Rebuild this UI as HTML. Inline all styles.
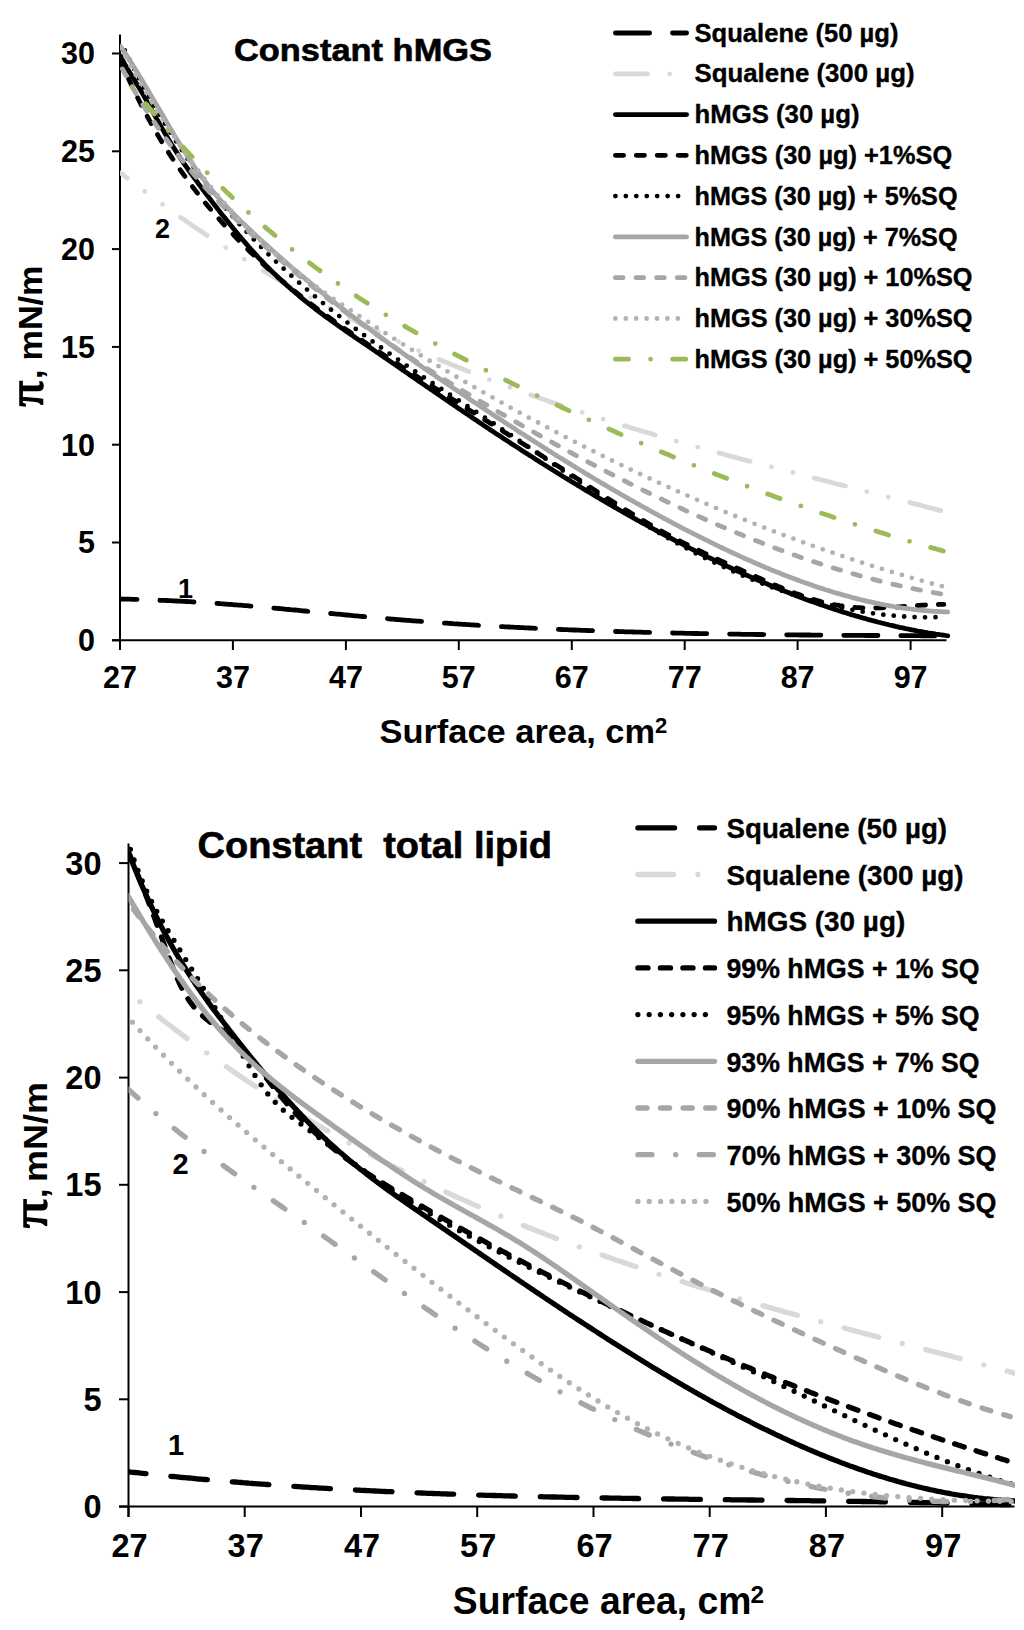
<!DOCTYPE html>
<html><head><meta charset="utf-8"><title>Surface pressure isotherms</title>
<style>
html,body{margin:0;padding:0;background:#fff;}
svg{display:block;}
</style></head>
<body>
<svg width="1024" height="1630" viewBox="0 0 1024 1630">
<rect width="1024" height="1630" fill="#fff"/>
<g stroke="#000" stroke-width="2" fill="none">
<line x1="120" y1="34.5" x2="120" y2="650"/>
<line x1="112" y1="640.3" x2="946.5" y2="640.3"/>
<line x1="112" y1="640.3" x2="120" y2="640.3"/>
<line x1="112" y1="542.5" x2="120" y2="542.5"/>
<line x1="112" y1="444.7" x2="120" y2="444.7"/>
<line x1="112" y1="346.9" x2="120" y2="346.9"/>
<line x1="112" y1="249.1" x2="120" y2="249.1"/>
<line x1="112" y1="151.3" x2="120" y2="151.3"/>
<line x1="112" y1="53.5" x2="120" y2="53.5"/>
<line x1="120.0" y1="640.3" x2="120.0" y2="650"/>
<line x1="232.9" y1="640.3" x2="232.9" y2="650"/>
<line x1="345.9" y1="640.3" x2="345.9" y2="650"/>
<line x1="458.8" y1="640.3" x2="458.8" y2="650"/>
<line x1="571.8" y1="640.3" x2="571.8" y2="650"/>
<line x1="684.7" y1="640.3" x2="684.7" y2="650"/>
<line x1="797.6" y1="640.3" x2="797.6" y2="650"/>
<line x1="910.6" y1="640.3" x2="910.6" y2="650"/>
</g>
<text x="95.0" y="651.1" font-size="30.5" text-anchor="end" font-weight="bold" font-family='"Liberation Sans", Arial, sans-serif'>0</text>
<text x="95.0" y="553.3" font-size="30.5" text-anchor="end" font-weight="bold" font-family='"Liberation Sans", Arial, sans-serif'>5</text>
<text x="95.0" y="455.5" font-size="30.5" text-anchor="end" font-weight="bold" font-family='"Liberation Sans", Arial, sans-serif'>10</text>
<text x="95.0" y="357.7" font-size="30.5" text-anchor="end" font-weight="bold" font-family='"Liberation Sans", Arial, sans-serif'>15</text>
<text x="95.0" y="259.9" font-size="30.5" text-anchor="end" font-weight="bold" font-family='"Liberation Sans", Arial, sans-serif'>20</text>
<text x="95.0" y="162.1" font-size="30.5" text-anchor="end" font-weight="bold" font-family='"Liberation Sans", Arial, sans-serif'>25</text>
<text x="95.0" y="64.3" font-size="30.5" text-anchor="end" font-weight="bold" font-family='"Liberation Sans", Arial, sans-serif'>30</text>
<text x="120.0" y="687.7" font-size="30.5" text-anchor="middle" font-weight="bold" font-family='"Liberation Sans", Arial, sans-serif'>27</text>
<text x="232.9" y="687.7" font-size="30.5" text-anchor="middle" font-weight="bold" font-family='"Liberation Sans", Arial, sans-serif'>37</text>
<text x="345.9" y="687.7" font-size="30.5" text-anchor="middle" font-weight="bold" font-family='"Liberation Sans", Arial, sans-serif'>47</text>
<text x="458.8" y="687.7" font-size="30.5" text-anchor="middle" font-weight="bold" font-family='"Liberation Sans", Arial, sans-serif'>57</text>
<text x="571.8" y="687.7" font-size="30.5" text-anchor="middle" font-weight="bold" font-family='"Liberation Sans", Arial, sans-serif'>67</text>
<text x="684.7" y="687.7" font-size="30.5" text-anchor="middle" font-weight="bold" font-family='"Liberation Sans", Arial, sans-serif'>77</text>
<text x="797.6" y="687.7" font-size="30.5" text-anchor="middle" font-weight="bold" font-family='"Liberation Sans", Arial, sans-serif'>87</text>
<text x="910.6" y="687.7" font-size="30.5" text-anchor="middle" font-weight="bold" font-family='"Liberation Sans", Arial, sans-serif'>97</text>
<g stroke="#000" stroke-width="2" fill="none">
<line x1="128.5" y1="843.4" x2="128.5" y2="1517"/>
<line x1="119" y1="1506.6" x2="1014.5" y2="1506.6"/>
<line x1="119" y1="1506.6" x2="128.5" y2="1506.6"/>
<line x1="119" y1="1399.3" x2="128.5" y2="1399.3"/>
<line x1="119" y1="1292.1" x2="128.5" y2="1292.1"/>
<line x1="119" y1="1184.8" x2="128.5" y2="1184.8"/>
<line x1="119" y1="1077.6" x2="128.5" y2="1077.6"/>
<line x1="119" y1="970.3" x2="128.5" y2="970.3"/>
<line x1="119" y1="863.1" x2="128.5" y2="863.1"/>
<line x1="128.5" y1="1506.6" x2="128.5" y2="1517"/>
<line x1="244.7" y1="1506.6" x2="244.7" y2="1517"/>
<line x1="361.0" y1="1506.6" x2="361.0" y2="1517"/>
<line x1="477.2" y1="1506.6" x2="477.2" y2="1517"/>
<line x1="593.5" y1="1506.6" x2="593.5" y2="1517"/>
<line x1="709.7" y1="1506.6" x2="709.7" y2="1517"/>
<line x1="825.9" y1="1506.6" x2="825.9" y2="1517"/>
<line x1="942.2" y1="1506.6" x2="942.2" y2="1517"/>
</g>
<text x="101.5" y="1518.2" font-size="32.5" text-anchor="end" font-weight="bold" font-family='"Liberation Sans", Arial, sans-serif'>0</text>
<text x="101.5" y="1410.9" font-size="32.5" text-anchor="end" font-weight="bold" font-family='"Liberation Sans", Arial, sans-serif'>5</text>
<text x="101.5" y="1303.7" font-size="32.5" text-anchor="end" font-weight="bold" font-family='"Liberation Sans", Arial, sans-serif'>10</text>
<text x="101.5" y="1196.4" font-size="32.5" text-anchor="end" font-weight="bold" font-family='"Liberation Sans", Arial, sans-serif'>15</text>
<text x="101.5" y="1089.2" font-size="32.5" text-anchor="end" font-weight="bold" font-family='"Liberation Sans", Arial, sans-serif'>20</text>
<text x="101.5" y="981.9" font-size="32.5" text-anchor="end" font-weight="bold" font-family='"Liberation Sans", Arial, sans-serif'>25</text>
<text x="101.5" y="874.7" font-size="32.5" text-anchor="end" font-weight="bold" font-family='"Liberation Sans", Arial, sans-serif'>30</text>
<text x="129.5" y="1556.7" font-size="32.5" text-anchor="middle" font-weight="bold" font-family='"Liberation Sans", Arial, sans-serif'>27</text>
<text x="245.7" y="1556.7" font-size="32.5" text-anchor="middle" font-weight="bold" font-family='"Liberation Sans", Arial, sans-serif'>37</text>
<text x="362.0" y="1556.7" font-size="32.5" text-anchor="middle" font-weight="bold" font-family='"Liberation Sans", Arial, sans-serif'>47</text>
<text x="478.2" y="1556.7" font-size="32.5" text-anchor="middle" font-weight="bold" font-family='"Liberation Sans", Arial, sans-serif'>57</text>
<text x="594.5" y="1556.7" font-size="32.5" text-anchor="middle" font-weight="bold" font-family='"Liberation Sans", Arial, sans-serif'>67</text>
<text x="710.7" y="1556.7" font-size="32.5" text-anchor="middle" font-weight="bold" font-family='"Liberation Sans", Arial, sans-serif'>77</text>
<text x="826.9" y="1556.7" font-size="32.5" text-anchor="middle" font-weight="bold" font-family='"Liberation Sans", Arial, sans-serif'>87</text>
<text x="943.2" y="1556.7" font-size="32.5" text-anchor="middle" font-weight="bold" font-family='"Liberation Sans", Arial, sans-serif'>97</text>
<defs><clipPath id="c1"><rect x="120" y="28" width="830" height="617"/></clipPath><clipPath id="c2"><rect x="128.5" y="836" width="886.5" height="674"/></clipPath></defs>
<g clip-path="url(#c1)">
<path d="M120.3,599.0 L122.3,599.1 L124.3,599.1 L126.3,599.1 L128.3,599.2 L130.3,599.2 L132.3,599.3 L134.3,599.4 L136.3,599.4 L138.3,599.5 L140.3,599.5 L142.3,599.6 L144.3,599.7 L146.4,599.7 L148.4,599.8 L150.4,599.9 L152.4,599.9 L154.4,600.0 L156.4,600.1 L158.4,600.2 L160.4,600.3 L162.4,600.3 L164.4,600.4 L166.4,600.5 L168.4,600.6 L170.4,600.7 L172.4,600.8 L174.4,600.9 L176.4,601.0 L178.4,601.1 L180.4,601.2 L182.4,601.3 L184.4,601.4 L186.4,601.5 L188.4,601.6 L190.4,601.7 L192.4,601.9 L194.5,602.0 L196.5,602.1 L198.5,602.2 L200.5,602.3 L202.5,602.5 L204.5,602.6 L206.5,602.7 L208.5,602.9 L210.5,603.0 L212.5,603.1 L214.5,603.3 L216.5,603.4 L218.5,603.5 L220.5,603.7 L222.5,603.8 L224.5,604.0 L226.5,604.1 L228.5,604.3 L230.5,604.4 L232.5,604.6 L234.5,604.8 L236.5,604.9 L238.5,605.1 L240.5,605.2 L242.6,605.4 L244.6,605.6 L246.6,605.7 L248.6,605.9 L250.6,606.1 L252.6,606.2 L254.6,606.4 L256.6,606.6 L258.6,606.7 L260.6,606.9 L262.6,607.1 L264.6,607.3 L266.6,607.5 L268.6,607.6 L270.6,607.8 L272.6,608.0 L274.6,608.2 L276.6,608.4 L278.6,608.5 L280.6,608.7 L282.6,608.9 L284.6,609.1 L286.6,609.3 L288.6,609.5 L290.7,609.7 L292.7,609.8 L294.7,610.0 L296.7,610.2 L298.7,610.4 L300.7,610.6 L302.7,610.8 L304.7,611.0 L306.7,611.2 L308.7,611.4 L310.7,611.6 L312.7,611.7 L314.7,611.9 L316.7,612.1 L318.7,612.3 L320.7,612.5 L322.7,612.7 L324.7,612.9 L326.7,613.1 L328.7,613.3 L330.7,613.5 L332.7,613.7 L334.7,613.9 L336.7,614.1 L338.7,614.2 L340.8,614.4 L342.8,614.6 L344.8,614.8 L346.8,615.0 L348.8,615.2 L350.8,615.4 L352.8,615.6 L354.8,615.8 L356.8,615.9 L358.8,616.1 L360.8,616.3 L362.8,616.5 L364.8,616.7 L366.8,616.9 L368.8,617.0 L370.8,617.2 L372.8,617.4 L374.8,617.6 L376.8,617.8 L378.8,617.9 L380.8,618.1 L382.8,618.3 L384.8,618.5 L386.8,618.6 L388.9,618.8 L390.9,619.0 L392.9,619.1 L394.9,619.3 L396.9,619.5 L398.9,619.6 L400.9,619.8 L402.9,620.0 L404.9,620.1 L406.9,620.3 L408.9,620.4 L410.9,620.6 L412.9,620.8 L414.9,620.9 L416.9,621.1 L418.9,621.2 L420.9,621.4 L422.9,621.5 L424.9,621.7 L426.9,621.8 L428.9,622.0 L430.9,622.1 L432.9,622.3 L434.9,622.4 L437.0,622.5 L439.0,622.7 L441.0,622.8 L443.0,623.0 L445.0,623.1 L447.0,623.2 L449.0,623.4 L451.0,623.5 L453.0,623.7 L455.0,623.8 L457.0,623.9 L459.0,624.1 L461.0,624.2 L463.0,624.3 L465.0,624.4 L467.0,624.6 L469.0,624.7 L471.0,624.8 L473.0,624.9 L475.0,625.1 L477.0,625.2 L479.0,625.3 L481.0,625.4 L483.0,625.6 L485.1,625.7 L487.1,625.8 L489.1,625.9 L491.1,626.0 L493.1,626.1 L495.1,626.2 L497.1,626.4 L499.1,626.5 L501.1,626.6 L503.1,626.7 L505.1,626.8 L507.1,626.9 L509.1,627.0 L511.1,627.1 L513.1,627.2 L515.1,627.3 L517.1,627.4 L519.1,627.5 L521.1,627.6 L523.1,627.7 L525.1,627.8 L527.1,627.9 L529.1,628.0 L531.1,628.1 L533.1,628.2 L535.2,628.3 L537.2,628.4 L539.2,628.5 L541.2,628.6 L543.2,628.7 L545.2,628.8 L547.2,628.9 L549.2,629.0 L551.2,629.1 L553.2,629.1 L555.2,629.2 L557.2,629.3 L559.2,629.4 L561.2,629.5 L563.2,629.6 L565.2,629.6 L567.2,629.7 L569.2,629.8 L571.2,629.9 L573.2,630.0 L575.2,630.0 L577.2,630.1 L579.2,630.2 L581.2,630.3 L583.3,630.4 L585.3,630.4 L587.3,630.5 L589.3,630.6 L591.3,630.6 L593.3,630.7 L595.3,630.8 L597.3,630.9 L599.3,630.9 L601.3,631.0 L603.3,631.1 L605.3,631.1 L607.3,631.2 L609.3,631.3 L611.3,631.3 L613.3,631.4 L615.3,631.5 L617.3,631.5 L619.3,631.6 L621.3,631.6 L623.3,631.7 L625.3,631.8 L627.3,631.8 L629.3,631.9 L631.4,631.9 L633.4,632.0 L635.4,632.1 L637.4,632.1 L639.4,632.2 L641.4,632.2 L643.4,632.3 L645.4,632.3 L647.4,632.4 L649.4,632.4 L651.4,632.5 L653.4,632.5 L655.4,632.6 L657.4,632.6 L659.4,632.7 L661.4,632.7 L663.4,632.8 L665.4,632.8 L667.4,632.9 L669.4,632.9 L671.4,633.0 L673.4,633.0 L675.4,633.1 L677.4,633.1 L679.5,633.2 L681.5,633.2 L683.5,633.2 L685.5,633.3 L687.5,633.3 L689.5,633.4 L691.5,633.4 L693.5,633.5 L695.5,633.5 L697.5,633.5 L699.5,633.6 L701.5,633.6 L703.5,633.6 L705.5,633.7 L707.5,633.7 L709.5,633.8 L711.5,633.8 L713.5,633.8 L715.5,633.9 L717.5,633.9 L719.5,633.9 L721.5,634.0 L723.5,634.0 L725.5,634.0 L727.6,634.1 L729.6,634.1 L731.6,634.1 L733.6,634.2 L735.6,634.2 L737.6,634.2 L739.6,634.2 L741.6,634.3 L743.6,634.3 L745.6,634.3 L747.6,634.4 L749.6,634.4 L751.6,634.4 L753.6,634.4 L755.6,634.5 L757.6,634.5 L759.6,634.5 L761.6,634.5 L763.6,634.6 L765.6,634.6 L767.6,634.6 L769.6,634.6 L771.6,634.7 L773.6,634.7 L775.6,634.7 L777.7,634.7 L779.7,634.8 L781.7,634.8 L783.7,634.8 L785.7,634.8 L787.7,634.8 L789.7,634.9 L791.7,634.9 L793.7,634.9 L795.7,634.9 L797.7,634.9 L799.7,635.0 L801.7,635.0 L803.7,635.0 L805.7,635.0 L807.7,635.0 L809.7,635.0 L811.7,635.1 L813.7,635.1 L815.7,635.1 L817.7,635.1 L819.7,635.1 L821.7,635.1 L823.7,635.2 L825.8,635.2 L827.8,635.2 L829.8,635.2 L831.8,635.2 L833.8,635.2 L835.8,635.3 L837.8,635.3 L839.8,635.3 L841.8,635.3 L843.8,635.3 L845.8,635.3 L847.8,635.3 L849.8,635.4 L851.8,635.4 L853.8,635.4 L855.8,635.4 L857.8,635.4 L859.8,635.4 L861.8,635.4 L863.8,635.4 L865.8,635.5 L867.8,635.5 L869.8,635.5 L871.8,635.5 L873.9,635.5 L875.9,635.5 L877.9,635.5 L879.9,635.5 L881.9,635.5 L883.9,635.6 L885.9,635.6 L887.9,635.6 L889.9,635.6 L891.9,635.6 L893.9,635.6 L895.9,635.6 L897.9,635.6 L899.9,635.6 L901.9,635.7 L903.9,635.7 L905.9,635.7 L907.9,635.7 L909.9,635.7 L911.9,635.7 L913.9,635.7 L915.9,635.7 L917.9,635.7 L919.9,635.7 L922.0,635.8 L924.0,635.8 L926.0,635.8 L928.0,635.8 L930.0,635.8 L932.0,635.8 L934.0,635.8 L936.0,635.8 L938.0,635.8 L940.0,635.8 L942.0,635.9 L944.0,635.9 L946.0,635.9" fill="none" stroke="#000" stroke-width="4.8" stroke-linecap="round" stroke-linejoin="round" stroke-dasharray="34.2 22.9" stroke-dashoffset="17.47"/>
<path d="M120.9,173.1 L122.9,174.7 L124.9,176.3 L126.9,177.8 L128.9,179.4 L130.9,180.9 L132.9,182.4 L134.9,184.0 L136.9,185.5 L138.9,187.0 L140.9,188.5 L142.9,190.0 L144.9,191.5 L146.9,193.0 L148.9,194.5 L150.9,196.0 L152.9,197.5 L154.9,198.9 L156.9,200.4 L159.0,201.9 L161.0,203.3 L163.0,204.8 L165.0,206.2 L167.0,207.7 L169.0,209.1 L171.0,210.5 L173.0,211.9 L175.0,213.4 L177.0,214.8 L179.0,216.2 L181.0,217.6 L183.0,219.0 L185.0,220.4 L187.0,221.8 L189.0,223.1 L191.0,224.5 L193.0,225.9 L195.0,227.2 L197.0,228.6 L199.0,230.0 L201.0,231.3 L203.0,232.6 L205.0,234.0 L207.0,235.3 L209.0,236.7 L211.0,238.0 L213.0,239.3 L215.0,240.6 L217.0,241.9 L219.0,243.2 L221.0,244.5 L223.0,245.8 L225.0,247.1 L227.0,248.4 L229.0,249.7 L231.0,250.9 L233.0,252.2 L235.1,253.5 L237.1,254.7 L239.1,256.0 L241.1,257.2 L243.1,258.5 L245.1,259.7 L247.1,260.9 L249.1,262.2 L251.1,263.4 L253.1,264.6 L255.1,265.8 L257.1,267.0 L259.1,268.3 L261.1,269.5 L263.1,270.6 L265.1,271.8 L267.1,273.0 L269.1,274.2 L271.1,275.4 L273.1,276.6 L275.1,277.7 L277.1,278.9 L279.1,280.1 L281.1,281.2 L283.1,282.4 L285.1,283.5 L287.1,284.6 L289.1,285.8 L291.1,286.9 L293.1,288.0 L295.1,289.2 L297.1,290.3 L299.1,291.4 L301.1,292.5 L303.1,293.6 L305.1,294.7 L307.1,295.8 L309.2,296.9 L311.2,298.0 L313.2,299.1 L315.2,300.2 L317.2,301.2 L319.2,302.3 L321.2,303.4 L323.2,304.4 L325.2,305.5 L327.2,306.6 L329.2,307.6 L331.2,308.7 L333.2,309.7 L335.2,310.7 L337.2,311.8 L339.2,312.8 L341.2,313.8 L343.2,314.9 L345.2,315.9 L347.2,316.9 L349.2,317.9 L351.2,318.9 L353.2,319.9 L355.2,320.9 L357.2,321.9 L359.2,322.9 L361.2,323.9 L363.2,324.9 L365.2,325.8 L367.2,326.8 L369.2,327.8 L371.2,328.7 L373.2,329.7 L375.2,330.7 L377.2,331.6 L379.2,332.6 L381.2,333.5 L383.2,334.5 L385.3,335.4 L387.3,336.4 L389.3,337.3 L391.3,338.2 L393.3,339.1 L395.3,340.1 L397.3,341.0 L399.3,341.9 L401.3,342.8 L403.3,343.7 L405.3,344.6 L407.3,345.5 L409.3,346.4 L411.3,347.3 L413.3,348.2 L415.3,349.1 L417.3,350.0 L419.3,350.9 L421.3,351.7 L423.3,352.6 L425.3,353.5 L427.3,354.3 L429.3,355.2 L431.3,356.1 L433.3,356.9 L435.3,357.8 L437.3,358.6 L439.3,359.5 L441.3,360.3 L443.3,361.2 L445.3,362.0 L447.3,362.8 L449.3,363.7 L451.3,364.5 L453.3,365.3 L455.3,366.1 L457.3,367.0 L459.4,367.8 L461.4,368.6 L463.4,369.4 L465.4,370.2 L467.4,371.0 L469.4,371.8 L471.4,372.6 L473.4,373.4 L475.4,374.2 L477.4,375.0 L479.4,375.8 L481.4,376.5 L483.4,377.3 L485.4,378.1 L487.4,378.9 L489.4,379.6 L491.4,380.4 L493.4,381.2 L495.4,381.9 L497.4,382.7 L499.4,383.4 L501.4,384.2 L503.4,384.9 L505.4,385.7 L507.4,386.4 L509.4,387.2 L511.4,387.9 L513.4,388.7 L515.4,389.4 L517.4,390.1 L519.4,390.9 L521.4,391.6 L523.4,392.3 L525.4,393.0 L527.4,393.7 L529.4,394.5 L531.4,395.2 L533.5,395.9 L535.5,396.6 L537.5,397.3 L539.5,398.0 L541.5,398.7 L543.5,399.4 L545.5,400.1 L547.5,400.8 L549.5,401.5 L551.5,402.2 L553.5,402.9 L555.5,403.5 L557.5,404.2 L559.5,404.9 L561.5,405.6 L563.5,406.3 L565.5,406.9 L567.5,407.6 L569.5,408.3 L571.5,408.9 L573.5,409.6 L575.5,410.3 L577.5,410.9 L579.5,411.6 L581.5,412.2 L583.5,412.9 L585.5,413.5 L587.5,414.2 L589.5,414.8 L591.5,415.5 L593.5,416.1 L595.5,416.8 L597.5,417.4 L599.5,418.0 L601.5,418.7 L603.5,419.3 L605.5,419.9 L607.5,420.6 L609.6,421.2 L611.6,421.8 L613.6,422.4 L615.6,423.1 L617.6,423.7 L619.6,424.3 L621.6,424.9 L623.6,425.5 L625.6,426.1 L627.6,426.7 L629.6,427.3 L631.6,428.0 L633.6,428.6 L635.6,429.2 L637.6,429.8 L639.6,430.4 L641.6,431.0 L643.6,431.6 L645.6,432.2 L647.6,432.7 L649.6,433.3 L651.6,433.9 L653.6,434.5 L655.6,435.1 L657.6,435.7 L659.6,436.3 L661.6,436.9 L663.6,437.4 L665.6,438.0 L667.6,438.6 L669.6,439.2 L671.6,439.7 L673.6,440.3 L675.6,440.9 L677.6,441.5 L679.6,442.0 L681.6,442.6 L683.7,443.2 L685.7,443.7 L687.7,444.3 L689.7,444.9 L691.7,445.4 L693.7,446.0 L695.7,446.5 L697.7,447.1 L699.7,447.7 L701.7,448.2 L703.7,448.8 L705.7,449.3 L707.7,449.9 L709.7,450.4 L711.7,451.0 L713.7,451.5 L715.7,452.1 L717.7,452.6 L719.7,453.2 L721.7,453.7 L723.7,454.2 L725.7,454.8 L727.7,455.3 L729.7,455.9 L731.7,456.4 L733.7,457.0 L735.7,457.5 L737.7,458.0 L739.7,458.6 L741.7,459.1 L743.7,459.6 L745.7,460.2 L747.7,460.7 L749.7,461.2 L751.7,461.8 L753.7,462.3 L755.7,462.8 L757.7,463.4 L759.8,463.9 L761.8,464.4 L763.8,464.9 L765.8,465.5 L767.8,466.0 L769.8,466.5 L771.8,467.0 L773.8,467.6 L775.8,468.1 L777.8,468.6 L779.8,469.1 L781.8,469.6 L783.8,470.2 L785.8,470.7 L787.8,471.2 L789.8,471.7 L791.8,472.2 L793.8,472.8 L795.8,473.3 L797.8,473.8 L799.8,474.3 L801.8,474.8 L803.8,475.3 L805.8,475.9 L807.8,476.4 L809.8,476.9 L811.8,477.4 L813.8,477.9 L815.8,478.4 L817.8,479.0 L819.8,479.5 L821.8,480.0 L823.8,480.5 L825.8,481.0 L827.8,481.5 L829.8,482.0 L831.8,482.5 L833.9,483.1 L835.9,483.6 L837.9,484.1 L839.9,484.6 L841.9,485.1 L843.9,485.6 L845.9,486.1 L847.9,486.6 L849.9,487.2 L851.9,487.7 L853.9,488.2 L855.9,488.7 L857.9,489.2 L859.9,489.7 L861.9,490.2 L863.9,490.7 L865.9,491.3 L867.9,491.8 L869.9,492.3 L871.9,492.8 L873.9,493.3 L875.9,493.8 L877.9,494.3 L879.9,494.9 L881.9,495.4 L883.9,495.9 L885.9,496.4 L887.9,496.9 L889.9,497.4 L891.9,497.9 L893.9,498.5 L895.9,499.0 L897.9,499.5 L899.9,500.0 L901.9,500.5 L903.9,501.0 L905.9,501.6 L907.9,502.1 L910.0,502.6 L912.0,503.1 L914.0,503.6 L916.0,504.2 L918.0,504.7 L920.0,505.2 L922.0,505.7 L924.0,506.3 L926.0,506.8 L928.0,507.3 L930.0,507.8 L932.0,508.4 L934.0,508.9 L936.0,509.4 L938.0,509.9 L940.0,510.5 L942.0,511.0 L944.0,511.5 L946.0,512.1" fill="none" stroke="#d9d9d9" stroke-width="4.8" stroke-linecap="round" stroke-linejoin="round" stroke-dasharray="32.2 22.1 0 22.1 0 22.1" stroke-dashoffset="24.24"/>
<path d="M120.5,55.9 L122.5,59.9 L124.5,63.7 L126.5,67.2 L128.5,70.5 L130.5,73.7 L132.5,76.9 L134.5,80.1 L136.5,83.4 L138.5,86.7 L140.5,90.1 L142.5,93.6 L144.5,97.1 L146.5,100.6 L148.5,104.2 L150.5,107.8 L152.5,111.4 L154.5,115.0 L156.6,118.6 L158.6,122.2 L160.6,125.8 L162.6,129.3 L164.6,132.7 L166.6,136.1 L168.6,139.5 L170.6,142.8 L172.6,146.0 L174.6,149.1 L176.6,152.3 L178.6,155.3 L180.6,158.4 L182.6,161.3 L184.6,164.3 L186.6,167.2 L188.6,170.0 L190.6,172.8 L192.6,175.6 L194.6,178.4 L196.6,181.1 L198.6,183.9 L200.6,186.5 L202.6,189.2 L204.6,191.9 L206.6,194.5 L208.6,197.1 L210.6,199.7 L212.6,202.4 L214.6,204.9 L216.6,207.5 L218.6,210.1 L220.6,212.7 L222.6,215.2 L224.7,217.7 L226.7,220.3 L228.7,222.8 L230.7,225.2 L232.7,227.7 L234.7,230.2 L236.7,232.6 L238.7,235.0 L240.7,237.4 L242.7,239.7 L244.7,242.1 L246.7,244.4 L248.7,246.7 L250.7,249.0 L252.7,251.2 L254.7,253.4 L256.7,255.6 L258.7,257.8 L260.7,259.9 L262.7,262.0 L264.7,264.1 L266.7,266.2 L268.7,268.2 L270.7,270.2 L272.7,272.2 L274.7,274.1 L276.7,276.0 L278.7,277.9 L280.7,279.8 L282.7,281.6 L284.7,283.5 L286.7,285.3 L288.7,287.0 L290.7,288.8 L292.7,290.5 L294.8,292.3 L296.8,294.0 L298.8,295.6 L300.8,297.3 L302.8,298.9 L304.8,300.6 L306.8,302.2 L308.8,303.8 L310.8,305.3 L312.8,306.9 L314.8,308.5 L316.8,310.0 L318.8,311.5 L320.8,313.0 L322.8,314.5 L324.8,316.0 L326.8,317.5 L328.8,318.9 L330.8,320.4 L332.8,321.8 L334.8,323.2 L336.8,324.7 L338.8,326.1 L340.8,327.5 L342.8,328.9 L344.8,330.3 L346.8,331.7 L348.8,333.1 L350.8,334.5 L352.8,335.8 L354.8,337.2 L356.8,338.6 L358.8,339.9 L360.8,341.3 L362.9,342.7 L364.9,344.0 L366.9,345.4 L368.9,346.8 L370.9,348.1 L372.9,349.5 L374.9,350.9 L376.9,352.3 L378.9,353.6 L380.9,355.0 L382.9,356.4 L384.9,357.7 L386.9,359.1 L388.9,360.5 L390.9,361.9 L392.9,363.3 L394.9,364.6 L396.9,366.0 L398.9,367.4 L400.9,368.8 L402.9,370.2 L404.9,371.5 L406.9,372.9 L408.9,374.3 L410.9,375.7 L412.9,377.1 L414.9,378.4 L416.9,379.8 L418.9,381.2 L420.9,382.6 L422.9,384.0 L424.9,385.3 L426.9,386.7 L428.9,388.1 L431.0,389.5 L433.0,390.8 L435.0,392.2 L437.0,393.6 L439.0,395.0 L441.0,396.3 L443.0,397.7 L445.0,399.1 L447.0,400.5 L449.0,401.8 L451.0,403.2 L453.0,404.6 L455.0,405.9 L457.0,407.3 L459.0,408.7 L461.0,410.0 L463.0,411.4 L465.0,412.7 L467.0,414.1 L469.0,415.4 L471.0,416.8 L473.0,418.2 L475.0,419.5 L477.0,420.8 L479.0,422.2 L481.0,423.5 L483.0,424.9 L485.0,426.2 L487.0,427.5 L489.0,428.9 L491.0,430.2 L493.0,431.5 L495.0,432.9 L497.0,434.2 L499.0,435.5 L501.1,436.8 L503.1,438.2 L505.1,439.5 L507.1,440.8 L509.1,442.1 L511.1,443.4 L513.1,444.7 L515.1,446.0 L517.1,447.3 L519.1,448.6 L521.1,449.9 L523.1,451.2 L525.1,452.5 L527.1,453.8 L529.1,455.1 L531.1,456.3 L533.1,457.6 L535.1,458.9 L537.1,460.2 L539.1,461.4 L541.1,462.7 L543.1,464.0 L545.1,465.2 L547.1,466.5 L549.1,467.8 L551.1,469.0 L553.1,470.3 L555.1,471.5 L557.1,472.8 L559.1,474.0 L561.1,475.2 L563.1,476.5 L565.1,477.7 L567.1,478.9 L569.2,480.2 L571.2,481.4 L573.2,482.6 L575.2,483.8 L577.2,485.1 L579.2,486.3 L581.2,487.5 L583.2,488.7 L585.2,489.9 L587.2,491.1 L589.2,492.3 L591.2,493.5 L593.2,494.7 L595.2,495.9 L597.2,497.1 L599.2,498.2 L601.2,499.4 L603.2,500.6 L605.2,501.8 L607.2,502.9 L609.2,504.1 L611.2,505.3 L613.2,506.4 L615.2,507.6 L617.2,508.7 L619.2,509.9 L621.2,511.0 L623.2,512.2 L625.2,513.3 L627.2,514.4 L629.2,515.6 L631.2,516.7 L633.2,517.8 L635.2,518.9 L637.2,520.1 L639.3,521.2 L641.3,522.3 L643.3,523.4 L645.3,524.5 L647.3,525.6 L649.3,526.7 L651.3,527.8 L653.3,528.9 L655.3,530.0 L657.3,531.0 L659.3,532.1 L661.3,533.2 L663.3,534.3 L665.3,535.3 L667.3,536.4 L669.3,537.4 L671.3,538.5 L673.3,539.5 L675.3,540.6 L677.3,541.6 L679.3,542.7 L681.3,543.7 L683.3,544.7 L685.3,545.8 L687.3,546.8 L689.3,547.8 L691.3,548.8 L693.3,549.8 L695.3,550.8 L697.3,551.8 L699.3,552.8 L701.3,553.8 L703.3,554.8 L705.3,555.8 L707.4,556.8 L709.4,557.8 L711.4,558.7 L713.4,559.7 L715.4,560.7 L717.4,561.6 L719.4,562.6 L721.4,563.5 L723.4,564.5 L725.4,565.4 L727.4,566.4 L729.4,567.3 L731.4,568.2 L733.4,569.1 L735.4,570.1 L737.4,571.0 L739.4,571.9 L741.4,572.8 L743.4,573.7 L745.4,574.6 L747.4,575.5 L749.4,576.4 L751.4,577.3 L753.4,578.1 L755.4,579.0 L757.4,579.9 L759.4,580.7 L761.4,581.6 L763.4,582.5 L765.4,583.3 L767.4,584.1 L769.4,585.0 L771.4,585.8 L773.4,586.6 L775.5,587.5 L777.5,588.3 L779.5,589.1 L781.5,589.9 L783.5,590.7 L785.5,591.5 L787.5,592.3 L789.5,593.1 L791.5,593.9 L793.5,594.6 L795.5,595.4 L797.5,596.2 L799.5,596.9 L801.5,597.7 L803.5,598.4 L805.5,599.2 L807.5,599.9 L809.5,600.7 L811.5,601.4 L813.5,602.1 L815.5,602.8 L817.5,603.5 L819.5,604.2 L821.5,604.9 L823.5,605.6 L825.5,606.3 L827.5,607.0 L829.5,607.7 L831.5,608.3 L833.5,609.0 L835.5,609.6 L837.5,610.3 L839.5,610.9 L841.5,611.6 L843.5,612.2 L845.6,612.8 L847.6,613.4 L849.6,614.1 L851.6,614.7 L853.6,615.3 L855.6,615.9 L857.6,616.4 L859.6,617.0 L861.6,617.6 L863.6,618.2 L865.6,618.7 L867.6,619.3 L869.6,619.8 L871.6,620.4 L873.6,620.9 L875.6,621.4 L877.6,622.0 L879.6,622.5 L881.6,623.0 L883.6,623.5 L885.6,624.0 L887.6,624.5 L889.6,625.0 L891.6,625.4 L893.6,625.9 L895.6,626.4 L897.6,626.8 L899.6,627.3 L901.6,627.7 L903.6,628.1 L905.6,628.6 L907.6,629.0 L909.6,629.4 L911.6,629.8 L913.7,630.2 L915.7,630.6 L917.7,631.0 L919.7,631.3 L921.7,631.7 L923.7,632.1 L925.7,632.4 L927.7,632.8 L929.7,633.1 L931.7,633.4 L933.7,633.7 L935.7,634.1 L937.7,634.4 L939.7,634.7 L941.7,635.0 L943.7,635.2 L945.7,635.5 L947.7,635.8" fill="none" stroke="#000" stroke-width="4.8" stroke-linecap="round" stroke-linejoin="round"/>
<path d="M121.0,61.6 L123.0,66.3 L125.0,70.8 L127.0,75.3 L129.0,79.7 L131.0,84.0 L133.0,88.2 L135.0,92.4 L137.0,96.5 L139.0,100.5 L141.0,104.5 L143.0,108.4 L145.0,112.2 L147.0,115.9 L149.0,119.6 L151.0,123.2 L153.0,126.8 L155.0,130.3 L157.0,133.7 L159.0,137.1 L161.0,140.5 L163.0,143.7 L165.0,147.0 L167.0,150.1 L169.0,153.3 L171.0,156.4 L173.0,159.4 L175.0,162.4 L177.1,165.3 L179.1,168.2 L181.1,171.1 L183.1,173.9 L185.1,176.7 L187.1,179.5 L189.1,182.2 L191.1,184.8 L193.1,187.5 L195.1,190.1 L197.1,192.7 L199.1,195.2 L201.1,197.7 L203.1,200.2 L205.1,202.7 L207.1,205.1 L209.1,207.5 L211.1,209.9 L213.1,212.2 L215.1,214.5 L217.1,216.8 L219.1,219.1 L221.1,221.4 L223.1,223.6 L225.1,225.8 L227.1,228.0 L229.1,230.2 L231.1,232.3 L233.1,234.4 L235.1,236.5 L237.1,238.6 L239.1,240.7 L241.1,242.7 L243.1,244.8 L245.1,246.8 L247.1,248.8 L249.1,250.7 L251.1,252.7 L253.1,254.6 L255.1,256.5 L257.1,258.4 L259.1,260.3 L261.1,262.2 L263.1,264.0 L265.1,265.9 L267.1,267.7 L269.1,269.5 L271.1,271.3 L273.1,273.0 L275.1,274.8 L277.1,276.5 L279.1,278.3 L281.1,280.0 L283.1,281.7 L285.1,283.4 L287.2,285.0 L289.2,286.7 L291.2,288.3 L293.2,290.0 L295.2,291.6 L297.2,293.2 L299.2,294.8 L301.2,296.4 L303.2,298.0 L305.2,299.5 L307.2,301.1 L309.2,302.6 L311.2,304.2 L313.2,305.7 L315.2,307.2 L317.2,308.7 L319.2,310.2 L321.2,311.7 L323.2,313.1 L325.2,314.6 L327.2,316.1 L329.2,317.5 L331.2,319.0 L333.2,320.4 L335.2,321.8 L337.2,323.2 L339.2,324.7 L341.2,326.1 L343.2,327.5 L345.2,328.9 L347.2,330.3 L349.2,331.6 L351.2,333.0 L353.2,334.4 L355.2,335.8 L357.2,337.1 L359.2,338.5 L361.2,339.8 L363.2,341.2 L365.2,342.5 L367.2,343.9 L369.2,345.2 L371.2,346.6 L373.2,347.9 L375.2,349.3 L377.2,350.6 L379.2,351.9 L381.2,353.2 L383.2,354.6 L385.2,355.9 L387.2,357.2 L389.2,358.5 L391.2,359.9 L393.2,361.2 L395.2,362.5 L397.3,363.8 L399.3,365.1 L401.3,366.4 L403.3,367.7 L405.3,369.0 L407.3,370.3 L409.3,371.6 L411.3,372.9 L413.3,374.2 L415.3,375.5 L417.3,376.8 L419.3,378.1 L421.3,379.4 L423.3,380.7 L425.3,382.0 L427.3,383.2 L429.3,384.5 L431.3,385.8 L433.3,387.1 L435.3,388.4 L437.3,389.6 L439.3,390.9 L441.3,392.2 L443.3,393.5 L445.3,394.7 L447.3,396.0 L449.3,397.3 L451.3,398.6 L453.3,399.8 L455.3,401.1 L457.3,402.4 L459.3,403.6 L461.3,404.9 L463.3,406.2 L465.3,407.4 L467.3,408.7 L469.3,410.0 L471.3,411.2 L473.3,412.5 L475.3,413.7 L477.3,415.0 L479.3,416.3 L481.3,417.5 L483.3,418.8 L485.3,420.1 L487.3,421.3 L489.3,422.6 L491.3,423.8 L493.3,425.1 L495.3,426.4 L497.3,427.6 L499.3,428.9 L501.3,430.1 L503.3,431.4 L505.4,432.7 L507.4,433.9 L509.4,435.2 L511.4,436.4 L513.4,437.7 L515.4,439.0 L517.4,440.2 L519.4,441.5 L521.4,442.8 L523.4,444.0 L525.4,445.3 L527.4,446.6 L529.4,447.8 L531.4,449.1 L533.4,450.4 L535.4,451.7 L537.4,452.9 L539.4,454.2 L541.4,455.5 L543.4,456.8 L545.4,458.0 L547.4,459.3 L549.4,460.6 L551.4,461.9 L553.4,463.2 L555.4,464.5 L557.4,465.8 L559.4,467.0 L561.4,468.3 L563.4,469.6 L565.4,470.9 L567.4,472.2 L569.4,473.5 L571.4,474.8 L573.4,476.1 L575.4,477.4 L577.4,478.7 L579.4,480.0 L581.4,481.4 L583.4,482.7 L585.4,484.0 L587.4,485.3 L589.4,486.6 L591.4,487.9 L593.4,489.2 L595.4,490.5 L597.4,491.8 L599.4,493.1 L601.4,494.4 L603.4,495.7 L605.4,496.9 L607.4,498.2 L609.4,499.5 L611.4,500.8 L613.4,502.1 L615.5,503.3 L617.5,504.6 L619.5,505.9 L621.5,507.1 L623.5,508.4 L625.5,509.6 L627.5,510.9 L629.5,512.1 L631.5,513.4 L633.5,514.6 L635.5,515.8 L637.5,517.0 L639.5,518.2 L641.5,519.4 L643.5,520.6 L645.5,521.8 L647.5,523.0 L649.5,524.2 L651.5,525.3 L653.5,526.5 L655.5,527.6 L657.5,528.8 L659.5,529.9 L661.5,531.0 L663.5,532.2 L665.5,533.3 L667.5,534.4 L669.5,535.4 L671.5,536.5 L673.5,537.6 L675.5,538.6 L677.5,539.7 L679.5,540.7 L681.5,541.8 L683.5,542.8 L685.5,543.8 L687.5,544.8 L689.5,545.8 L691.5,546.8 L693.5,547.8 L695.5,548.8 L697.5,549.8 L699.5,550.7 L701.5,551.7 L703.5,552.7 L705.5,553.6 L707.5,554.6 L709.5,555.5 L711.5,556.5 L713.5,557.4 L715.5,558.3 L717.5,559.3 L719.5,560.2 L721.5,561.1 L723.5,562.0 L725.6,563.0 L727.6,563.9 L729.6,564.8 L731.6,565.7 L733.6,566.6 L735.6,567.5 L737.6,568.4 L739.6,569.3 L741.6,570.2 L743.6,571.1 L745.6,572.0 L747.6,572.9 L749.6,573.8 L751.6,574.7 L753.6,575.6 L755.6,576.5 L757.6,577.4 L759.6,578.3 L761.6,579.2 L763.6,580.1 L765.6,581.0 L767.6,581.8 L769.6,582.7 L771.6,583.6 L773.6,584.5 L775.6,585.3 L777.6,586.2 L779.6,587.0 L781.6,587.8 L783.6,588.7 L785.6,589.5 L787.6,590.3 L789.6,591.1 L791.6,591.9 L793.6,592.6 L795.6,593.4 L797.6,594.1 L799.6,594.8 L801.6,595.6 L803.6,596.3 L805.6,596.9 L807.6,597.6 L809.6,598.3 L811.6,598.9 L813.6,599.5 L815.6,600.1 L817.6,600.7 L819.6,601.2 L821.6,601.8 L823.6,602.3 L825.6,602.8 L827.6,603.2 L829.6,603.7 L831.6,604.1 L833.6,604.5 L835.7,604.9 L837.7,605.2 L839.7,605.6 L841.7,605.9 L843.7,606.2 L845.7,606.4 L847.7,606.7 L849.7,606.9 L851.7,607.1 L853.7,607.3 L855.7,607.5 L857.7,607.6 L859.7,607.7 L861.7,607.8 L863.7,607.9 L865.7,607.9 L867.7,608.0 L869.7,608.0 L871.7,608.0 L873.7,608.0 L875.7,608.0 L877.7,607.9 L879.7,607.9 L881.7,607.8 L883.7,607.7 L885.7,607.6 L887.7,607.5 L889.7,607.4 L891.7,607.3 L893.7,607.2 L895.7,607.1 L897.7,606.9 L899.7,606.8 L901.7,606.6 L903.7,606.5 L905.7,606.4 L907.7,606.2 L909.7,606.1 L911.7,605.9 L913.7,605.8 L915.7,605.6 L917.7,605.5 L919.7,605.3 L921.7,605.2 L923.7,605.1 L925.7,605.0 L927.7,604.9 L929.7,604.8 L931.7,604.7 L933.7,604.6 L935.7,604.5 L937.7,604.5 L939.7,604.4 L941.7,604.4 L943.8,604.4" fill="none" stroke="#000" stroke-width="4.8" stroke-linecap="round" stroke-linejoin="round" stroke-dasharray="8.2 12.7" stroke-dashoffset="1.96"/>
<path d="M122.0,44.5 L124.0,48.7 L126.0,52.7 L128.0,56.8 L130.0,60.7 L132.0,64.7 L134.0,68.6 L136.0,72.4 L138.0,76.3 L140.0,80.0 L142.0,83.8 L144.0,87.5 L146.1,91.1 L148.1,94.7 L150.1,98.3 L152.1,101.8 L154.1,105.3 L156.1,108.8 L158.1,112.2 L160.1,115.6 L162.1,118.9 L164.1,122.2 L166.1,125.5 L168.1,128.8 L170.1,132.0 L172.1,135.1 L174.1,138.3 L176.1,141.4 L178.1,144.4 L180.1,147.5 L182.1,150.5 L184.1,153.4 L186.1,156.4 L188.1,159.3 L190.1,162.1 L192.1,165.0 L194.2,167.8 L196.2,170.6 L198.2,173.3 L200.2,176.0 L202.2,178.7 L204.2,181.4 L206.2,184.0 L208.2,186.6 L210.2,189.2 L212.2,191.8 L214.2,194.3 L216.2,196.8 L218.2,199.3 L220.2,201.7 L222.2,204.2 L224.2,206.6 L226.2,208.9 L228.2,211.3 L230.2,213.6 L232.2,215.9 L234.2,218.2 L236.2,220.5 L238.2,222.7 L240.3,225.0 L242.3,227.2 L244.3,229.3 L246.3,231.5 L248.3,233.6 L250.3,235.8 L252.3,237.9 L254.3,240.0 L256.3,242.0 L258.3,244.1 L260.3,246.1 L262.3,248.1 L264.3,250.1 L266.3,252.1 L268.3,254.1 L270.3,256.0 L272.3,258.0 L274.3,259.9 L276.3,261.8 L278.3,263.7 L280.3,265.6 L282.3,267.5 L284.3,269.3 L286.4,271.2 L288.4,273.0 L290.4,274.8 L292.4,276.7 L294.4,278.5 L296.4,280.2 L298.4,282.0 L300.4,283.8 L302.4,285.6 L304.4,287.3 L306.4,289.0 L308.4,290.8 L310.4,292.5 L312.4,294.2 L314.4,295.9 L316.4,297.6 L318.4,299.3 L320.4,300.9 L322.4,302.6 L324.4,304.2 L326.4,305.9 L328.4,307.5 L330.4,309.1 L332.4,310.8 L334.5,312.4 L336.5,314.0 L338.5,315.5 L340.5,317.1 L342.5,318.7 L344.5,320.3 L346.5,321.8 L348.5,323.4 L350.5,324.9 L352.5,326.4 L354.5,328.0 L356.5,329.5 L358.5,331.0 L360.5,332.5 L362.5,334.0 L364.5,335.5 L366.5,337.0 L368.5,338.5 L370.5,339.9 L372.5,341.4 L374.5,342.9 L376.5,344.3 L378.5,345.8 L380.6,347.2 L382.6,348.6 L384.6,350.1 L386.6,351.5 L388.6,352.9 L390.6,354.3 L392.6,355.8 L394.6,357.2 L396.6,358.6 L398.6,360.0 L400.6,361.4 L402.6,362.7 L404.6,364.1 L406.6,365.5 L408.6,366.9 L410.6,368.3 L412.6,369.6 L414.6,371.0 L416.6,372.4 L418.6,373.7 L420.6,375.1 L422.6,376.4 L424.6,377.8 L426.6,379.1 L428.7,380.5 L430.7,381.8 L432.7,383.2 L434.7,384.5 L436.7,385.8 L438.7,387.2 L440.7,388.5 L442.7,389.8 L444.7,391.2 L446.7,392.5 L448.7,393.8 L450.7,395.1 L452.7,396.5 L454.7,397.8 L456.7,399.1 L458.7,400.4 L460.7,401.7 L462.7,403.1 L464.7,404.4 L466.7,405.7 L468.7,407.0 L470.7,408.3 L472.7,409.7 L474.8,411.0 L476.8,412.3 L478.8,413.6 L480.8,415.0 L482.8,416.3 L484.8,417.6 L486.8,418.9 L488.8,420.3 L490.8,421.6 L492.8,422.9 L494.8,424.2 L496.8,425.6 L498.8,426.9 L500.8,428.3 L502.8,429.6 L504.8,430.9 L506.8,432.3 L508.8,433.6 L510.8,435.0 L512.8,436.3 L514.8,437.7 L516.8,439.0 L518.8,440.4 L520.8,441.8 L522.9,443.1 L524.9,444.5 L526.9,445.9 L528.9,447.2 L530.9,448.6 L532.9,450.0 L534.9,451.3 L536.9,452.7 L538.9,454.1 L540.9,455.5 L542.9,456.8 L544.9,458.2 L546.9,459.6 L548.9,461.0 L550.9,462.4 L552.9,463.7 L554.9,465.1 L556.9,466.5 L558.9,467.9 L560.9,469.2 L562.9,470.6 L564.9,472.0 L566.9,473.4 L569.0,474.7 L571.0,476.1 L573.0,477.5 L575.0,478.8 L577.0,480.2 L579.0,481.6 L581.0,482.9 L583.0,484.3 L585.0,485.6 L587.0,487.0 L589.0,488.3 L591.0,489.7 L593.0,491.0 L595.0,492.4 L597.0,493.7 L599.0,495.1 L601.0,496.4 L603.0,497.7 L605.0,499.1 L607.0,500.4 L609.0,501.7 L611.0,503.0 L613.0,504.3 L615.0,505.6 L617.1,506.9 L619.1,508.2 L621.1,509.5 L623.1,510.8 L625.1,512.1 L627.1,513.4 L629.1,514.6 L631.1,515.9 L633.1,517.2 L635.1,518.4 L637.1,519.7 L639.1,520.9 L641.1,522.2 L643.1,523.4 L645.1,524.6 L647.1,525.8 L649.1,527.1 L651.1,528.3 L653.1,529.5 L655.1,530.6 L657.1,531.8 L659.1,533.0 L661.1,534.2 L663.2,535.3 L665.2,536.5 L667.2,537.6 L669.2,538.8 L671.2,539.9 L673.2,541.1 L675.2,542.2 L677.2,543.3 L679.2,544.4 L681.2,545.5 L683.2,546.6 L685.2,547.7 L687.2,548.7 L689.2,549.8 L691.2,550.9 L693.2,551.9 L695.2,553.0 L697.2,554.0 L699.2,555.0 L701.2,556.1 L703.2,557.1 L705.2,558.1 L707.2,559.1 L709.3,560.1 L711.3,561.1 L713.3,562.1 L715.3,563.0 L717.3,564.0 L719.3,564.9 L721.3,565.9 L723.3,566.8 L725.3,567.8 L727.3,568.7 L729.3,569.6 L731.3,570.5 L733.3,571.4 L735.3,572.3 L737.3,573.2 L739.3,574.1 L741.3,575.0 L743.3,575.8 L745.3,576.7 L747.3,577.5 L749.3,578.3 L751.3,579.2 L753.3,580.0 L755.3,580.8 L757.4,581.6 L759.4,582.4 L761.4,583.2 L763.4,584.0 L765.4,584.8 L767.4,585.5 L769.4,586.3 L771.4,587.0 L773.4,587.8 L775.4,588.5 L777.4,589.2 L779.4,589.9 L781.4,590.6 L783.4,591.3 L785.4,592.0 L787.4,592.7 L789.4,593.4 L791.4,594.0 L793.4,594.7 L795.4,595.3 L797.4,596.0 L799.4,596.6 L801.4,597.2 L803.5,597.8 L805.5,598.4 L807.5,599.0 L809.5,599.6 L811.5,600.2 L813.5,600.7 L815.5,601.3 L817.5,601.8 L819.5,602.4 L821.5,602.9 L823.5,603.4 L825.5,603.9 L827.5,604.4 L829.5,604.9 L831.5,605.4 L833.5,605.9 L835.5,606.3 L837.5,606.8 L839.5,607.2 L841.5,607.7 L843.5,608.1 L845.5,608.5 L847.5,608.9 L849.5,609.3 L851.6,609.7 L853.6,610.1 L855.6,610.5 L857.6,610.8 L859.6,611.2 L861.6,611.5 L863.6,611.9 L865.6,612.2 L867.6,612.5 L869.6,612.8 L871.6,613.1 L873.6,613.4 L875.6,613.7 L877.6,613.9 L879.6,614.2 L881.6,614.4 L883.6,614.7 L885.6,614.9 L887.6,615.1 L889.6,615.3 L891.6,615.5 L893.6,615.7 L895.6,615.9 L897.7,616.0 L899.7,616.2 L901.7,616.3 L903.7,616.5 L905.7,616.6 L907.7,616.7 L909.7,616.8 L911.7,616.9 L913.7,617.0 L915.7,617.1 L917.7,617.1 L919.7,617.2 L921.7,617.2 L923.7,617.3 L925.7,617.3 L927.7,617.3 L929.7,617.3 L931.7,617.3 L933.7,617.3 L935.7,617.2 L937.7,617.2 L939.7,617.1 L941.7,617.1 L943.8,617.0" fill="none" stroke="#000" stroke-width="4.8" stroke-linecap="round" stroke-linejoin="round" stroke-dasharray="0 10.45" stroke-dashoffset="4.02"/>
<path d="M120.5,46.3 L122.5,49.3 L124.5,52.3 L126.5,55.3 L128.5,58.4 L130.5,61.5 L132.5,64.7 L134.5,67.9 L136.5,71.2 L138.5,74.4 L140.5,77.8 L142.5,81.1 L144.5,84.5 L146.5,87.8 L148.5,91.2 L150.5,94.7 L152.5,98.1 L154.5,101.5 L156.6,104.9 L158.6,108.4 L160.6,111.8 L162.6,115.3 L164.6,118.7 L166.6,122.1 L168.6,125.5 L170.6,128.9 L172.6,132.2 L174.6,135.6 L176.6,138.9 L178.6,142.2 L180.6,145.4 L182.6,148.6 L184.6,151.8 L186.6,155.0 L188.6,158.1 L190.6,161.1 L192.6,164.1 L194.6,167.1 L196.6,170.0 L198.6,172.8 L200.6,175.6 L202.6,178.3 L204.6,180.9 L206.6,183.5 L208.6,186.1 L210.6,188.6 L212.6,191.0 L214.6,193.4 L216.6,195.7 L218.6,198.0 L220.6,200.3 L222.6,202.5 L224.7,204.7 L226.7,206.8 L228.7,208.9 L230.7,211.0 L232.7,213.0 L234.7,215.1 L236.7,217.1 L238.7,219.0 L240.7,221.0 L242.7,222.9 L244.7,224.8 L246.7,226.8 L248.7,228.7 L250.7,230.5 L252.7,232.4 L254.7,234.3 L256.7,236.2 L258.7,238.0 L260.7,239.9 L262.7,241.7 L264.7,243.5 L266.7,245.3 L268.7,247.1 L270.7,248.9 L272.7,250.7 L274.7,252.5 L276.7,254.3 L278.7,256.1 L280.7,257.8 L282.7,259.6 L284.7,261.3 L286.7,263.1 L288.7,264.8 L290.7,266.5 L292.7,268.3 L294.8,270.0 L296.8,271.7 L298.8,273.4 L300.8,275.1 L302.8,276.7 L304.8,278.4 L306.8,280.1 L308.8,281.7 L310.8,283.4 L312.8,285.0 L314.8,286.7 L316.8,288.3 L318.8,289.9 L320.8,291.6 L322.8,293.2 L324.8,294.8 L326.8,296.4 L328.8,298.0 L330.8,299.6 L332.8,301.1 L334.8,302.7 L336.8,304.3 L338.8,305.9 L340.8,307.4 L342.8,309.0 L344.8,310.5 L346.8,312.1 L348.8,313.6 L350.8,315.1 L352.8,316.7 L354.8,318.2 L356.8,319.7 L358.8,321.2 L360.8,322.7 L362.9,324.2 L364.9,325.7 L366.9,327.2 L368.9,328.7 L370.9,330.2 L372.9,331.7 L374.9,333.1 L376.9,334.6 L378.9,336.1 L380.9,337.5 L382.9,339.0 L384.9,340.4 L386.9,341.9 L388.9,343.3 L390.9,344.8 L392.9,346.2 L394.9,347.7 L396.9,349.1 L398.9,350.5 L400.9,351.9 L402.9,353.3 L404.9,354.8 L406.9,356.2 L408.9,357.6 L410.9,359.0 L412.9,360.4 L414.9,361.8 L416.9,363.2 L418.9,364.6 L420.9,366.0 L422.9,367.4 L424.9,368.7 L426.9,370.1 L428.9,371.5 L431.0,372.9 L433.0,374.3 L435.0,375.6 L437.0,377.0 L439.0,378.4 L441.0,379.7 L443.0,381.1 L445.0,382.5 L447.0,383.8 L449.0,385.2 L451.0,386.5 L453.0,387.9 L455.0,389.2 L457.0,390.6 L459.0,391.9 L461.0,393.3 L463.0,394.6 L465.0,396.0 L467.0,397.3 L469.0,398.7 L471.0,400.0 L473.0,401.4 L475.0,402.7 L477.0,404.0 L479.0,405.4 L481.0,406.7 L483.0,408.0 L485.0,409.4 L487.0,410.7 L489.0,412.0 L491.0,413.3 L493.0,414.7 L495.0,416.0 L497.0,417.3 L499.0,418.6 L501.1,419.9 L503.1,421.3 L505.1,422.6 L507.1,423.9 L509.1,425.2 L511.1,426.5 L513.1,427.8 L515.1,429.1 L517.1,430.4 L519.1,431.7 L521.1,433.0 L523.1,434.3 L525.1,435.6 L527.1,436.9 L529.1,438.1 L531.1,439.4 L533.1,440.7 L535.1,442.0 L537.1,443.3 L539.1,444.5 L541.1,445.8 L543.1,447.1 L545.1,448.4 L547.1,449.6 L549.1,450.9 L551.1,452.1 L553.1,453.4 L555.1,454.7 L557.1,455.9 L559.1,457.2 L561.1,458.4 L563.1,459.6 L565.1,460.9 L567.1,462.1 L569.2,463.4 L571.2,464.6 L573.2,465.8 L575.2,467.1 L577.2,468.3 L579.2,469.5 L581.2,470.7 L583.2,471.9 L585.2,473.2 L587.2,474.4 L589.2,475.6 L591.2,476.8 L593.2,478.0 L595.2,479.2 L597.2,480.4 L599.2,481.6 L601.2,482.8 L603.2,483.9 L605.2,485.1 L607.2,486.3 L609.2,487.5 L611.2,488.7 L613.2,489.8 L615.2,491.0 L617.2,492.2 L619.2,493.3 L621.2,494.5 L623.2,495.6 L625.2,496.8 L627.2,497.9 L629.2,499.1 L631.2,500.2 L633.2,501.3 L635.2,502.5 L637.2,503.6 L639.3,504.7 L641.3,505.9 L643.3,507.0 L645.3,508.1 L647.3,509.2 L649.3,510.3 L651.3,511.4 L653.3,512.5 L655.3,513.6 L657.3,514.7 L659.3,515.8 L661.3,516.9 L663.3,518.0 L665.3,519.0 L667.3,520.1 L669.3,521.2 L671.3,522.2 L673.3,523.3 L675.3,524.4 L677.3,525.4 L679.3,526.5 L681.3,527.5 L683.3,528.6 L685.3,529.6 L687.3,530.6 L689.3,531.7 L691.3,532.7 L693.3,533.7 L695.3,534.7 L697.3,535.7 L699.3,536.7 L701.3,537.7 L703.3,538.7 L705.3,539.7 L707.4,540.7 L709.4,541.7 L711.4,542.7 L713.4,543.7 L715.4,544.6 L717.4,545.6 L719.4,546.6 L721.4,547.5 L723.4,548.5 L725.4,549.4 L727.4,550.4 L729.4,551.3 L731.4,552.3 L733.4,553.2 L735.4,554.1 L737.4,555.0 L739.4,555.9 L741.4,556.9 L743.4,557.8 L745.4,558.7 L747.4,559.6 L749.4,560.4 L751.4,561.3 L753.4,562.2 L755.4,563.1 L757.4,563.9 L759.4,564.8 L761.4,565.7 L763.4,566.5 L765.4,567.4 L767.4,568.2 L769.4,569.0 L771.4,569.9 L773.4,570.7 L775.5,571.5 L777.5,572.3 L779.5,573.1 L781.5,573.9 L783.5,574.7 L785.5,575.5 L787.5,576.2 L789.5,577.0 L791.5,577.8 L793.5,578.5 L795.5,579.3 L797.5,580.0 L799.5,580.8 L801.5,581.5 L803.5,582.2 L805.5,582.9 L807.5,583.6 L809.5,584.3 L811.5,585.0 L813.5,585.7 L815.5,586.4 L817.5,587.1 L819.5,587.7 L821.5,588.4 L823.5,589.0 L825.5,589.7 L827.5,590.3 L829.5,590.9 L831.5,591.5 L833.5,592.2 L835.5,592.8 L837.5,593.3 L839.5,593.9 L841.5,594.5 L843.5,595.1 L845.6,595.6 L847.6,596.2 L849.6,596.7 L851.6,597.3 L853.6,597.8 L855.6,598.3 L857.6,598.8 L859.6,599.3 L861.6,599.8 L863.6,600.3 L865.6,600.8 L867.6,601.3 L869.6,601.7 L871.6,602.2 L873.6,602.6 L875.6,603.0 L877.6,603.4 L879.6,603.9 L881.6,604.3 L883.6,604.7 L885.6,605.0 L887.6,605.4 L889.6,605.8 L891.6,606.1 L893.6,606.5 L895.6,606.8 L897.6,607.1 L899.6,607.5 L901.6,607.8 L903.6,608.1 L905.6,608.3 L907.6,608.6 L909.6,608.9 L911.6,609.1 L913.7,609.4 L915.7,609.6 L917.7,609.8 L919.7,610.1 L921.7,610.3 L923.7,610.5 L925.7,610.6 L927.7,610.8 L929.7,611.0 L931.7,611.1 L933.7,611.3 L935.7,611.4 L937.7,611.5 L939.7,611.6 L941.7,611.7 L943.7,611.8 L945.7,611.9 L947.7,611.9" fill="none" stroke="#a6a6a6" stroke-width="4.8" stroke-linecap="round" stroke-linejoin="round"/>
<path d="M120.0,64.3 L122.0,68.2 L124.0,71.9 L126.0,75.7 L128.0,79.3 L130.0,82.9 L132.0,86.5 L134.0,90.0 L136.0,93.4 L138.0,96.8 L140.0,100.1 L142.0,103.3 L144.0,106.5 L146.0,109.7 L148.0,112.8 L150.0,115.9 L152.1,118.9 L154.1,121.9 L156.1,124.9 L158.1,127.8 L160.1,130.6 L162.1,133.5 L164.1,136.2 L166.1,139.0 L168.1,141.7 L170.1,144.4 L172.1,147.1 L174.1,149.7 L176.1,152.3 L178.1,154.9 L180.1,157.5 L182.1,160.0 L184.1,162.5 L186.1,165.0 L188.1,167.4 L190.1,169.8 L192.1,172.2 L194.1,174.6 L196.1,176.9 L198.1,179.2 L200.1,181.5 L202.1,183.8 L204.1,186.1 L206.1,188.3 L208.1,190.5 L210.1,192.7 L212.1,194.8 L214.1,197.0 L216.2,199.1 L218.2,201.2 L220.2,203.3 L222.2,205.4 L224.2,207.4 L226.2,209.5 L228.2,211.5 L230.2,213.5 L232.2,215.5 L234.2,217.4 L236.2,219.4 L238.2,221.3 L240.2,223.3 L242.2,225.2 L244.2,227.1 L246.2,229.0 L248.2,230.9 L250.2,232.7 L252.2,234.6 L254.2,236.4 L256.2,238.3 L258.2,240.1 L260.2,241.9 L262.2,243.7 L264.2,245.5 L266.2,247.3 L268.2,249.1 L270.2,250.9 L272.2,252.6 L274.2,254.4 L276.2,256.2 L278.2,257.9 L280.3,259.6 L282.3,261.4 L284.3,263.1 L286.3,264.8 L288.3,266.5 L290.3,268.2 L292.3,269.9 L294.3,271.6 L296.3,273.2 L298.3,274.9 L300.3,276.6 L302.3,278.2 L304.3,279.9 L306.3,281.5 L308.3,283.1 L310.3,284.7 L312.3,286.4 L314.3,288.0 L316.3,289.6 L318.3,291.2 L320.3,292.7 L322.3,294.3 L324.3,295.9 L326.3,297.5 L328.3,299.0 L330.3,300.6 L332.3,302.1 L334.3,303.7 L336.3,305.2 L338.3,306.7 L340.3,308.2 L342.4,309.8 L344.4,311.3 L346.4,312.8 L348.4,314.3 L350.4,315.7 L352.4,317.2 L354.4,318.7 L356.4,320.2 L358.4,321.6 L360.4,323.1 L362.4,324.5 L364.4,326.0 L366.4,327.4 L368.4,328.9 L370.4,330.3 L372.4,331.7 L374.4,333.1 L376.4,334.5 L378.4,335.9 L380.4,337.3 L382.4,338.7 L384.4,340.1 L386.4,341.5 L388.4,342.9 L390.4,344.3 L392.4,345.6 L394.4,347.0 L396.4,348.4 L398.4,349.7 L400.4,351.1 L402.4,352.4 L404.4,353.7 L406.5,355.1 L408.5,356.4 L410.5,357.7 L412.5,359.0 L414.5,360.4 L416.5,361.7 L418.5,363.0 L420.5,364.3 L422.5,365.6 L424.5,366.9 L426.5,368.2 L428.5,369.4 L430.5,370.7 L432.5,372.0 L434.5,373.3 L436.5,374.5 L438.5,375.8 L440.5,377.1 L442.5,378.3 L444.5,379.6 L446.5,380.8 L448.5,382.1 L450.5,383.3 L452.5,384.5 L454.5,385.8 L456.5,387.0 L458.5,388.2 L460.5,389.4 L462.5,390.7 L464.5,391.9 L466.5,393.1 L468.5,394.3 L470.6,395.5 L472.6,396.7 L474.6,397.9 L476.6,399.1 L478.6,400.3 L480.6,401.5 L482.6,402.7 L484.6,403.8 L486.6,405.0 L488.6,406.2 L490.6,407.4 L492.6,408.6 L494.6,409.7 L496.6,410.9 L498.6,412.1 L500.6,413.2 L502.6,414.4 L504.6,415.5 L506.6,416.7 L508.6,417.8 L510.6,419.0 L512.6,420.1 L514.6,421.3 L516.6,422.4 L518.6,423.6 L520.6,424.7 L522.6,425.9 L524.6,427.0 L526.6,428.1 L528.6,429.3 L530.6,430.4 L532.7,431.5 L534.7,432.7 L536.7,433.8 L538.7,434.9 L540.7,436.0 L542.7,437.1 L544.7,438.3 L546.7,439.4 L548.7,440.5 L550.7,441.6 L552.7,442.7 L554.7,443.8 L556.7,444.9 L558.7,446.0 L560.7,447.1 L562.7,448.2 L564.7,449.3 L566.7,450.4 L568.7,451.5 L570.7,452.6 L572.7,453.7 L574.7,454.8 L576.7,455.8 L578.7,456.9 L580.7,458.0 L582.7,459.1 L584.7,460.1 L586.7,461.2 L588.7,462.3 L590.7,463.3 L592.7,464.4 L594.7,465.5 L596.8,466.5 L598.8,467.6 L600.8,468.6 L602.8,469.7 L604.8,470.7 L606.8,471.8 L608.8,472.8 L610.8,473.8 L612.8,474.9 L614.8,475.9 L616.8,476.9 L618.8,478.0 L620.8,479.0 L622.8,480.0 L624.8,481.0 L626.8,482.0 L628.8,483.1 L630.8,484.1 L632.8,485.1 L634.8,486.1 L636.8,487.1 L638.8,488.1 L640.8,489.1 L642.8,490.1 L644.8,491.0 L646.8,492.0 L648.8,493.0 L650.8,494.0 L652.8,495.0 L654.8,495.9 L656.8,496.9 L658.8,497.9 L660.9,498.9 L662.9,499.8 L664.9,500.8 L666.9,501.7 L668.9,502.7 L670.9,503.6 L672.9,504.6 L674.9,505.5 L676.9,506.4 L678.9,507.4 L680.9,508.3 L682.9,509.2 L684.9,510.2 L686.9,511.1 L688.9,512.0 L690.9,512.9 L692.9,513.8 L694.9,514.7 L696.9,515.6 L698.9,516.5 L700.9,517.4 L702.9,518.3 L704.9,519.2 L706.9,520.1 L708.9,521.0 L710.9,521.9 L712.9,522.8 L714.9,523.6 L716.9,524.5 L718.9,525.4 L720.9,526.2 L722.9,527.1 L725.0,527.9 L727.0,528.8 L729.0,529.6 L731.0,530.5 L733.0,531.3 L735.0,532.1 L737.0,533.0 L739.0,533.8 L741.0,534.6 L743.0,535.4 L745.0,536.2 L747.0,537.1 L749.0,537.9 L751.0,538.7 L753.0,539.5 L755.0,540.3 L757.0,541.1 L759.0,541.8 L761.0,542.6 L763.0,543.4 L765.0,544.2 L767.0,544.9 L769.0,545.7 L771.0,546.5 L773.0,547.2 L775.0,548.0 L777.0,548.7 L779.0,549.5 L781.0,550.2 L783.0,551.0 L785.0,551.7 L787.1,552.4 L789.1,553.1 L791.1,553.9 L793.1,554.6 L795.1,555.3 L797.1,556.0 L799.1,556.7 L801.1,557.4 L803.1,558.1 L805.1,558.8 L807.1,559.4 L809.1,560.1 L811.1,560.8 L813.1,561.5 L815.1,562.1 L817.1,562.8 L819.1,563.4 L821.1,564.1 L823.1,564.7 L825.1,565.4 L827.1,566.0 L829.1,566.7 L831.1,567.3 L833.1,567.9 L835.1,568.5 L837.1,569.1 L839.1,569.7 L841.1,570.3 L843.1,570.9 L845.1,571.5 L847.1,572.1 L849.1,572.7 L851.2,573.3 L853.2,573.9 L855.2,574.4 L857.2,575.0 L859.2,575.6 L861.2,576.1 L863.2,576.7 L865.2,577.2 L867.2,577.7 L869.2,578.3 L871.2,578.8 L873.2,579.3 L875.2,579.8 L877.2,580.4 L879.2,580.9 L881.2,581.4 L883.2,581.9 L885.2,582.4 L887.2,582.8 L889.2,583.3 L891.2,583.8 L893.2,584.3 L895.2,584.7 L897.2,585.2 L899.2,585.7 L901.2,586.1 L903.2,586.5 L905.2,587.0 L907.2,587.4 L909.2,587.8 L911.2,588.3 L913.2,588.7 L915.3,589.1 L917.3,589.5 L919.3,589.9 L921.3,590.3 L923.3,590.7 L925.3,591.1 L927.3,591.4 L929.3,591.8 L931.3,592.2 L933.3,592.5 L935.3,592.9 L937.3,593.2 L939.3,593.6 L941.3,593.9 L943.3,594.3 L945.3,594.6" fill="none" stroke="#a6a6a6" stroke-width="4.8" stroke-linecap="round" stroke-linejoin="round" stroke-dasharray="7.7 12.9" stroke-dashoffset="15.4"/>
<path d="M120.5,47.6 L122.5,51.3 L124.5,54.9 L126.5,58.5 L128.5,62.1 L130.5,65.6 L132.5,69.1 L134.5,72.6 L136.5,76.1 L138.5,79.6 L140.5,83.0 L142.5,86.4 L144.5,89.8 L146.6,93.2 L148.6,96.5 L150.6,99.9 L152.6,103.1 L154.6,106.4 L156.6,109.7 L158.6,112.9 L160.6,116.1 L162.6,119.2 L164.6,122.4 L166.6,125.5 L168.6,128.6 L170.6,131.6 L172.6,134.6 L174.6,137.6 L176.6,140.6 L178.6,143.6 L180.6,146.5 L182.6,149.3 L184.6,152.2 L186.6,155.0 L188.6,157.8 L190.6,160.6 L192.6,163.3 L194.7,166.1 L196.7,168.7 L198.7,171.4 L200.7,174.0 L202.7,176.6 L204.7,179.2 L206.7,181.8 L208.7,184.3 L210.7,186.8 L212.7,189.3 L214.7,191.7 L216.7,194.1 L218.7,196.5 L220.7,198.9 L222.7,201.2 L224.7,203.5 L226.7,205.8 L228.7,208.1 L230.7,210.3 L232.7,212.6 L234.7,214.8 L236.7,216.9 L238.7,219.1 L240.7,221.2 L242.8,223.3 L244.8,225.4 L246.8,227.4 L248.8,229.4 L250.8,231.4 L252.8,233.4 L254.8,235.4 L256.8,237.3 L258.8,239.2 L260.8,241.1 L262.8,243.0 L264.8,244.8 L266.8,246.7 L268.8,248.5 L270.8,250.3 L272.8,252.1 L274.8,253.8 L276.8,255.5 L278.8,257.3 L280.8,259.0 L282.8,260.6 L284.8,262.3 L286.8,264.0 L288.8,265.6 L290.9,267.2 L292.9,268.8 L294.9,270.4 L296.9,272.0 L298.9,273.6 L300.9,275.1 L302.9,276.6 L304.9,278.2 L306.9,279.7 L308.9,281.2 L310.9,282.7 L312.9,284.1 L314.9,285.6 L316.9,287.1 L318.9,288.5 L320.9,289.9 L322.9,291.4 L324.9,292.8 L326.9,294.2 L328.9,295.6 L330.9,297.0 L332.9,298.4 L334.9,299.8 L336.9,301.1 L339.0,302.5 L341.0,303.9 L343.0,305.2 L345.0,306.6 L347.0,307.9 L349.0,309.3 L351.0,310.6 L353.0,311.9 L355.0,313.3 L357.0,314.6 L359.0,315.9 L361.0,317.3 L363.0,318.6 L365.0,319.9 L367.0,321.2 L369.0,322.5 L371.0,323.8 L373.0,325.1 L375.0,326.4 L377.0,327.7 L379.0,329.0 L381.0,330.3 L383.0,331.6 L385.0,332.9 L387.1,334.2 L389.1,335.5 L391.1,336.7 L393.1,338.0 L395.1,339.3 L397.1,340.5 L399.1,341.8 L401.1,343.1 L403.1,344.3 L405.1,345.6 L407.1,346.8 L409.1,348.1 L411.1,349.3 L413.1,350.6 L415.1,351.8 L417.1,353.0 L419.1,354.3 L421.1,355.5 L423.1,356.7 L425.1,358.0 L427.1,359.2 L429.1,360.4 L431.1,361.6 L433.1,362.8 L435.2,364.0 L437.2,365.3 L439.2,366.5 L441.2,367.7 L443.2,368.9 L445.2,370.1 L447.2,371.3 L449.2,372.4 L451.2,373.6 L453.2,374.8 L455.2,376.0 L457.2,377.2 L459.2,378.4 L461.2,379.5 L463.2,380.7 L465.2,381.9 L467.2,383.0 L469.2,384.2 L471.2,385.4 L473.2,386.5 L475.2,387.7 L477.2,388.8 L479.2,390.0 L481.2,391.1 L483.3,392.3 L485.3,393.4 L487.3,394.5 L489.3,395.7 L491.3,396.8 L493.3,397.9 L495.3,399.1 L497.3,400.2 L499.3,401.3 L501.3,402.4 L503.3,403.6 L505.3,404.7 L507.3,405.8 L509.3,406.9 L511.3,408.0 L513.3,409.1 L515.3,410.2 L517.3,411.3 L519.3,412.4 L521.3,413.5 L523.3,414.6 L525.3,415.7 L527.3,416.8 L529.3,417.9 L531.4,418.9 L533.4,420.0 L535.4,421.1 L537.4,422.2 L539.4,423.2 L541.4,424.3 L543.4,425.4 L545.4,426.5 L547.4,427.5 L549.4,428.6 L551.4,429.6 L553.4,430.7 L555.4,431.7 L557.4,432.8 L559.4,433.8 L561.4,434.9 L563.4,435.9 L565.4,437.0 L567.4,438.0 L569.4,439.0 L571.4,440.1 L573.4,441.1 L575.4,442.1 L577.4,443.2 L579.4,444.2 L581.5,445.2 L583.5,446.2 L585.5,447.2 L587.5,448.3 L589.5,449.3 L591.5,450.3 L593.5,451.3 L595.5,452.3 L597.5,453.3 L599.5,454.3 L601.5,455.3 L603.5,456.3 L605.5,457.3 L607.5,458.3 L609.5,459.2 L611.5,460.2 L613.5,461.2 L615.5,462.2 L617.5,463.2 L619.5,464.1 L621.5,465.1 L623.5,466.1 L625.5,467.0 L627.5,468.0 L629.6,469.0 L631.6,469.9 L633.6,470.9 L635.6,471.8 L637.6,472.8 L639.6,473.7 L641.6,474.7 L643.6,475.6 L645.6,476.6 L647.6,477.5 L649.6,478.4 L651.6,479.4 L653.6,480.3 L655.6,481.2 L657.6,482.2 L659.6,483.1 L661.6,484.0 L663.6,484.9 L665.6,485.8 L667.6,486.7 L669.6,487.6 L671.6,488.6 L673.6,489.5 L675.6,490.4 L677.7,491.3 L679.7,492.2 L681.7,493.1 L683.7,493.9 L685.7,494.8 L687.7,495.7 L689.7,496.6 L691.7,497.5 L693.7,498.4 L695.7,499.2 L697.7,500.1 L699.7,501.0 L701.7,501.8 L703.7,502.7 L705.7,503.6 L707.7,504.4 L709.7,505.3 L711.7,506.1 L713.7,507.0 L715.7,507.9 L717.7,508.7 L719.7,509.5 L721.7,510.4 L723.7,511.2 L725.8,512.1 L727.8,512.9 L729.8,513.7 L731.8,514.6 L733.8,515.4 L735.8,516.2 L737.8,517.0 L739.8,517.8 L741.8,518.7 L743.8,519.5 L745.8,520.3 L747.8,521.1 L749.8,521.9 L751.8,522.7 L753.8,523.5 L755.8,524.3 L757.8,525.1 L759.8,525.9 L761.8,526.7 L763.8,527.4 L765.8,528.2 L767.8,529.0 L769.8,529.8 L771.8,530.6 L773.9,531.3 L775.9,532.1 L777.9,532.9 L779.9,533.6 L781.9,534.4 L783.9,535.2 L785.9,535.9 L787.9,536.7 L789.9,537.4 L791.9,538.2 L793.9,538.9 L795.9,539.6 L797.9,540.4 L799.9,541.1 L801.9,541.9 L803.9,542.6 L805.9,543.3 L807.9,544.0 L809.9,544.8 L811.9,545.5 L813.9,546.2 L815.9,546.9 L817.9,547.6 L819.9,548.3 L822.0,549.0 L824.0,549.8 L826.0,550.5 L828.0,551.2 L830.0,551.8 L832.0,552.5 L834.0,553.2 L836.0,553.9 L838.0,554.6 L840.0,555.3 L842.0,556.0 L844.0,556.6 L846.0,557.3 L848.0,558.0 L850.0,558.6 L852.0,559.3 L854.0,560.0 L856.0,560.6 L858.0,561.3 L860.0,561.9 L862.0,562.6 L864.0,563.2 L866.0,563.9 L868.0,564.5 L870.1,565.2 L872.1,565.8 L874.1,566.4 L876.1,567.1 L878.1,567.7 L880.1,568.3 L882.1,568.9 L884.1,569.6 L886.1,570.2 L888.1,570.8 L890.1,571.4 L892.1,572.0 L894.1,572.6 L896.1,573.2 L898.1,573.8 L900.1,574.4 L902.1,575.0 L904.1,575.6 L906.1,576.2 L908.1,576.8 L910.1,577.4 L912.1,577.9 L914.1,578.5 L916.1,579.1 L918.2,579.7 L920.2,580.2 L922.2,580.8 L924.2,581.4 L926.2,581.9 L928.2,582.5 L930.2,583.0 L932.2,583.6 L934.2,584.1 L936.2,584.7 L938.2,585.2 L940.2,585.8 L942.2,586.3" fill="none" stroke="#b2b2b2" stroke-width="4.8" stroke-linecap="round" stroke-linejoin="round" stroke-dasharray="0 10.4" stroke-dashoffset="10.26"/>
<path d="M121.0,72.0 L123.0,74.6 L125.0,77.2 L127.0,79.8 L129.0,82.4 L131.0,85.0 L133.0,87.6 L135.0,90.1 L137.0,92.7 L139.0,95.2 L141.0,97.7 L143.0,100.2 L145.0,102.6 L147.0,105.1 L149.0,107.5 L151.0,110.0 L153.0,112.4 L155.0,114.8 L157.0,117.2 L159.0,119.6 L161.0,121.9 L163.0,124.3 L165.0,126.6 L167.0,128.9 L169.0,131.2 L171.0,133.5 L173.0,135.8 L175.0,138.1 L177.0,140.3 L179.0,142.6 L181.0,144.8 L183.0,147.0 L185.0,149.2 L187.0,151.4 L189.0,153.5 L191.0,155.7 L193.0,157.9 L195.0,160.0 L197.0,162.1 L199.0,164.2 L201.0,166.3 L203.0,168.4 L205.0,170.5 L207.0,172.5 L209.0,174.6 L211.0,176.6 L213.0,178.6 L215.0,180.6 L217.0,182.6 L219.0,184.6 L221.0,186.6 L223.0,188.5 L225.0,190.5 L227.0,192.4 L229.0,194.3 L231.0,196.3 L233.0,198.2 L235.0,200.0 L237.0,201.9 L239.0,203.8 L241.0,205.7 L243.0,207.5 L245.0,209.3 L247.0,211.2 L249.0,213.0 L251.0,214.8 L253.0,216.6 L255.0,218.3 L257.0,220.1 L259.1,221.9 L261.1,223.6 L263.1,225.4 L265.1,227.1 L267.1,228.8 L269.1,230.5 L271.1,232.2 L273.1,233.9 L275.1,235.6 L277.1,237.2 L279.1,238.9 L281.1,240.5 L283.1,242.2 L285.1,243.8 L287.1,245.4 L289.1,247.0 L291.1,248.6 L293.1,250.2 L295.1,251.8 L297.1,253.4 L299.1,254.9 L301.1,256.5 L303.1,258.0 L305.1,259.6 L307.1,261.1 L309.1,262.6 L311.1,264.1 L313.1,265.6 L315.1,267.1 L317.1,268.6 L319.1,270.0 L321.1,271.5 L323.1,273.0 L325.1,274.4 L327.1,275.9 L329.1,277.3 L331.1,278.7 L333.1,280.1 L335.1,281.5 L337.1,282.9 L339.1,284.3 L341.1,285.7 L343.1,287.1 L345.1,288.5 L347.1,289.8 L349.1,291.2 L351.1,292.5 L353.1,293.9 L355.1,295.2 L357.1,296.5 L359.1,297.9 L361.1,299.2 L363.1,300.5 L365.1,301.8 L367.1,303.1 L369.1,304.3 L371.1,305.6 L373.1,306.9 L375.1,308.2 L377.1,309.4 L379.1,310.7 L381.1,311.9 L383.1,313.2 L385.1,314.4 L387.1,315.6 L389.1,316.8 L391.1,318.1 L393.1,319.3 L395.1,320.5 L397.1,321.7 L399.1,322.9 L401.1,324.1 L403.1,325.2 L405.1,326.4 L407.1,327.6 L409.1,328.8 L411.1,329.9 L413.1,331.1 L415.1,332.2 L417.1,333.4 L419.1,334.5 L421.1,335.6 L423.1,336.8 L425.1,337.9 L427.1,339.0 L429.1,340.1 L431.1,341.3 L433.1,342.4 L435.1,343.5 L437.1,344.6 L439.1,345.7 L441.1,346.7 L443.1,347.8 L445.1,348.9 L447.1,350.0 L449.1,351.1 L451.1,352.1 L453.1,353.2 L455.1,354.3 L457.1,355.3 L459.1,356.4 L461.1,357.4 L463.1,358.5 L465.1,359.5 L467.1,360.6 L469.1,361.6 L471.1,362.7 L473.1,363.7 L475.1,364.7 L477.1,365.8 L479.1,366.8 L481.1,367.8 L483.1,368.8 L485.1,369.9 L487.1,370.9 L489.1,371.9 L491.1,372.9 L493.1,373.9 L495.1,374.9 L497.1,375.9 L499.1,376.9 L501.1,377.9 L503.1,378.9 L505.1,379.9 L507.1,380.9 L509.1,381.9 L511.1,382.9 L513.1,383.9 L515.1,384.9 L517.1,385.8 L519.1,386.8 L521.1,387.8 L523.1,388.8 L525.1,389.8 L527.1,390.7 L529.1,391.7 L531.1,392.7 L533.1,393.7 L535.2,394.6 L537.2,395.6 L539.2,396.6 L541.2,397.5 L543.2,398.5 L545.2,399.4 L547.2,400.4 L549.2,401.3 L551.2,402.3 L553.2,403.2 L555.2,404.2 L557.2,405.1 L559.2,406.1 L561.2,407.0 L563.2,408.0 L565.2,408.9 L567.2,409.9 L569.2,410.8 L571.2,411.7 L573.2,412.7 L575.2,413.6 L577.2,414.5 L579.2,415.4 L581.2,416.4 L583.2,417.3 L585.2,418.2 L587.2,419.1 L589.2,420.0 L591.2,421.0 L593.2,421.9 L595.2,422.8 L597.2,423.7 L599.2,424.6 L601.2,425.5 L603.2,426.4 L605.2,427.3 L607.2,428.2 L609.2,429.1 L611.2,430.0 L613.2,430.9 L615.2,431.8 L617.2,432.7 L619.2,433.6 L621.2,434.5 L623.2,435.3 L625.2,436.2 L627.2,437.1 L629.2,438.0 L631.2,438.9 L633.2,439.7 L635.2,440.6 L637.2,441.5 L639.2,442.3 L641.2,443.2 L643.2,444.1 L645.2,444.9 L647.2,445.8 L649.2,446.7 L651.2,447.5 L653.2,448.4 L655.2,449.2 L657.2,450.1 L659.2,450.9 L661.2,451.8 L663.2,452.6 L665.2,453.5 L667.2,454.3 L669.2,455.1 L671.2,456.0 L673.2,456.8 L675.2,457.6 L677.2,458.5 L679.2,459.3 L681.2,460.1 L683.2,461.0 L685.2,461.8 L687.2,462.6 L689.2,463.4 L691.2,464.2 L693.2,465.1 L695.2,465.9 L697.2,466.7 L699.2,467.5 L701.2,468.3 L703.2,469.1 L705.2,469.9 L707.2,470.7 L709.2,471.5 L711.2,472.3 L713.2,473.1 L715.2,473.9 L717.2,474.7 L719.2,475.5 L721.2,476.3 L723.2,477.1 L725.2,477.8 L727.2,478.6 L729.2,479.4 L731.2,480.2 L733.2,481.0 L735.2,481.7 L737.2,482.5 L739.2,483.3 L741.2,484.0 L743.2,484.8 L745.2,485.6 L747.2,486.3 L749.2,487.1 L751.2,487.8 L753.2,488.6 L755.2,489.4 L757.2,490.1 L759.2,490.9 L761.2,491.6 L763.2,492.3 L765.2,493.1 L767.2,493.8 L769.2,494.6 L771.2,495.3 L773.2,496.0 L775.2,496.8 L777.2,497.5 L779.2,498.2 L781.2,499.0 L783.2,499.7 L785.2,500.4 L787.2,501.1 L789.2,501.9 L791.2,502.6 L793.2,503.3 L795.2,504.0 L797.2,504.7 L799.2,505.4 L801.2,506.1 L803.2,506.8 L805.2,507.5 L807.2,508.2 L809.3,508.9 L811.3,509.6 L813.3,510.3 L815.3,511.0 L817.3,511.7 L819.3,512.4 L821.3,513.1 L823.3,513.8 L825.3,514.4 L827.3,515.1 L829.3,515.8 L831.3,516.5 L833.3,517.2 L835.3,517.8 L837.3,518.5 L839.3,519.2 L841.3,519.8 L843.3,520.5 L845.3,521.2 L847.3,521.8 L849.3,522.5 L851.3,523.1 L853.3,523.8 L855.3,524.4 L857.3,525.1 L859.3,525.7 L861.3,526.4 L863.3,527.0 L865.3,527.7 L867.3,528.3 L869.3,528.9 L871.3,529.6 L873.3,530.2 L875.3,530.8 L877.3,531.4 L879.3,532.1 L881.3,532.7 L883.3,533.3 L885.3,533.9 L887.3,534.6 L889.3,535.2 L891.3,535.8 L893.3,536.4 L895.3,537.0 L897.3,537.6 L899.3,538.2 L901.3,538.8 L903.3,539.4 L905.3,540.0 L907.3,540.6 L909.3,541.2 L911.3,541.8 L913.3,542.4 L915.3,543.0 L917.3,543.6 L919.3,544.1 L921.3,544.7 L923.3,545.3 L925.3,545.9 L927.3,546.4 L929.3,547.0 L931.3,547.6 L933.3,548.2 L935.3,548.7 L937.3,549.3 L939.3,549.9 L941.3,550.4 L943.3,551.0 L945.3,551.5" fill="none" stroke="#9bbb59" stroke-width="4.8" stroke-linecap="round" stroke-linejoin="round" stroke-dasharray="13.2 22 0 22" stroke-dashoffset="16.86"/>
</g>
<g clip-path="url(#c2)">
<path d="M128.9,1471.8 L130.9,1472.1 L132.9,1472.3 L134.9,1472.5 L136.9,1472.7 L138.9,1472.9 L140.9,1473.2 L142.9,1473.4 L144.9,1473.6 L146.9,1473.8 L148.9,1474.0 L150.9,1474.2 L152.9,1474.4 L154.9,1474.6 L156.9,1474.9 L158.9,1475.1 L160.9,1475.3 L162.9,1475.5 L164.9,1475.7 L166.9,1475.9 L168.9,1476.1 L171.0,1476.3 L173.0,1476.5 L175.0,1476.7 L177.0,1476.9 L179.0,1477.1 L181.0,1477.3 L183.0,1477.5 L185.0,1477.6 L187.0,1477.8 L189.0,1478.0 L191.0,1478.2 L193.0,1478.4 L195.0,1478.6 L197.0,1478.8 L199.0,1479.0 L201.0,1479.1 L203.0,1479.3 L205.0,1479.5 L207.0,1479.7 L209.0,1479.8 L211.0,1480.0 L213.0,1480.2 L215.0,1480.4 L217.0,1480.5 L219.0,1480.7 L221.0,1480.9 L223.0,1481.1 L225.0,1481.2 L227.0,1481.4 L229.0,1481.6 L231.0,1481.7 L233.0,1481.9 L235.0,1482.0 L237.0,1482.2 L239.0,1482.4 L241.0,1482.5 L243.0,1482.7 L245.0,1482.8 L247.0,1483.0 L249.0,1483.2 L251.1,1483.3 L253.1,1483.5 L255.1,1483.6 L257.1,1483.8 L259.1,1483.9 L261.1,1484.1 L263.1,1484.2 L265.1,1484.4 L267.1,1484.5 L269.1,1484.7 L271.1,1484.8 L273.1,1484.9 L275.1,1485.1 L277.1,1485.2 L279.1,1485.4 L281.1,1485.5 L283.1,1485.6 L285.1,1485.8 L287.1,1485.9 L289.1,1486.0 L291.1,1486.2 L293.1,1486.3 L295.1,1486.4 L297.1,1486.6 L299.1,1486.7 L301.1,1486.8 L303.1,1487.0 L305.1,1487.1 L307.1,1487.2 L309.1,1487.3 L311.1,1487.5 L313.1,1487.6 L315.1,1487.7 L317.1,1487.8 L319.1,1488.0 L321.1,1488.1 L323.1,1488.2 L325.1,1488.3 L327.1,1488.4 L329.1,1488.6 L331.2,1488.7 L333.2,1488.8 L335.2,1488.9 L337.2,1489.0 L339.2,1489.1 L341.2,1489.2 L343.2,1489.3 L345.2,1489.5 L347.2,1489.6 L349.2,1489.7 L351.2,1489.8 L353.2,1489.9 L355.2,1490.0 L357.2,1490.1 L359.2,1490.2 L361.2,1490.3 L363.2,1490.4 L365.2,1490.5 L367.2,1490.6 L369.2,1490.7 L371.2,1490.8 L373.2,1490.9 L375.2,1491.0 L377.2,1491.1 L379.2,1491.2 L381.2,1491.3 L383.2,1491.4 L385.2,1491.5 L387.2,1491.6 L389.2,1491.7 L391.2,1491.7 L393.2,1491.8 L395.2,1491.9 L397.2,1492.0 L399.2,1492.1 L401.2,1492.2 L403.2,1492.3 L405.2,1492.4 L407.2,1492.4 L409.2,1492.5 L411.3,1492.6 L413.3,1492.7 L415.3,1492.8 L417.3,1492.9 L419.3,1492.9 L421.3,1493.0 L423.3,1493.1 L425.3,1493.2 L427.3,1493.3 L429.3,1493.3 L431.3,1493.4 L433.3,1493.5 L435.3,1493.6 L437.3,1493.6 L439.3,1493.7 L441.3,1493.8 L443.3,1493.9 L445.3,1493.9 L447.3,1494.0 L449.3,1494.1 L451.3,1494.1 L453.3,1494.2 L455.3,1494.3 L457.3,1494.4 L459.3,1494.4 L461.3,1494.5 L463.3,1494.6 L465.3,1494.6 L467.3,1494.7 L469.3,1494.8 L471.3,1494.8 L473.3,1494.9 L475.3,1494.9 L477.3,1495.0 L479.3,1495.1 L481.3,1495.1 L483.3,1495.2 L485.3,1495.3 L487.3,1495.3 L489.3,1495.4 L491.4,1495.4 L493.4,1495.5 L495.4,1495.5 L497.4,1495.6 L499.4,1495.7 L501.4,1495.7 L503.4,1495.8 L505.4,1495.8 L507.4,1495.9 L509.4,1495.9 L511.4,1496.0 L513.4,1496.0 L515.4,1496.1 L517.4,1496.1 L519.4,1496.2 L521.4,1496.2 L523.4,1496.3 L525.4,1496.3 L527.4,1496.4 L529.4,1496.4 L531.4,1496.5 L533.4,1496.5 L535.4,1496.6 L537.4,1496.6 L539.4,1496.7 L541.4,1496.7 L543.4,1496.8 L545.4,1496.8 L547.4,1496.9 L549.4,1496.9 L551.4,1497.0 L553.4,1497.0 L555.4,1497.0 L557.4,1497.1 L559.4,1497.1 L561.4,1497.2 L563.4,1497.2 L565.4,1497.3 L567.4,1497.3 L569.4,1497.3 L571.5,1497.4 L573.5,1497.4 L575.5,1497.5 L577.5,1497.5 L579.5,1497.5 L581.5,1497.6 L583.5,1497.6 L585.5,1497.7 L587.5,1497.7 L589.5,1497.7 L591.5,1497.8 L593.5,1497.8 L595.5,1497.8 L597.5,1497.9 L599.5,1497.9 L601.5,1497.9 L603.5,1498.0 L605.5,1498.0 L607.5,1498.0 L609.5,1498.1 L611.5,1498.1 L613.5,1498.1 L615.5,1498.2 L617.5,1498.2 L619.5,1498.2 L621.5,1498.3 L623.5,1498.3 L625.5,1498.3 L627.5,1498.4 L629.5,1498.4 L631.5,1498.4 L633.5,1498.5 L635.5,1498.5 L637.5,1498.5 L639.5,1498.6 L641.5,1498.6 L643.5,1498.6 L645.5,1498.6 L647.5,1498.7 L649.5,1498.7 L651.5,1498.7 L653.6,1498.8 L655.6,1498.8 L657.6,1498.8 L659.6,1498.8 L661.6,1498.9 L663.6,1498.9 L665.6,1498.9 L667.6,1499.0 L669.6,1499.0 L671.6,1499.0 L673.6,1499.0 L675.6,1499.1 L677.6,1499.1 L679.6,1499.1 L681.6,1499.1 L683.6,1499.2 L685.6,1499.2 L687.6,1499.2 L689.6,1499.3 L691.6,1499.3 L693.6,1499.3 L695.6,1499.3 L697.6,1499.4 L699.6,1499.4 L701.6,1499.4 L703.6,1499.4 L705.6,1499.5 L707.6,1499.5 L709.6,1499.5 L711.6,1499.5 L713.6,1499.6 L715.6,1499.6 L717.6,1499.6 L719.6,1499.6 L721.6,1499.7 L723.6,1499.7 L725.6,1499.7 L727.6,1499.7 L729.6,1499.7 L731.6,1499.8 L733.7,1499.8 L735.7,1499.8 L737.7,1499.8 L739.7,1499.9 L741.7,1499.9 L743.7,1499.9 L745.7,1499.9 L747.7,1500.0 L749.7,1500.0 L751.7,1500.0 L753.7,1500.0 L755.7,1500.1 L757.7,1500.1 L759.7,1500.1 L761.7,1500.1 L763.7,1500.2 L765.7,1500.2 L767.7,1500.2 L769.7,1500.2 L771.7,1500.3 L773.7,1500.3 L775.7,1500.3 L777.7,1500.3 L779.7,1500.4 L781.7,1500.4 L783.7,1500.4 L785.7,1500.4 L787.7,1500.5 L789.7,1500.5 L791.7,1500.5 L793.7,1500.5 L795.7,1500.6 L797.7,1500.6 L799.7,1500.6 L801.7,1500.6 L803.7,1500.7 L805.7,1500.7 L807.7,1500.7 L809.7,1500.7 L811.7,1500.8 L813.8,1500.8 L815.8,1500.8 L817.8,1500.8 L819.8,1500.9 L821.8,1500.9 L823.8,1500.9 L825.8,1500.9 L827.8,1501.0 L829.8,1501.0 L831.8,1501.0 L833.8,1501.1 L835.8,1501.1 L837.8,1501.1 L839.8,1501.1 L841.8,1501.2 L843.8,1501.2 L845.8,1501.2 L847.8,1501.3 L849.8,1501.3 L851.8,1501.3 L853.8,1501.3 L855.8,1501.4 L857.8,1501.4 L859.8,1501.4 L861.8,1501.5 L863.8,1501.5 L865.8,1501.5 L867.8,1501.6 L869.8,1501.6 L871.8,1501.6 L873.8,1501.7 L875.8,1501.7 L877.8,1501.7 L879.8,1501.8 L881.8,1501.8 L883.8,1501.8 L885.8,1501.9 L887.8,1501.9 L889.8,1501.9 L891.8,1502.0 L893.9,1502.0 L895.9,1502.0 L897.9,1502.1 L899.9,1502.1 L901.9,1502.1 L903.9,1502.2 L905.9,1502.2 L907.9,1502.3 L909.9,1502.3 L911.9,1502.3 L913.9,1502.4 L915.9,1502.4 L917.9,1502.4 L919.9,1502.5 L921.9,1502.5 L923.9,1502.6 L925.9,1502.6 L927.9,1502.7 L929.9,1502.7 L931.9,1502.7 L933.9,1502.8 L935.9,1502.8 L937.9,1502.9 L939.9,1502.9 L941.9,1503.0 L943.9,1503.0 L945.9,1503.0 L947.9,1503.1 L949.9,1503.1 L951.9,1503.2 L953.9,1503.2 L955.9,1503.3 L957.9,1503.3 L959.9,1503.4 L961.9,1503.4 L963.9,1503.5 L965.9,1503.5 L967.9,1503.6 L969.9,1503.6 L971.9,1503.7 L974.0,1503.7 L976.0,1503.8 L978.0,1503.8 L980.0,1503.9 L982.0,1503.9 L984.0,1504.0 L986.0,1504.0 L988.0,1504.1 L990.0,1504.1 L992.0,1504.2 L994.0,1504.3 L996.0,1504.3 L998.0,1504.4 L1000.0,1504.4 L1002.0,1504.5 L1004.0,1504.5 L1006.0,1504.6 L1008.0,1504.7 L1010.0,1504.7 L1012.0,1504.8 L1014.0,1504.8" fill="none" stroke="#000" stroke-width="5.3" stroke-linecap="round" stroke-linejoin="round" stroke-dasharray="36.7 25" stroke-dashoffset="19.5"/>
<path d="M128.5,992.6 L130.5,994.2 L132.5,995.9 L134.5,997.5 L136.5,999.2 L138.5,1000.8 L140.5,1002.4 L142.5,1004.0 L144.5,1005.6 L146.5,1007.2 L148.5,1008.8 L150.5,1010.4 L152.5,1012.0 L154.5,1013.6 L156.5,1015.2 L158.6,1016.7 L160.6,1018.3 L162.6,1019.9 L164.6,1021.4 L166.6,1023.0 L168.6,1024.5 L170.6,1026.0 L172.6,1027.6 L174.6,1029.1 L176.6,1030.6 L178.6,1032.1 L180.6,1033.7 L182.6,1035.2 L184.6,1036.7 L186.6,1038.2 L188.6,1039.6 L190.6,1041.1 L192.6,1042.6 L194.6,1044.1 L196.6,1045.5 L198.6,1047.0 L200.6,1048.5 L202.6,1049.9 L204.6,1051.4 L206.6,1052.8 L208.6,1054.2 L210.6,1055.7 L212.6,1057.1 L214.6,1058.5 L216.6,1059.9 L218.7,1061.4 L220.7,1062.8 L222.7,1064.2 L224.7,1065.6 L226.7,1066.9 L228.7,1068.3 L230.7,1069.7 L232.7,1071.1 L234.7,1072.5 L236.7,1073.8 L238.7,1075.2 L240.7,1076.5 L242.7,1077.9 L244.7,1079.2 L246.7,1080.6 L248.7,1081.9 L250.7,1083.3 L252.7,1084.6 L254.7,1085.9 L256.7,1087.2 L258.7,1088.5 L260.7,1089.8 L262.7,1091.1 L264.7,1092.4 L266.7,1093.7 L268.7,1095.0 L270.7,1096.3 L272.7,1097.6 L274.7,1098.9 L276.8,1100.1 L278.8,1101.4 L280.8,1102.7 L282.8,1103.9 L284.8,1105.2 L286.8,1106.4 L288.8,1107.6 L290.8,1108.9 L292.8,1110.1 L294.8,1111.3 L296.8,1112.6 L298.8,1113.8 L300.8,1115.0 L302.8,1116.2 L304.8,1117.4 L306.8,1118.6 L308.8,1119.8 L310.8,1121.0 L312.8,1122.2 L314.8,1123.4 L316.8,1124.6 L318.8,1125.7 L320.8,1126.9 L322.8,1128.1 L324.8,1129.2 L326.8,1130.4 L328.8,1131.5 L330.8,1132.7 L332.8,1133.8 L334.8,1135.0 L336.9,1136.1 L338.9,1137.3 L340.9,1138.4 L342.9,1139.5 L344.9,1140.6 L346.9,1141.7 L348.9,1142.9 L350.9,1144.0 L352.9,1145.1 L354.9,1146.2 L356.9,1147.3 L358.9,1148.3 L360.9,1149.4 L362.9,1150.5 L364.9,1151.6 L366.9,1152.7 L368.9,1153.7 L370.9,1154.8 L372.9,1155.9 L374.9,1156.9 L376.9,1158.0 L378.9,1159.0 L380.9,1160.1 L382.9,1161.1 L384.9,1162.2 L386.9,1163.2 L388.9,1164.2 L390.9,1165.3 L392.9,1166.3 L395.0,1167.3 L397.0,1168.3 L399.0,1169.3 L401.0,1170.3 L403.0,1171.4 L405.0,1172.4 L407.0,1173.3 L409.0,1174.3 L411.0,1175.3 L413.0,1176.3 L415.0,1177.3 L417.0,1178.3 L419.0,1179.3 L421.0,1180.2 L423.0,1181.2 L425.0,1182.2 L427.0,1183.1 L429.0,1184.1 L431.0,1185.0 L433.0,1186.0 L435.0,1186.9 L437.0,1187.9 L439.0,1188.8 L441.0,1189.8 L443.0,1190.7 L445.0,1191.6 L447.0,1192.6 L449.0,1193.5 L451.0,1194.4 L453.0,1195.3 L455.1,1196.2 L457.1,1197.1 L459.1,1198.0 L461.1,1198.9 L463.1,1199.8 L465.1,1200.7 L467.1,1201.6 L469.1,1202.5 L471.1,1203.4 L473.1,1204.3 L475.1,1205.2 L477.1,1206.1 L479.1,1206.9 L481.1,1207.8 L483.1,1208.7 L485.1,1209.5 L487.1,1210.4 L489.1,1211.3 L491.1,1212.1 L493.1,1213.0 L495.1,1213.8 L497.1,1214.7 L499.1,1215.5 L501.1,1216.3 L503.1,1217.2 L505.1,1218.0 L507.1,1218.8 L509.1,1219.7 L511.1,1220.5 L513.2,1221.3 L515.2,1222.1 L517.2,1223.0 L519.2,1223.8 L521.2,1224.6 L523.2,1225.4 L525.2,1226.2 L527.2,1227.0 L529.2,1227.8 L531.2,1228.6 L533.2,1229.4 L535.2,1230.2 L537.2,1231.0 L539.2,1231.7 L541.2,1232.5 L543.2,1233.3 L545.2,1234.1 L547.2,1234.9 L549.2,1235.6 L551.2,1236.4 L553.2,1237.2 L555.2,1237.9 L557.2,1238.7 L559.2,1239.5 L561.2,1240.2 L563.2,1241.0 L565.2,1241.7 L567.2,1242.5 L569.2,1243.2 L571.2,1244.0 L573.3,1244.7 L575.3,1245.4 L577.3,1246.2 L579.3,1246.9 L581.3,1247.6 L583.3,1248.4 L585.3,1249.1 L587.3,1249.8 L589.3,1250.5 L591.3,1251.3 L593.3,1252.0 L595.3,1252.7 L597.3,1253.4 L599.3,1254.1 L601.3,1254.8 L603.3,1255.5 L605.3,1256.2 L607.3,1256.9 L609.3,1257.6 L611.3,1258.3 L613.3,1259.0 L615.3,1259.7 L617.3,1260.4 L619.3,1261.1 L621.3,1261.8 L623.3,1262.5 L625.3,1263.1 L627.3,1263.8 L629.3,1264.5 L631.4,1265.2 L633.4,1265.8 L635.4,1266.5 L637.4,1267.2 L639.4,1267.9 L641.4,1268.5 L643.4,1269.2 L645.4,1269.8 L647.4,1270.5 L649.4,1271.2 L651.4,1271.8 L653.4,1272.5 L655.4,1273.1 L657.4,1273.8 L659.4,1274.4 L661.4,1275.1 L663.4,1275.7 L665.4,1276.4 L667.4,1277.0 L669.4,1277.6 L671.4,1278.3 L673.4,1278.9 L675.4,1279.5 L677.4,1280.2 L679.4,1280.8 L681.4,1281.4 L683.4,1282.0 L685.4,1282.7 L687.4,1283.3 L689.5,1283.9 L691.5,1284.5 L693.5,1285.2 L695.5,1285.8 L697.5,1286.4 L699.5,1287.0 L701.5,1287.6 L703.5,1288.2 L705.5,1288.8 L707.5,1289.4 L709.5,1290.0 L711.5,1290.6 L713.5,1291.2 L715.5,1291.8 L717.5,1292.4 L719.5,1293.0 L721.5,1293.6 L723.5,1294.2 L725.5,1294.8 L727.5,1295.4 L729.5,1296.0 L731.5,1296.6 L733.5,1297.2 L735.5,1297.8 L737.5,1298.4 L739.5,1299.0 L741.5,1299.5 L743.5,1300.1 L745.5,1300.7 L747.5,1301.3 L749.6,1301.9 L751.6,1302.4 L753.6,1303.0 L755.6,1303.6 L757.6,1304.2 L759.6,1304.7 L761.6,1305.3 L763.6,1305.9 L765.6,1306.4 L767.6,1307.0 L769.6,1307.6 L771.6,1308.1 L773.6,1308.7 L775.6,1309.3 L777.6,1309.8 L779.6,1310.4 L781.6,1310.9 L783.6,1311.5 L785.6,1312.1 L787.6,1312.6 L789.6,1313.2 L791.6,1313.7 L793.6,1314.3 L795.6,1314.8 L797.6,1315.4 L799.6,1315.9 L801.6,1316.5 L803.6,1317.0 L805.6,1317.6 L807.7,1318.1 L809.7,1318.7 L811.7,1319.2 L813.7,1319.8 L815.7,1320.3 L817.7,1320.9 L819.7,1321.4 L821.7,1322.0 L823.7,1322.5 L825.7,1323.0 L827.7,1323.6 L829.7,1324.1 L831.7,1324.7 L833.7,1325.2 L835.7,1325.7 L837.7,1326.3 L839.7,1326.8 L841.7,1327.4 L843.7,1327.9 L845.7,1328.4 L847.7,1329.0 L849.7,1329.5 L851.7,1330.0 L853.7,1330.6 L855.7,1331.1 L857.7,1331.6 L859.7,1332.2 L861.7,1332.7 L863.7,1333.2 L865.7,1333.8 L867.8,1334.3 L869.8,1334.8 L871.8,1335.4 L873.8,1335.9 L875.8,1336.4 L877.8,1336.9 L879.8,1337.5 L881.8,1338.0 L883.8,1338.5 L885.8,1339.1 L887.8,1339.6 L889.8,1340.1 L891.8,1340.6 L893.8,1341.2 L895.8,1341.7 L897.8,1342.2 L899.8,1342.7 L901.8,1343.3 L903.8,1343.8 L905.8,1344.3 L907.8,1344.9 L909.8,1345.4 L911.8,1345.9 L913.8,1346.4 L915.8,1347.0 L917.8,1347.5 L919.8,1348.0 L921.8,1348.5 L923.8,1349.1 L925.9,1349.6 L927.9,1350.1 L929.9,1350.6 L931.9,1351.2 L933.9,1351.7 L935.9,1352.2 L937.9,1352.7 L939.9,1353.3 L941.9,1353.8 L943.9,1354.3 L945.9,1354.8 L947.9,1355.4 L949.9,1355.9 L951.9,1356.4 L953.9,1357.0 L955.9,1357.5 L957.9,1358.0 L959.9,1358.5 L961.9,1359.1 L963.9,1359.6 L965.9,1360.1 L967.9,1360.7 L969.9,1361.2 L971.9,1361.7 L973.9,1362.3 L975.9,1362.8 L977.9,1363.3 L979.9,1363.8 L981.9,1364.4 L983.9,1364.9 L986.0,1365.4 L988.0,1366.0 L990.0,1366.5 L992.0,1367.0 L994.0,1367.6 L996.0,1368.1 L998.0,1368.7 L1000.0,1369.2 L1002.0,1369.7 L1004.0,1370.3 L1006.0,1370.8 L1008.0,1371.3 L1010.0,1371.9 L1012.0,1372.4 L1014.0,1373.0" fill="none" stroke="#d9d9d9" stroke-width="5.3" stroke-linecap="round" stroke-linejoin="round" stroke-dasharray="35.7 24.3 0 24.3" stroke-dashoffset="45.56"/>
<path d="M129.5,855.1 L131.5,860.2 L133.5,865.3 L135.5,870.2 L137.5,875.1 L139.5,879.9 L141.5,884.6 L143.5,889.1 L145.5,893.7 L147.5,898.1 L149.5,902.4 L151.5,906.7 L153.5,910.9 L155.5,915.0 L157.5,919.0 L159.5,923.0 L161.5,926.9 L163.5,930.7 L165.5,934.4 L167.5,938.1 L169.5,941.7 L171.5,945.3 L173.5,948.8 L175.5,952.3 L177.5,955.6 L179.5,959.0 L181.5,962.3 L183.5,965.5 L185.5,968.7 L187.5,971.8 L189.5,974.9 L191.5,978.0 L193.5,981.0 L195.5,984.0 L197.5,986.9 L199.5,989.8 L201.5,992.7 L203.5,995.5 L205.5,998.3 L207.5,1001.1 L209.5,1003.8 L211.5,1006.6 L213.5,1009.3 L215.5,1011.9 L217.5,1014.6 L219.6,1017.3 L221.6,1019.9 L223.6,1022.5 L225.6,1025.1 L227.6,1027.7 L229.6,1030.3 L231.6,1032.9 L233.6,1035.4 L235.6,1038.0 L237.6,1040.6 L239.6,1043.1 L241.6,1045.6 L243.6,1048.1 L245.6,1050.6 L247.6,1053.1 L249.6,1055.6 L251.6,1058.1 L253.6,1060.5 L255.6,1063.0 L257.6,1065.4 L259.6,1067.8 L261.6,1070.2 L263.6,1072.6 L265.6,1075.0 L267.6,1077.4 L269.6,1079.7 L271.6,1082.1 L273.6,1084.4 L275.6,1086.7 L277.6,1089.0 L279.6,1091.3 L281.6,1093.5 L283.6,1095.8 L285.6,1098.0 L287.6,1100.2 L289.6,1102.4 L291.6,1104.6 L293.6,1106.8 L295.6,1108.9 L297.6,1111.1 L299.6,1113.2 L301.6,1115.3 L303.6,1117.4 L305.6,1119.5 L307.6,1121.5 L309.6,1123.6 L311.6,1125.6 L313.6,1127.6 L315.6,1129.6 L317.6,1131.5 L319.6,1133.5 L321.6,1135.4 L323.6,1137.3 L325.6,1139.2 L327.6,1141.1 L329.6,1142.9 L331.6,1144.7 L333.6,1146.5 L335.6,1148.3 L337.6,1150.1 L339.6,1151.9 L341.6,1153.6 L343.6,1155.3 L345.6,1157.0 L347.6,1158.7 L349.6,1160.4 L351.6,1162.1 L353.6,1163.7 L355.6,1165.4 L357.6,1167.0 L359.6,1168.6 L361.6,1170.2 L363.6,1171.7 L365.6,1173.3 L367.6,1174.9 L369.6,1176.4 L371.6,1177.9 L373.6,1179.5 L375.6,1181.0 L377.6,1182.5 L379.6,1183.9 L381.6,1185.4 L383.6,1186.9 L385.6,1188.4 L387.6,1189.8 L389.6,1191.3 L391.6,1192.7 L393.6,1194.1 L395.7,1195.6 L397.7,1197.0 L399.7,1198.4 L401.7,1199.8 L403.7,1201.2 L405.7,1202.6 L407.7,1204.0 L409.7,1205.4 L411.7,1206.8 L413.7,1208.2 L415.7,1209.5 L417.7,1210.9 L419.7,1212.3 L421.7,1213.7 L423.7,1215.0 L425.7,1216.4 L427.7,1217.8 L429.7,1219.2 L431.7,1220.5 L433.7,1221.9 L435.7,1223.3 L437.7,1224.6 L439.7,1226.0 L441.7,1227.4 L443.7,1228.8 L445.7,1230.1 L447.7,1231.5 L449.7,1232.9 L451.7,1234.3 L453.7,1235.6 L455.7,1237.0 L457.7,1238.4 L459.7,1239.8 L461.7,1241.1 L463.7,1242.5 L465.7,1243.9 L467.7,1245.3 L469.7,1246.6 L471.7,1248.0 L473.7,1249.4 L475.7,1250.8 L477.7,1252.1 L479.7,1253.5 L481.7,1254.9 L483.7,1256.3 L485.7,1257.6 L487.7,1259.0 L489.7,1260.4 L491.7,1261.7 L493.7,1263.1 L495.7,1264.5 L497.7,1265.9 L499.7,1267.2 L501.7,1268.6 L503.7,1270.0 L505.7,1271.3 L507.7,1272.7 L509.7,1274.1 L511.7,1275.4 L513.7,1276.8 L515.7,1278.1 L517.7,1279.5 L519.7,1280.9 L521.7,1282.2 L523.7,1283.6 L525.7,1284.9 L527.7,1286.3 L529.7,1287.6 L531.7,1289.0 L533.7,1290.3 L535.7,1291.7 L537.7,1293.0 L539.7,1294.4 L541.7,1295.7 L543.7,1297.1 L545.7,1298.4 L547.7,1299.8 L549.7,1301.1 L551.7,1302.4 L553.7,1303.8 L555.7,1305.1 L557.7,1306.4 L559.7,1307.8 L561.7,1309.1 L563.7,1310.4 L565.7,1311.8 L567.7,1313.1 L569.7,1314.4 L571.8,1315.7 L573.8,1317.1 L575.8,1318.4 L577.8,1319.7 L579.8,1321.0 L581.8,1322.3 L583.8,1323.6 L585.8,1324.9 L587.8,1326.2 L589.8,1327.5 L591.8,1328.8 L593.8,1330.1 L595.8,1331.4 L597.8,1332.7 L599.8,1334.0 L601.8,1335.3 L603.8,1336.6 L605.8,1337.9 L607.8,1339.2 L609.8,1340.4 L611.8,1341.7 L613.8,1343.0 L615.8,1344.3 L617.8,1345.5 L619.8,1346.8 L621.8,1348.1 L623.8,1349.3 L625.8,1350.6 L627.8,1351.8 L629.8,1353.1 L631.8,1354.3 L633.8,1355.6 L635.8,1356.8 L637.8,1358.1 L639.8,1359.3 L641.8,1360.5 L643.8,1361.8 L645.8,1363.0 L647.8,1364.2 L649.8,1365.4 L651.8,1366.7 L653.8,1367.9 L655.8,1369.1 L657.8,1370.3 L659.8,1371.5 L661.8,1372.7 L663.8,1373.9 L665.8,1375.1 L667.8,1376.3 L669.8,1377.5 L671.8,1378.7 L673.8,1379.8 L675.8,1381.0 L677.8,1382.2 L679.8,1383.4 L681.8,1384.5 L683.8,1385.7 L685.8,1386.9 L687.8,1388.0 L689.8,1389.2 L691.8,1390.3 L693.8,1391.5 L695.8,1392.6 L697.8,1393.7 L699.8,1394.9 L701.8,1396.0 L703.8,1397.1 L705.8,1398.2 L707.8,1399.3 L709.8,1400.5 L711.8,1401.6 L713.8,1402.7 L715.8,1403.8 L717.8,1404.9 L719.8,1405.9 L721.8,1407.0 L723.8,1408.1 L725.8,1409.2 L727.8,1410.3 L729.8,1411.3 L731.8,1412.4 L733.8,1413.4 L735.8,1414.5 L737.8,1415.6 L739.8,1416.6 L741.8,1417.6 L743.8,1418.7 L745.8,1419.7 L747.8,1420.7 L749.9,1421.7 L751.9,1422.8 L753.9,1423.8 L755.9,1424.8 L757.9,1425.8 L759.9,1426.8 L761.9,1427.8 L763.9,1428.8 L765.9,1429.7 L767.9,1430.7 L769.9,1431.7 L771.9,1432.6 L773.9,1433.6 L775.9,1434.6 L777.9,1435.5 L779.9,1436.4 L781.9,1437.4 L783.9,1438.3 L785.9,1439.2 L787.9,1440.2 L789.9,1441.1 L791.9,1442.0 L793.9,1442.9 L795.9,1443.8 L797.9,1444.7 L799.9,1445.6 L801.9,1446.5 L803.9,1447.3 L805.9,1448.2 L807.9,1449.1 L809.9,1449.9 L811.9,1450.8 L813.9,1451.6 L815.9,1452.5 L817.9,1453.3 L819.9,1454.2 L821.9,1455.0 L823.9,1455.8 L825.9,1456.6 L827.9,1457.4 L829.9,1458.2 L831.9,1459.0 L833.9,1459.8 L835.9,1460.6 L837.9,1461.3 L839.9,1462.1 L841.9,1462.9 L843.9,1463.6 L845.9,1464.4 L847.9,1465.1 L849.9,1465.9 L851.9,1466.6 L853.9,1467.3 L855.9,1468.0 L857.9,1468.7 L859.9,1469.4 L861.9,1470.1 L863.9,1470.8 L865.9,1471.5 L867.9,1472.2 L869.9,1472.8 L871.9,1473.5 L873.9,1474.2 L875.9,1474.8 L877.9,1475.5 L879.9,1476.1 L881.9,1476.7 L883.9,1477.3 L885.9,1477.9 L887.9,1478.6 L889.9,1479.2 L891.9,1479.7 L893.9,1480.3 L895.9,1480.9 L897.9,1481.5 L899.9,1482.0 L901.9,1482.6 L903.9,1483.1 L905.9,1483.7 L907.9,1484.2 L909.9,1484.7 L911.9,1485.3 L913.9,1485.8 L915.9,1486.3 L917.9,1486.8 L919.9,1487.2 L921.9,1487.7 L923.9,1488.2 L926.0,1488.7 L928.0,1489.1 L930.0,1489.6 L932.0,1490.0 L934.0,1490.4 L936.0,1490.9 L938.0,1491.3 L940.0,1491.7 L942.0,1492.1 L944.0,1492.5 L946.0,1492.9 L948.0,1493.2 L950.0,1493.6 L952.0,1494.0 L954.0,1494.3 L956.0,1494.7 L958.0,1495.0 L960.0,1495.3 L962.0,1495.6 L964.0,1495.9 L966.0,1496.2 L968.0,1496.5 L970.0,1496.8 L972.0,1497.1 L974.0,1497.4 L976.0,1497.6 L978.0,1497.9 L980.0,1498.1 L982.0,1498.3 L984.0,1498.6 L986.0,1498.8 L988.0,1499.0 L990.0,1499.2 L992.0,1499.4 L994.0,1499.6 L996.0,1499.7 L998.0,1499.9 L1000.0,1500.0 L1002.0,1500.2 L1004.0,1500.3 L1006.0,1500.4 L1008.0,1500.6 L1010.0,1500.7 L1012.0,1500.8 L1014.0,1500.9" fill="none" stroke="#000" stroke-width="5.3" stroke-linecap="round" stroke-linejoin="round"/>
<path d="M129.5,854.3 L131.5,859.3 L133.5,864.4 L135.5,869.3 L137.5,874.3 L139.5,879.2 L141.5,884.1 L143.5,889.1 L145.5,894.2 L147.5,899.3 L149.5,904.6 L151.5,909.9 L153.5,915.2 L155.5,920.7 L157.5,926.1 L159.5,931.6 L161.5,937.1 L163.5,942.6 L165.5,948.1 L167.5,953.5 L169.5,958.9 L171.5,964.2 L173.5,969.3 L175.5,974.2 L177.5,979.0 L179.5,983.4 L181.5,987.6 L183.5,991.5 L185.5,995.0 L187.5,998.2 L189.5,1001.2 L191.5,1003.9 L193.5,1006.5 L195.5,1008.8 L197.5,1011.0 L199.5,1013.0 L201.5,1014.9 L203.5,1016.7 L205.5,1018.4 L207.5,1020.0 L209.5,1021.6 L211.5,1023.1 L213.5,1024.5 L215.5,1025.9 L217.6,1027.3 L219.6,1028.7 L221.6,1030.1 L223.6,1031.5 L225.6,1033.0 L227.6,1034.5 L229.6,1036.1 L231.6,1037.7 L233.6,1039.5 L235.6,1041.3 L237.6,1043.2 L239.6,1045.3 L241.6,1047.4 L243.6,1049.6 L245.6,1051.8 L247.6,1054.2 L249.6,1056.6 L251.6,1059.0 L253.6,1061.5 L255.6,1064.1 L257.6,1066.6 L259.6,1069.2 L261.6,1071.8 L263.6,1074.4 L265.6,1077.1 L267.6,1079.7 L269.6,1082.3 L271.6,1084.9 L273.6,1087.5 L275.6,1090.0 L277.6,1092.5 L279.6,1095.0 L281.6,1097.4 L283.6,1099.8 L285.6,1102.1 L287.6,1104.4 L289.6,1106.7 L291.6,1108.9 L293.6,1111.1 L295.6,1113.3 L297.6,1115.4 L299.6,1117.5 L301.6,1119.6 L303.6,1121.6 L305.6,1123.6 L307.6,1125.6 L309.6,1127.6 L311.6,1129.5 L313.6,1131.4 L315.6,1133.2 L317.6,1135.1 L319.6,1136.9 L321.6,1138.6 L323.6,1140.4 L325.6,1142.1 L327.6,1143.8 L329.6,1145.5 L331.6,1147.1 L333.6,1148.7 L335.6,1150.4 L337.6,1151.9 L339.6,1153.5 L341.6,1155.0 L343.6,1156.6 L345.6,1158.1 L347.6,1159.5 L349.6,1161.0 L351.6,1162.4 L353.6,1163.9 L355.6,1165.3 L357.6,1166.7 L359.6,1168.0 L361.6,1169.4 L363.6,1170.8 L365.6,1172.1 L367.6,1173.4 L369.6,1174.7 L371.6,1176.0 L373.6,1177.3 L375.6,1178.6 L377.6,1179.8 L379.6,1181.1 L381.6,1182.3 L383.6,1183.6 L385.6,1184.8 L387.6,1186.0 L389.6,1187.2 L391.6,1188.4 L393.6,1189.6 L395.7,1190.8 L397.7,1192.0 L399.7,1193.2 L401.7,1194.4 L403.7,1195.6 L405.7,1196.8 L407.7,1197.9 L409.7,1199.1 L411.7,1200.3 L413.7,1201.5 L415.7,1202.6 L417.7,1203.8 L419.7,1205.0 L421.7,1206.1 L423.7,1207.3 L425.7,1208.4 L427.7,1209.6 L429.7,1210.7 L431.7,1211.9 L433.7,1213.0 L435.7,1214.2 L437.7,1215.3 L439.7,1216.5 L441.7,1217.6 L443.7,1218.8 L445.7,1219.9 L447.7,1221.0 L449.7,1222.1 L451.7,1223.3 L453.7,1224.4 L455.7,1225.5 L457.7,1226.6 L459.7,1227.8 L461.7,1228.9 L463.7,1230.0 L465.7,1231.1 L467.7,1232.2 L469.7,1233.3 L471.7,1234.4 L473.7,1235.5 L475.7,1236.6 L477.7,1237.7 L479.7,1238.8 L481.7,1239.9 L483.7,1241.0 L485.7,1242.1 L487.7,1243.2 L489.7,1244.3 L491.7,1245.4 L493.7,1246.5 L495.7,1247.5 L497.7,1248.6 L499.7,1249.7 L501.7,1250.8 L503.7,1251.8 L505.7,1252.9 L507.7,1254.0 L509.7,1255.0 L511.7,1256.1 L513.7,1257.2 L515.7,1258.2 L517.7,1259.3 L519.7,1260.3 L521.7,1261.4 L523.7,1262.4 L525.7,1263.5 L527.7,1264.5 L529.7,1265.6 L531.7,1266.6 L533.7,1267.6 L535.7,1268.7 L537.7,1269.7 L539.7,1270.7 L541.7,1271.8 L543.7,1272.8 L545.7,1273.8 L547.7,1274.8 L549.7,1275.9 L551.7,1276.9 L553.7,1277.9 L555.7,1278.9 L557.7,1279.9 L559.7,1281.0 L561.7,1282.0 L563.7,1283.0 L565.7,1284.0 L567.7,1285.0 L569.8,1286.0 L571.8,1287.0 L573.8,1288.0 L575.8,1289.0 L577.8,1290.0 L579.8,1291.0 L581.8,1291.9 L583.8,1292.9 L585.8,1293.9 L587.8,1294.9 L589.8,1295.9 L591.8,1296.9 L593.8,1297.8 L595.8,1298.8 L597.8,1299.8 L599.8,1300.8 L601.8,1301.7 L603.8,1302.7 L605.8,1303.7 L607.8,1304.6 L609.8,1305.6 L611.8,1306.5 L613.8,1307.5 L615.8,1308.4 L617.8,1309.4 L619.8,1310.4 L621.8,1311.3 L623.8,1312.2 L625.8,1313.2 L627.8,1314.1 L629.8,1315.1 L631.8,1316.0 L633.8,1317.0 L635.8,1317.9 L637.8,1318.8 L639.8,1319.8 L641.8,1320.7 L643.8,1321.6 L645.8,1322.5 L647.8,1323.5 L649.8,1324.4 L651.8,1325.3 L653.8,1326.2 L655.8,1327.1 L657.8,1328.0 L659.8,1329.0 L661.8,1329.9 L663.8,1330.8 L665.8,1331.7 L667.8,1332.6 L669.8,1333.5 L671.8,1334.4 L673.8,1335.3 L675.8,1336.2 L677.8,1337.1 L679.8,1338.0 L681.8,1338.9 L683.8,1339.8 L685.8,1340.6 L687.8,1341.5 L689.8,1342.4 L691.8,1343.3 L693.8,1344.2 L695.8,1345.0 L697.8,1345.9 L699.8,1346.8 L701.8,1347.7 L703.8,1348.5 L705.8,1349.4 L707.8,1350.3 L709.8,1351.1 L711.8,1352.0 L713.8,1352.9 L715.8,1353.7 L717.8,1354.6 L719.8,1355.4 L721.8,1356.3 L723.8,1357.1 L725.8,1358.0 L727.8,1358.8 L729.8,1359.7 L731.8,1360.5 L733.8,1361.4 L735.8,1362.2 L737.8,1363.1 L739.8,1363.9 L741.8,1364.7 L743.8,1365.6 L745.8,1366.4 L747.9,1367.2 L749.9,1368.0 L751.9,1368.9 L753.9,1369.7 L755.9,1370.5 L757.9,1371.3 L759.9,1372.2 L761.9,1373.0 L763.9,1373.8 L765.9,1374.6 L767.9,1375.4 L769.9,1376.2 L771.9,1377.0 L773.9,1377.8 L775.9,1378.7 L777.9,1379.5 L779.9,1380.3 L781.9,1381.1 L783.9,1381.9 L785.9,1382.7 L787.9,1383.4 L789.9,1384.2 L791.9,1385.0 L793.9,1385.8 L795.9,1386.6 L797.9,1387.4 L799.9,1388.2 L801.9,1389.0 L803.9,1389.7 L805.9,1390.5 L807.9,1391.3 L809.9,1392.1 L811.9,1392.9 L813.9,1393.6 L815.9,1394.4 L817.9,1395.2 L819.9,1395.9 L821.9,1396.7 L823.9,1397.5 L825.9,1398.2 L827.9,1399.0 L829.9,1399.7 L831.9,1400.5 L833.9,1401.3 L835.9,1402.0 L837.9,1402.8 L839.9,1403.5 L841.9,1404.3 L843.9,1405.0 L845.9,1405.8 L847.9,1406.5 L849.9,1407.2 L851.9,1408.0 L853.9,1408.7 L855.9,1409.5 L857.9,1410.2 L859.9,1410.9 L861.9,1411.7 L863.9,1412.4 L865.9,1413.1 L867.9,1413.9 L869.9,1414.6 L871.9,1415.3 L873.9,1416.0 L875.9,1416.7 L877.9,1417.5 L879.9,1418.2 L881.9,1418.9 L883.9,1419.6 L885.9,1420.3 L887.9,1421.0 L889.9,1421.8 L891.9,1422.5 L893.9,1423.2 L895.9,1423.9 L897.9,1424.6 L899.9,1425.3 L901.9,1426.0 L903.9,1426.7 L905.9,1427.4 L907.9,1428.1 L909.9,1428.8 L911.9,1429.5 L913.9,1430.2 L915.9,1430.8 L917.9,1431.5 L919.9,1432.2 L921.9,1432.9 L924.0,1433.6 L926.0,1434.3 L928.0,1434.9 L930.0,1435.6 L932.0,1436.3 L934.0,1437.0 L936.0,1437.7 L938.0,1438.3 L940.0,1439.0 L942.0,1439.7 L944.0,1440.3 L946.0,1441.0 L948.0,1441.7 L950.0,1442.3 L952.0,1443.0 L954.0,1443.7 L956.0,1444.3 L958.0,1445.0 L960.0,1445.6 L962.0,1446.3 L964.0,1446.9 L966.0,1447.6 L968.0,1448.2 L970.0,1448.9 L972.0,1449.5 L974.0,1450.2 L976.0,1450.8 L978.0,1451.5 L980.0,1452.1 L982.0,1452.8 L984.0,1453.4 L986.0,1454.0 L988.0,1454.7 L990.0,1455.3 L992.0,1455.9 L994.0,1456.6 L996.0,1457.2 L998.0,1457.8 L1000.0,1458.5 L1002.0,1459.1 L1004.0,1459.7 L1006.0,1460.3 L1008.0,1461.0 L1010.0,1461.6" fill="none" stroke="#000" stroke-width="5.3" stroke-linecap="round" stroke-linejoin="round" stroke-dasharray="10.1 12.4" stroke-dashoffset="1.39"/>
<path d="M130.0,848.1 L132.0,854.1 L134.0,859.8 L136.0,865.2 L138.0,870.5 L140.0,875.6 L142.0,880.4 L144.0,885.1 L146.0,889.6 L148.0,894.0 L150.0,898.2 L152.0,902.2 L154.0,906.1 L156.0,909.9 L158.0,913.5 L160.0,917.1 L162.0,920.5 L164.0,923.9 L166.0,927.3 L168.0,930.6 L170.0,933.9 L172.0,937.2 L174.0,940.4 L176.0,943.7 L178.0,947.0 L180.0,950.2 L182.0,953.4 L184.0,956.7 L186.0,959.9 L188.0,963.2 L190.0,966.4 L192.0,969.7 L194.0,972.9 L196.0,976.2 L198.0,979.5 L200.0,982.7 L202.0,986.0 L204.0,989.3 L206.0,992.6 L208.0,995.9 L210.0,999.3 L212.0,1002.6 L214.0,1006.0 L216.0,1009.4 L218.0,1012.7 L220.0,1016.2 L222.0,1019.6 L224.0,1023.0 L226.0,1026.5 L228.0,1029.9 L230.0,1033.4 L232.0,1036.9 L234.0,1040.3 L236.0,1043.8 L238.0,1047.2 L240.0,1050.7 L242.0,1054.1 L244.0,1057.4 L246.0,1060.8 L248.0,1064.1 L250.0,1067.4 L252.0,1070.7 L254.0,1073.9 L256.0,1077.0 L258.0,1080.1 L260.0,1083.1 L262.0,1086.0 L264.0,1088.8 L266.0,1091.5 L268.0,1094.1 L270.0,1096.5 L272.0,1098.8 L274.0,1101.0 L276.0,1103.2 L278.0,1105.2 L280.0,1107.1 L282.0,1109.0 L284.0,1110.7 L286.0,1112.5 L288.0,1114.1 L290.0,1115.7 L292.0,1117.3 L294.0,1118.9 L296.0,1120.4 L298.0,1121.9 L300.0,1123.4 L302.0,1124.9 L304.0,1126.4 L306.0,1127.9 L308.0,1129.4 L310.0,1130.9 L312.0,1132.4 L314.0,1133.9 L316.0,1135.4 L318.0,1136.9 L320.0,1138.4 L322.0,1139.9 L324.0,1141.4 L326.0,1142.9 L328.0,1144.4 L330.0,1145.8 L332.0,1147.3 L334.0,1148.8 L336.0,1150.3 L338.0,1151.8 L340.0,1153.2 L342.0,1154.7 L344.0,1156.2 L346.0,1157.6 L348.0,1159.1 L350.0,1160.6 L352.0,1162.0 L354.0,1163.4 L356.0,1164.9 L358.0,1166.3 L360.0,1167.8 L362.0,1169.2 L364.0,1170.6 L366.0,1172.0 L368.0,1173.4 L370.0,1174.8 L372.0,1176.2 L374.0,1177.6 L376.0,1179.0 L378.0,1180.4 L380.0,1181.7 L382.0,1183.1 L384.0,1184.5 L386.0,1185.8 L388.0,1187.1 L390.0,1188.5 L392.0,1189.8 L394.0,1191.1 L396.0,1192.4 L398.0,1193.7 L400.0,1195.0 L402.0,1196.3 L404.0,1197.6 L406.0,1198.9 L408.0,1200.1 L410.0,1201.4 L412.0,1202.6 L414.0,1203.9 L416.0,1205.1 L418.0,1206.4 L420.0,1207.6 L422.0,1208.8 L424.0,1210.0 L426.0,1211.2 L428.0,1212.4 L430.0,1213.6 L432.0,1214.8 L434.0,1216.0 L436.0,1217.2 L438.0,1218.4 L440.0,1219.5 L442.0,1220.7 L444.0,1221.9 L446.0,1223.0 L448.0,1224.2 L450.0,1225.3 L452.0,1226.4 L454.0,1227.6 L456.0,1228.7 L458.0,1229.8 L460.0,1230.9 L462.0,1232.1 L464.0,1233.2 L466.0,1234.3 L468.0,1235.4 L470.0,1236.5 L472.0,1237.6 L474.0,1238.6 L476.0,1239.7 L478.0,1240.8 L480.0,1241.9 L482.0,1243.0 L484.0,1244.0 L486.0,1245.1 L488.0,1246.1 L490.0,1247.2 L492.0,1248.3 L494.0,1249.3 L496.0,1250.4 L498.0,1251.4 L500.0,1252.4 L502.0,1253.5 L504.0,1254.5 L506.0,1255.5 L508.0,1256.6 L510.0,1257.6 L512.0,1258.6 L514.0,1259.6 L516.0,1260.7 L518.0,1261.7 L520.0,1262.7 L522.0,1263.7 L524.0,1264.7 L526.0,1265.7 L528.0,1266.7 L530.0,1267.7 L532.0,1268.7 L534.0,1269.7 L536.0,1270.7 L538.0,1271.7 L540.0,1272.7 L542.0,1273.7 L544.0,1274.6 L546.0,1275.6 L548.0,1276.6 L550.0,1277.6 L552.0,1278.6 L554.0,1279.5 L556.0,1280.5 L558.0,1281.5 L560.0,1282.4 L562.0,1283.4 L564.0,1284.4 L566.0,1285.3 L568.0,1286.3 L570.0,1287.2 L572.0,1288.2 L574.0,1289.2 L576.0,1290.1 L578.0,1291.1 L580.0,1292.0 L582.0,1293.0 L584.0,1293.9 L586.0,1294.8 L588.0,1295.8 L590.0,1296.7 L592.0,1297.7 L594.0,1298.6 L596.0,1299.5 L598.0,1300.5 L600.0,1301.4 L602.0,1302.3 L604.0,1303.3 L606.0,1304.2 L608.0,1305.1 L610.0,1306.1 L612.0,1307.0 L614.0,1307.9 L616.0,1308.8 L618.0,1309.8 L620.0,1310.7 L622.0,1311.6 L624.0,1312.5 L626.0,1313.5 L628.0,1314.4 L630.0,1315.3 L632.0,1316.2 L634.0,1317.1 L636.0,1318.1 L638.0,1319.0 L640.0,1319.9 L642.0,1320.8 L644.0,1321.7 L646.0,1322.6 L648.0,1323.5 L650.0,1324.5 L652.0,1325.4 L654.0,1326.3 L656.0,1327.2 L658.0,1328.1 L660.0,1329.0 L662.0,1329.9 L664.0,1330.8 L666.0,1331.7 L668.0,1332.7 L670.0,1333.6 L672.0,1334.5 L674.0,1335.4 L676.0,1336.3 L678.0,1337.2 L680.0,1338.1 L682.0,1339.0 L684.0,1339.9 L686.0,1340.8 L688.0,1341.8 L690.0,1342.7 L692.0,1343.6 L694.0,1344.5 L696.0,1345.4 L698.0,1346.3 L700.0,1347.2 L702.0,1348.1 L704.0,1349.1 L706.0,1350.0 L708.0,1350.9 L710.0,1351.8 L712.0,1352.7 L714.0,1353.6 L716.0,1354.5 L718.0,1355.5 L720.0,1356.4 L722.0,1357.3 L724.0,1358.2 L726.0,1359.1 L728.0,1360.1 L730.0,1361.0 L732.0,1361.9 L734.0,1362.8 L736.0,1363.8 L738.0,1364.7 L740.0,1365.6 L742.0,1366.5 L744.0,1367.5 L746.0,1368.4 L748.0,1369.3 L750.0,1370.3 L752.0,1371.2 L754.0,1372.1 L756.0,1373.1 L758.0,1374.0 L760.0,1375.0 L762.0,1375.9 L764.0,1376.8 L766.0,1377.8 L768.0,1378.7 L770.0,1379.7 L772.0,1380.6 L774.0,1381.6 L776.0,1382.5 L778.0,1383.5 L780.0,1384.4 L782.0,1385.4 L784.0,1386.4 L786.0,1387.3 L788.0,1388.3 L790.0,1389.2 L792.0,1390.2 L794.0,1391.2 L796.0,1392.1 L798.0,1393.1 L800.0,1394.1 L802.0,1395.0 L804.0,1396.0 L806.0,1397.0 L808.0,1397.9 L810.0,1398.9 L812.0,1399.9 L814.0,1400.8 L816.0,1401.8 L818.0,1402.8 L820.0,1403.7 L822.0,1404.7 L824.0,1405.7 L826.0,1406.7 L828.0,1407.6 L830.0,1408.6 L832.0,1409.6 L834.0,1410.5 L836.0,1411.5 L838.0,1412.4 L840.0,1413.4 L842.0,1414.4 L844.0,1415.3 L846.0,1416.3 L848.0,1417.3 L850.0,1418.2 L852.0,1419.2 L854.0,1420.1 L856.0,1421.1 L858.0,1422.0 L860.0,1423.0 L862.0,1423.9 L864.0,1424.9 L866.0,1425.8 L868.0,1426.8 L870.0,1427.7 L872.0,1428.6 L874.0,1429.6 L876.0,1430.5 L878.0,1431.4 L880.0,1432.4 L882.0,1433.3 L884.0,1434.2 L886.0,1435.1 L888.0,1436.1 L890.0,1437.0 L892.0,1437.9 L894.0,1438.8 L896.0,1439.7 L898.0,1440.6 L900.0,1441.5 L902.0,1442.4 L904.0,1443.3 L906.0,1444.2 L908.0,1445.1 L910.0,1446.0 L912.0,1446.8 L914.0,1447.7 L916.0,1448.6 L918.0,1449.4 L920.0,1450.3 L922.0,1451.2 L924.0,1452.0 L926.0,1452.9 L928.0,1453.7 L930.0,1454.5 L932.0,1455.4 L934.0,1456.2 L936.0,1457.0 L938.0,1457.9 L940.0,1458.7 L942.0,1459.5 L944.0,1460.3 L946.0,1461.1 L948.0,1461.9 L950.0,1462.7 L952.0,1463.5 L954.0,1464.2 L956.0,1465.0 L958.0,1465.8 L960.0,1466.5 L962.0,1467.3 L964.0,1468.1 L966.0,1468.8 L968.0,1469.5 L970.0,1470.3 L972.0,1471.0 L974.0,1471.7 L976.0,1472.4 L978.0,1473.1 L980.0,1473.8 L982.0,1474.5 L984.0,1475.2 L986.0,1475.9 L988.0,1476.6 L990.0,1477.2 L992.0,1477.9 L994.0,1478.5 L996.0,1479.2 L998.0,1479.8 L1000.0,1480.5 L1002.0,1481.1 L1004.0,1481.7 L1006.0,1482.3 L1008.0,1482.9 L1010.0,1483.5 L1012.0,1484.1 L1014.0,1484.7" fill="none" stroke="#000" stroke-width="5.3" stroke-linecap="round" stroke-linejoin="round" stroke-dasharray="0 11.25" stroke-dashoffset="9.99"/>
<path d="M127.9,895.7 L129.9,899.1 L131.9,902.5 L133.9,905.8 L135.9,909.2 L137.9,912.5 L139.9,915.9 L141.9,919.2 L143.9,922.5 L145.9,925.7 L147.9,929.0 L149.9,932.2 L151.9,935.5 L153.9,938.7 L155.9,941.9 L157.9,945.0 L159.9,948.2 L161.9,951.3 L163.9,954.4 L165.9,957.4 L167.9,960.5 L169.9,963.5 L171.9,966.5 L173.9,969.5 L175.9,972.4 L177.9,975.3 L179.9,978.2 L181.9,981.1 L183.9,983.9 L185.9,986.7 L187.9,989.5 L189.9,992.3 L191.9,995.0 L193.9,997.7 L195.9,1000.3 L197.9,1003.0 L199.9,1005.5 L201.9,1008.1 L203.9,1010.6 L205.9,1013.1 L207.9,1015.6 L209.9,1018.0 L211.9,1020.4 L213.9,1022.8 L215.9,1025.1 L217.9,1027.4 L219.9,1029.7 L221.9,1031.9 L223.9,1034.1 L225.9,1036.3 L227.9,1038.4 L229.9,1040.6 L231.9,1042.7 L233.9,1044.7 L235.9,1046.8 L237.9,1048.8 L239.9,1050.8 L241.9,1052.7 L243.9,1054.7 L245.9,1056.6 L247.9,1058.5 L249.9,1060.4 L251.9,1062.2 L253.9,1064.1 L255.9,1065.9 L257.9,1067.7 L259.9,1069.4 L261.9,1071.2 L263.9,1072.9 L265.9,1074.6 L267.9,1076.3 L269.9,1078.0 L271.9,1079.7 L273.9,1081.3 L275.9,1082.9 L277.9,1084.6 L279.9,1086.2 L281.9,1087.8 L283.9,1089.3 L285.9,1090.9 L287.9,1092.5 L289.9,1094.0 L291.9,1095.5 L293.9,1097.1 L295.9,1098.6 L297.9,1100.1 L299.9,1101.6 L301.9,1103.1 L303.9,1104.6 L305.9,1106.0 L307.9,1107.5 L309.9,1109.0 L311.9,1110.4 L313.9,1111.9 L315.9,1113.3 L317.9,1114.8 L319.9,1116.2 L321.9,1117.7 L323.9,1119.1 L325.9,1120.6 L327.9,1122.0 L329.9,1123.4 L331.9,1124.9 L333.9,1126.3 L335.9,1127.8 L337.9,1129.2 L339.9,1130.6 L341.9,1132.1 L343.9,1133.5 L345.9,1134.9 L347.9,1136.4 L349.9,1137.8 L351.9,1139.2 L353.9,1140.7 L355.9,1142.1 L357.9,1143.5 L359.9,1144.9 L361.9,1146.3 L363.9,1147.7 L365.9,1149.1 L367.9,1150.5 L369.9,1151.9 L371.9,1153.3 L373.9,1154.7 L375.9,1156.1 L377.9,1157.5 L379.9,1158.9 L381.9,1160.3 L383.9,1161.6 L385.9,1163.0 L387.9,1164.3 L389.9,1165.7 L391.9,1167.0 L393.9,1168.4 L395.9,1169.7 L397.9,1171.0 L399.9,1172.4 L401.9,1173.7 L403.9,1175.0 L405.9,1176.3 L407.9,1177.6 L409.9,1178.9 L411.9,1180.2 L413.9,1181.4 L415.9,1182.7 L417.9,1183.9 L419.9,1185.2 L421.9,1186.4 L423.9,1187.7 L425.9,1188.9 L427.9,1190.1 L429.9,1191.3 L431.9,1192.5 L433.9,1193.7 L435.9,1194.9 L437.9,1196.0 L439.9,1197.2 L441.9,1198.3 L443.9,1199.5 L445.9,1200.6 L447.9,1201.8 L449.9,1202.9 L451.9,1204.0 L453.9,1205.2 L455.9,1206.3 L457.9,1207.4 L459.9,1208.5 L461.9,1209.6 L463.9,1210.7 L465.9,1211.9 L467.9,1213.0 L469.9,1214.1 L471.9,1215.2 L473.9,1216.3 L475.9,1217.4 L477.9,1218.5 L479.9,1219.6 L481.9,1220.7 L483.9,1221.8 L485.9,1223.0 L487.9,1224.1 L489.9,1225.2 L491.9,1226.3 L493.9,1227.5 L495.9,1228.6 L497.9,1229.8 L499.9,1230.9 L501.9,1232.1 L503.9,1233.2 L505.9,1234.4 L507.9,1235.6 L509.9,1236.8 L511.9,1238.0 L513.9,1239.2 L515.9,1240.4 L517.9,1241.6 L519.9,1242.8 L521.9,1244.1 L523.9,1245.3 L525.9,1246.6 L527.9,1247.9 L529.9,1249.1 L531.9,1250.4 L533.9,1251.7 L535.9,1253.0 L537.9,1254.4 L539.9,1255.7 L541.9,1257.0 L543.9,1258.4 L545.9,1259.7 L547.9,1261.1 L549.9,1262.4 L551.9,1263.8 L553.9,1265.2 L555.9,1266.5 L557.9,1267.9 L559.9,1269.3 L561.9,1270.7 L563.9,1272.1 L565.9,1273.5 L567.9,1274.9 L569.9,1276.3 L572.0,1277.7 L574.0,1279.1 L576.0,1280.5 L578.0,1282.0 L580.0,1283.4 L582.0,1284.8 L584.0,1286.2 L586.0,1287.6 L588.0,1289.0 L590.0,1290.5 L592.0,1291.9 L594.0,1293.3 L596.0,1294.7 L598.0,1296.1 L600.0,1297.5 L602.0,1298.9 L604.0,1300.3 L606.0,1301.7 L608.0,1303.2 L610.0,1304.6 L612.0,1306.0 L614.0,1307.4 L616.0,1308.8 L618.0,1310.2 L620.0,1311.6 L622.0,1313.0 L624.0,1314.3 L626.0,1315.7 L628.0,1317.1 L630.0,1318.5 L632.0,1319.9 L634.0,1321.3 L636.0,1322.6 L638.0,1324.0 L640.0,1325.4 L642.0,1326.8 L644.0,1328.1 L646.0,1329.5 L648.0,1330.8 L650.0,1332.2 L652.0,1333.6 L654.0,1334.9 L656.0,1336.3 L658.0,1337.6 L660.0,1338.9 L662.0,1340.3 L664.0,1341.6 L666.0,1342.9 L668.0,1344.2 L670.0,1345.6 L672.0,1346.9 L674.0,1348.2 L676.0,1349.5 L678.0,1350.8 L680.0,1352.1 L682.0,1353.4 L684.0,1354.7 L686.0,1356.0 L688.0,1357.2 L690.0,1358.5 L692.0,1359.8 L694.0,1361.0 L696.0,1362.3 L698.0,1363.5 L700.0,1364.8 L702.0,1366.0 L704.0,1367.3 L706.0,1368.5 L708.0,1369.7 L710.0,1370.9 L712.0,1372.1 L714.0,1373.4 L716.0,1374.6 L718.0,1375.7 L720.0,1376.9 L722.0,1378.1 L724.0,1379.3 L726.0,1380.5 L728.0,1381.6 L730.0,1382.8 L732.0,1383.9 L734.0,1385.1 L736.0,1386.2 L738.0,1387.3 L740.0,1388.5 L742.0,1389.6 L744.0,1390.7 L746.0,1391.8 L748.0,1392.9 L750.0,1394.0 L752.0,1395.1 L754.0,1396.2 L756.0,1397.2 L758.0,1398.3 L760.0,1399.4 L762.0,1400.4 L764.0,1401.5 L766.0,1402.5 L768.0,1403.6 L770.0,1404.6 L772.0,1405.6 L774.0,1406.6 L776.0,1407.6 L778.0,1408.6 L780.0,1409.6 L782.0,1410.6 L784.0,1411.6 L786.0,1412.6 L788.0,1413.5 L790.0,1414.5 L792.0,1415.4 L794.0,1416.4 L796.0,1417.3 L798.0,1418.3 L800.0,1419.2 L802.0,1420.1 L804.0,1421.0 L806.0,1421.9 L808.0,1422.8 L810.0,1423.7 L812.0,1424.6 L814.0,1425.5 L816.0,1426.3 L818.0,1427.2 L820.0,1428.0 L822.0,1428.9 L824.0,1429.7 L826.0,1430.5 L828.0,1431.4 L830.0,1432.2 L832.0,1433.0 L834.0,1433.8 L836.0,1434.6 L838.0,1435.4 L840.0,1436.1 L842.0,1436.9 L844.0,1437.7 L846.0,1438.4 L848.0,1439.2 L850.0,1439.9 L852.0,1440.7 L854.0,1441.4 L856.0,1442.1 L858.0,1442.8 L860.0,1443.5 L862.0,1444.2 L864.0,1444.9 L866.0,1445.6 L868.0,1446.2 L870.0,1446.9 L872.0,1447.5 L874.0,1448.2 L876.0,1448.8 L878.0,1449.5 L880.0,1450.1 L882.0,1450.7 L884.0,1451.3 L886.0,1451.9 L888.0,1452.5 L890.0,1453.1 L892.0,1453.7 L894.0,1454.3 L896.0,1454.9 L898.0,1455.5 L900.0,1456.0 L902.0,1456.6 L904.0,1457.2 L906.0,1457.7 L908.0,1458.3 L910.0,1458.8 L912.0,1459.4 L914.0,1459.9 L916.0,1460.4 L918.0,1461.0 L920.0,1461.5 L922.0,1462.0 L924.0,1462.5 L926.0,1463.1 L928.0,1463.6 L930.0,1464.1 L932.0,1464.6 L934.0,1465.1 L936.0,1465.6 L938.0,1466.1 L940.0,1466.6 L942.0,1467.1 L944.0,1467.6 L946.0,1468.1 L948.0,1468.6 L950.0,1469.1 L952.0,1469.6 L954.0,1470.1 L956.0,1470.6 L958.0,1471.1 L960.0,1471.5 L962.0,1472.0 L964.0,1472.5 L966.0,1473.0 L968.0,1473.5 L970.0,1474.0 L972.0,1474.5 L974.0,1475.0 L976.0,1475.4 L978.0,1475.9 L980.0,1476.4 L982.0,1476.9 L984.0,1477.4 L986.0,1477.9 L988.0,1478.4 L990.0,1478.9 L992.0,1479.4 L994.0,1479.9 L996.0,1480.4 L998.0,1480.9 L1000.0,1481.4 L1002.0,1481.9 L1004.0,1482.5 L1006.0,1483.0 L1008.0,1483.5 L1010.0,1484.0 L1012.0,1484.5 L1014.0,1485.1" fill="none" stroke="#a6a6a6" stroke-width="5.3" stroke-linecap="round" stroke-linejoin="round"/>
<path d="M127.8,901.6 L129.8,904.4 L131.8,907.1 L133.8,909.8 L135.8,912.5 L137.8,915.2 L139.8,917.8 L141.8,920.4 L143.8,923.0 L145.8,925.5 L147.8,928.0 L149.8,930.5 L151.8,933.0 L153.8,935.5 L155.8,937.9 L157.8,940.3 L159.8,942.7 L161.8,945.0 L163.8,947.4 L165.8,949.7 L167.8,952.0 L169.8,954.2 L171.8,956.5 L173.8,958.7 L175.8,960.9 L177.8,963.1 L179.8,965.2 L181.8,967.4 L183.8,969.5 L185.8,971.6 L187.8,973.7 L189.8,975.7 L191.8,977.8 L193.8,979.8 L195.8,981.8 L197.8,983.8 L199.8,985.7 L201.8,987.7 L203.8,989.6 L205.8,991.5 L207.8,993.4 L209.8,995.3 L211.8,997.2 L213.8,999.0 L215.8,1000.9 L217.9,1002.7 L219.9,1004.5 L221.9,1006.3 L223.9,1008.1 L225.9,1009.8 L227.9,1011.6 L229.9,1013.3 L231.9,1015.1 L233.9,1016.8 L235.9,1018.5 L237.9,1020.2 L239.9,1021.8 L241.9,1023.5 L243.9,1025.2 L245.9,1026.8 L247.9,1028.4 L249.9,1030.1 L251.9,1031.7 L253.9,1033.3 L255.9,1034.9 L257.9,1036.4 L259.9,1038.0 L261.9,1039.6 L263.9,1041.1 L265.9,1042.6 L267.9,1044.2 L269.9,1045.7 L271.9,1047.2 L273.9,1048.7 L275.9,1050.2 L277.9,1051.7 L279.9,1053.2 L281.9,1054.6 L283.9,1056.1 L285.9,1057.5 L287.9,1059.0 L289.9,1060.4 L291.9,1061.9 L293.9,1063.3 L295.9,1064.7 L297.9,1066.1 L299.9,1067.5 L301.9,1068.9 L303.9,1070.3 L305.9,1071.6 L307.9,1073.0 L309.9,1074.4 L311.9,1075.7 L313.9,1077.1 L315.9,1078.4 L317.9,1079.8 L319.9,1081.1 L321.9,1082.4 L323.9,1083.7 L325.9,1085.0 L327.9,1086.3 L329.9,1087.6 L331.9,1088.9 L333.9,1090.2 L335.9,1091.5 L337.9,1092.8 L339.9,1094.0 L341.9,1095.3 L343.9,1096.6 L345.9,1097.8 L347.9,1099.1 L349.9,1100.3 L351.9,1101.6 L353.9,1102.8 L355.9,1104.0 L357.9,1105.2 L359.9,1106.5 L361.9,1107.7 L363.9,1108.9 L365.9,1110.1 L367.9,1111.3 L369.9,1112.5 L371.9,1113.7 L373.9,1114.9 L375.9,1116.1 L377.9,1117.2 L379.9,1118.4 L381.9,1119.6 L383.9,1120.7 L385.9,1121.9 L387.9,1123.1 L389.9,1124.2 L391.9,1125.4 L394.0,1126.5 L396.0,1127.6 L398.0,1128.8 L400.0,1129.9 L402.0,1131.0 L404.0,1132.2 L406.0,1133.3 L408.0,1134.4 L410.0,1135.5 L412.0,1136.6 L414.0,1137.7 L416.0,1138.8 L418.0,1139.9 L420.0,1141.0 L422.0,1142.1 L424.0,1143.2 L426.0,1144.3 L428.0,1145.3 L430.0,1146.4 L432.0,1147.5 L434.0,1148.5 L436.0,1149.6 L438.0,1150.7 L440.0,1151.7 L442.0,1152.8 L444.0,1153.8 L446.0,1154.9 L448.0,1155.9 L450.0,1157.0 L452.0,1158.0 L454.0,1159.0 L456.0,1160.1 L458.0,1161.1 L460.0,1162.1 L462.0,1163.1 L464.0,1164.2 L466.0,1165.2 L468.0,1166.2 L470.0,1167.2 L472.0,1168.2 L474.0,1169.2 L476.0,1170.2 L478.0,1171.2 L480.0,1172.2 L482.0,1173.2 L484.0,1174.2 L486.0,1175.2 L488.0,1176.2 L490.0,1177.2 L492.0,1178.1 L494.0,1179.1 L496.0,1180.1 L498.0,1181.1 L500.0,1182.0 L502.0,1183.0 L504.0,1184.0 L506.0,1184.9 L508.0,1185.9 L510.0,1186.9 L512.0,1187.8 L514.0,1188.8 L516.0,1189.7 L518.0,1190.7 L520.0,1191.7 L522.0,1192.6 L524.0,1193.6 L526.0,1194.5 L528.0,1195.5 L530.0,1196.4 L532.0,1197.4 L534.0,1198.3 L536.0,1199.3 L538.0,1200.2 L540.0,1201.2 L542.0,1202.2 L544.0,1203.1 L546.0,1204.1 L548.0,1205.0 L550.0,1206.0 L552.0,1207.0 L554.0,1207.9 L556.0,1208.9 L558.0,1209.9 L560.0,1210.8 L562.0,1211.8 L564.0,1212.8 L566.0,1213.8 L568.0,1214.8 L570.1,1215.7 L572.1,1216.7 L574.1,1217.7 L576.1,1218.7 L578.1,1219.7 L580.1,1220.7 L582.1,1221.7 L584.1,1222.8 L586.1,1223.8 L588.1,1224.8 L590.1,1225.8 L592.1,1226.8 L594.1,1227.9 L596.1,1228.9 L598.1,1230.0 L600.1,1231.0 L602.1,1232.0 L604.1,1233.1 L606.1,1234.1 L608.1,1235.2 L610.1,1236.2 L612.1,1237.3 L614.1,1238.4 L616.1,1239.4 L618.1,1240.5 L620.1,1241.6 L622.1,1242.6 L624.1,1243.7 L626.1,1244.8 L628.1,1245.8 L630.1,1246.9 L632.1,1248.0 L634.1,1249.0 L636.1,1250.1 L638.1,1251.2 L640.1,1252.3 L642.1,1253.3 L644.1,1254.4 L646.1,1255.5 L648.1,1256.6 L650.1,1257.6 L652.1,1258.7 L654.1,1259.8 L656.1,1260.9 L658.1,1261.9 L660.1,1263.0 L662.1,1264.1 L664.1,1265.1 L666.1,1266.2 L668.1,1267.3 L670.1,1268.3 L672.1,1269.4 L674.1,1270.4 L676.1,1271.5 L678.1,1272.6 L680.1,1273.6 L682.1,1274.7 L684.1,1275.7 L686.1,1276.8 L688.1,1277.8 L690.1,1278.8 L692.1,1279.9 L694.1,1280.9 L696.1,1281.9 L698.1,1283.0 L700.1,1284.0 L702.1,1285.0 L704.1,1286.0 L706.1,1287.1 L708.1,1288.1 L710.1,1289.1 L712.1,1290.1 L714.1,1291.1 L716.1,1292.1 L718.1,1293.1 L720.1,1294.1 L722.1,1295.1 L724.1,1296.1 L726.1,1297.1 L728.1,1298.1 L730.1,1299.1 L732.1,1300.1 L734.1,1301.1 L736.1,1302.0 L738.1,1303.0 L740.1,1304.0 L742.1,1305.0 L744.1,1306.0 L746.2,1306.9 L748.2,1307.9 L750.2,1308.9 L752.2,1309.8 L754.2,1310.8 L756.2,1311.8 L758.2,1312.7 L760.2,1313.7 L762.2,1314.6 L764.2,1315.6 L766.2,1316.6 L768.2,1317.5 L770.2,1318.5 L772.2,1319.4 L774.2,1320.4 L776.2,1321.3 L778.2,1322.2 L780.2,1323.2 L782.2,1324.1 L784.2,1325.1 L786.2,1326.0 L788.2,1326.9 L790.2,1327.9 L792.2,1328.8 L794.2,1329.7 L796.2,1330.7 L798.2,1331.6 L800.2,1332.5 L802.2,1333.4 L804.2,1334.3 L806.2,1335.3 L808.2,1336.2 L810.2,1337.1 L812.2,1338.0 L814.2,1338.9 L816.2,1339.9 L818.2,1340.8 L820.2,1341.7 L822.2,1342.6 L824.2,1343.5 L826.2,1344.4 L828.2,1345.3 L830.2,1346.2 L832.2,1347.1 L834.2,1348.0 L836.2,1348.9 L838.2,1349.8 L840.2,1350.7 L842.2,1351.6 L844.2,1352.5 L846.2,1353.4 L848.2,1354.3 L850.2,1355.2 L852.2,1356.1 L854.2,1357.0 L856.2,1357.9 L858.2,1358.8 L860.2,1359.6 L862.2,1360.5 L864.2,1361.4 L866.2,1362.3 L868.2,1363.2 L870.2,1364.1 L872.2,1364.9 L874.2,1365.8 L876.2,1366.7 L878.2,1367.6 L880.2,1368.4 L882.2,1369.3 L884.2,1370.2 L886.2,1371.0 L888.2,1371.9 L890.2,1372.7 L892.2,1373.6 L894.2,1374.5 L896.2,1375.3 L898.2,1376.2 L900.2,1377.0 L902.2,1377.8 L904.2,1378.7 L906.2,1379.5 L908.2,1380.3 L910.2,1381.2 L912.2,1382.0 L914.2,1382.8 L916.2,1383.6 L918.2,1384.4 L920.2,1385.3 L922.3,1386.1 L924.3,1386.9 L926.3,1387.7 L928.3,1388.5 L930.3,1389.2 L932.3,1390.0 L934.3,1390.8 L936.3,1391.6 L938.3,1392.4 L940.3,1393.1 L942.3,1393.9 L944.3,1394.7 L946.3,1395.4 L948.3,1396.2 L950.3,1396.9 L952.3,1397.6 L954.3,1398.4 L956.3,1399.1 L958.3,1399.8 L960.3,1400.5 L962.3,1401.3 L964.3,1402.0 L966.3,1402.7 L968.3,1403.4 L970.3,1404.1 L972.3,1404.7 L974.3,1405.4 L976.3,1406.1 L978.3,1406.8 L980.3,1407.4 L982.3,1408.1 L984.3,1408.7 L986.3,1409.4 L988.3,1410.0 L990.3,1410.6 L992.3,1411.3 L994.3,1411.9 L996.3,1412.5 L998.3,1413.1 L1000.3,1413.7 L1002.3,1414.3 L1004.3,1414.9 L1006.3,1415.4 L1008.3,1416.0 L1010.3,1416.6" fill="none" stroke="#a6a6a6" stroke-width="5.3" stroke-linecap="round" stroke-linejoin="round" stroke-dasharray="9.1 13.5" stroke-dashoffset="12.91"/>
<path d="M128.5,1089.4 L130.5,1091.3 L132.5,1093.1 L134.5,1094.9 L136.5,1096.7 L138.5,1098.5 L140.5,1100.3 L142.5,1102.0 L144.5,1103.8 L146.5,1105.5 L148.5,1107.2 L150.5,1109.0 L152.5,1110.7 L154.5,1112.4 L156.5,1114.1 L158.6,1115.7 L160.6,1117.4 L162.6,1119.1 L164.6,1120.7 L166.6,1122.3 L168.6,1124.0 L170.6,1125.6 L172.6,1127.2 L174.6,1128.8 L176.6,1130.4 L178.6,1132.0 L180.6,1133.6 L182.6,1135.1 L184.6,1136.7 L186.6,1138.2 L188.6,1139.8 L190.6,1141.3 L192.6,1142.9 L194.6,1144.4 L196.6,1145.9 L198.6,1147.4 L200.6,1148.9 L202.6,1150.4 L204.6,1151.9 L206.6,1153.4 L208.6,1154.9 L210.6,1156.4 L212.6,1157.8 L214.6,1159.3 L216.6,1160.8 L218.7,1162.2 L220.7,1163.7 L222.7,1165.1 L224.7,1166.6 L226.7,1168.0 L228.7,1169.4 L230.7,1170.9 L232.7,1172.3 L234.7,1173.7 L236.7,1175.2 L238.7,1176.6 L240.7,1178.0 L242.7,1179.4 L244.7,1180.8 L246.7,1182.2 L248.7,1183.7 L250.7,1185.1 L252.7,1186.5 L254.7,1187.9 L256.7,1189.3 L258.7,1190.7 L260.7,1192.1 L262.7,1193.5 L264.7,1194.9 L266.7,1196.3 L268.7,1197.7 L270.7,1199.1 L272.7,1200.4 L274.7,1201.8 L276.8,1203.2 L278.8,1204.6 L280.8,1206.0 L282.8,1207.4 L284.8,1208.8 L286.8,1210.2 L288.8,1211.6 L290.8,1213.0 L292.8,1214.4 L294.8,1215.8 L296.8,1217.2 L298.8,1218.6 L300.8,1220.0 L302.8,1221.4 L304.8,1222.8 L306.8,1224.2 L308.8,1225.6 L310.8,1227.0 L312.8,1228.4 L314.8,1229.9 L316.8,1231.3 L318.8,1232.7 L320.8,1234.1 L322.8,1235.5 L324.8,1237.0 L326.8,1238.4 L328.8,1239.8 L330.8,1241.2 L332.8,1242.6 L334.8,1244.1 L336.9,1245.5 L338.9,1246.9 L340.9,1248.3 L342.9,1249.8 L344.9,1251.2 L346.9,1252.6 L348.9,1254.1 L350.9,1255.5 L352.9,1256.9 L354.9,1258.3 L356.9,1259.8 L358.9,1261.2 L360.9,1262.6 L362.9,1264.1 L364.9,1265.5 L366.9,1266.9 L368.9,1268.3 L370.9,1269.8 L372.9,1271.2 L374.9,1272.6 L376.9,1274.0 L378.9,1275.5 L380.9,1276.9 L382.9,1278.3 L384.9,1279.7 L386.9,1281.1 L388.9,1282.6 L390.9,1284.0 L392.9,1285.4 L395.0,1286.8 L397.0,1288.2 L399.0,1289.6 L401.0,1291.0 L403.0,1292.4 L405.0,1293.8 L407.0,1295.2 L409.0,1296.7 L411.0,1298.0 L413.0,1299.4 L415.0,1300.8 L417.0,1302.2 L419.0,1303.6 L421.0,1305.0 L423.0,1306.4 L425.0,1307.8 L427.0,1309.2 L429.0,1310.5 L431.0,1311.9 L433.0,1313.3 L435.0,1314.7 L437.0,1316.0 L439.0,1317.4 L441.0,1318.7 L443.0,1320.1 L445.0,1321.5 L447.0,1322.8 L449.0,1324.2 L451.0,1325.5 L453.0,1326.8 L455.1,1328.2 L457.1,1329.5 L459.1,1330.8 L461.1,1332.2 L463.1,1333.5 L465.1,1334.8 L467.1,1336.1 L469.1,1337.4 L471.1,1338.7 L473.1,1340.0 L475.1,1341.3 L477.1,1342.6 L479.1,1343.9 L481.1,1345.2 L483.1,1346.5 L485.1,1347.7 L487.1,1349.0 L489.1,1350.3 L491.1,1351.5 L493.1,1352.8 L495.1,1354.0 L497.1,1355.3 L499.1,1356.5 L501.1,1357.8 L503.1,1359.0 L505.1,1360.2 L507.1,1361.4 L509.1,1362.6 L511.1,1363.9 L513.2,1365.1 L515.2,1366.3 L517.2,1367.5 L519.2,1368.6 L521.2,1369.8 L523.2,1371.0 L525.2,1372.2 L527.2,1373.4 L529.2,1374.5 L531.2,1375.7 L533.2,1376.8 L535.2,1378.0 L537.2,1379.1 L539.2,1380.3 L541.2,1381.4 L543.2,1382.5 L545.2,1383.7 L547.2,1384.8 L549.2,1385.9 L551.2,1387.0 L553.2,1388.1 L555.2,1389.2 L557.2,1390.3 L559.2,1391.4 L561.2,1392.5 L563.2,1393.5 L565.2,1394.6 L567.2,1395.7 L569.2,1396.8 L571.2,1397.8 L573.3,1398.9 L575.3,1399.9 L577.3,1401.0 L579.3,1402.0 L581.3,1403.0 L583.3,1404.1 L585.3,1405.1 L587.3,1406.1 L589.3,1407.1 L591.3,1408.1 L593.3,1409.1 L595.3,1410.1 L597.3,1411.1 L599.3,1412.1 L601.3,1413.1 L603.3,1414.1 L605.3,1415.0 L607.3,1416.0 L609.3,1417.0 L611.3,1417.9 L613.3,1418.9 L615.3,1419.8 L617.3,1420.8 L619.3,1421.7 L621.3,1422.6 L623.3,1423.5 L625.3,1424.5 L627.3,1425.4 L629.3,1426.3 L631.4,1427.2 L633.4,1428.1 L635.4,1429.0 L637.4,1429.9 L639.4,1430.8 L641.4,1431.6 L643.4,1432.5 L645.4,1433.4 L647.4,1434.2 L649.4,1435.1 L651.4,1436.0 L653.4,1436.8 L655.4,1437.6 L657.4,1438.5 L659.4,1439.3 L661.4,1440.1 L663.4,1441.0 L665.4,1441.8 L667.4,1442.6 L669.4,1443.4 L671.4,1444.2 L673.4,1445.0 L675.4,1445.8 L677.4,1446.5 L679.4,1447.3 L681.4,1448.1 L683.4,1448.9 L685.4,1449.6 L687.4,1450.4 L689.5,1451.1 L691.5,1451.9 L693.5,1452.6 L695.5,1453.3 L697.5,1454.1 L699.5,1454.8 L701.5,1455.5 L703.5,1456.2 L705.5,1456.9 L707.5,1457.6 L709.5,1458.3 L711.5,1459.0 L713.5,1459.7 L715.5,1460.4 L717.5,1461.1 L719.5,1461.7 L721.5,1462.4 L723.5,1463.1 L725.5,1463.7 L727.5,1464.4 L729.5,1465.0 L731.5,1465.7 L733.5,1466.3 L735.5,1466.9 L737.5,1467.5 L739.5,1468.2 L741.5,1468.8 L743.5,1469.4 L745.5,1470.0 L747.5,1470.6 L749.6,1471.1 L751.6,1471.7 L753.6,1472.3 L755.6,1472.9 L757.6,1473.4 L759.6,1474.0 L761.6,1474.6 L763.6,1475.1 L765.6,1475.7 L767.6,1476.2 L769.6,1476.7 L771.6,1477.3 L773.6,1477.8 L775.6,1478.3 L777.6,1478.8 L779.6,1479.3 L781.6,1479.8 L783.6,1480.3 L785.6,1480.8 L787.6,1481.3 L789.6,1481.8 L791.6,1482.2 L793.6,1482.7 L795.6,1483.2 L797.6,1483.6 L799.6,1484.1 L801.6,1484.5 L803.6,1485.0 L805.6,1485.4 L807.7,1485.8 L809.7,1486.2 L811.7,1486.7 L813.7,1487.1 L815.7,1487.5 L817.7,1487.9 L819.7,1488.3 L821.7,1488.7 L823.7,1489.0 L825.7,1489.4 L827.7,1489.8 L829.7,1490.1 L831.7,1490.5 L833.7,1490.9 L835.7,1491.2 L837.7,1491.6 L839.7,1491.9 L841.7,1492.2 L843.7,1492.6 L845.7,1492.9 L847.7,1493.2 L849.7,1493.5 L851.7,1493.8 L853.7,1494.1 L855.7,1494.4 L857.7,1494.7 L859.7,1495.0 L861.7,1495.2 L863.7,1495.5 L865.7,1495.8 L867.8,1496.0 L869.8,1496.3 L871.8,1496.5 L873.8,1496.8 L875.8,1497.0 L877.8,1497.2 L879.8,1497.4 L881.8,1497.7 L883.8,1497.9 L885.8,1498.1 L887.8,1498.3 L889.8,1498.5 L891.8,1498.7 L893.8,1498.8 L895.8,1499.0 L897.8,1499.2 L899.8,1499.4 L901.8,1499.5 L903.8,1499.7 L905.8,1499.8 L907.8,1500.0 L909.8,1500.1 L911.8,1500.2 L913.8,1500.4 L915.8,1500.5 L917.8,1500.6 L919.8,1500.7 L921.8,1500.8 L923.8,1500.9 L925.9,1501.0 L927.9,1501.1 L929.9,1501.1 L931.9,1501.2 L933.9,1501.3 L935.9,1501.3 L937.9,1501.4 L939.9,1501.4 L941.9,1501.5 L943.9,1501.5 L945.9,1501.5 L947.9,1501.6 L949.9,1501.6 L951.9,1501.6 L953.9,1501.6 L955.9,1501.6 L957.9,1501.6 L959.9,1501.6 L961.9,1501.6 L963.9,1501.6 L965.9,1501.5 L967.9,1501.5 L969.9,1501.4 L971.9,1501.4 L973.9,1501.3 L975.9,1501.3 L977.9,1501.2 L979.9,1501.2 L981.9,1501.1 L983.9,1501.0 L986.0,1500.9 L988.0,1500.8 L990.0,1500.7 L992.0,1500.6 L994.0,1500.5 L996.0,1500.4 L998.0,1500.2 L1000.0,1500.1 L1002.0,1500.0 L1004.0,1499.8 L1006.0,1499.7 L1008.0,1499.5 L1010.0,1499.4 L1012.0,1499.2 L1014.0,1499.0" fill="none" stroke="#a6a6a6" stroke-width="5.3" stroke-linecap="round" stroke-linejoin="round" stroke-dasharray="14.1 23.65 0 23.65" stroke-dashoffset="1.26"/>
<path d="M128.3,1017.5 L130.3,1019.8 L132.3,1022.0 L134.3,1024.2 L136.3,1026.5 L138.3,1028.7 L140.3,1030.8 L142.3,1033.0 L144.3,1035.2 L146.3,1037.3 L148.3,1039.5 L150.3,1041.6 L152.3,1043.7 L154.4,1045.8 L156.4,1047.9 L158.4,1050.0 L160.4,1052.0 L162.4,1054.1 L164.4,1056.1 L166.4,1058.2 L168.4,1060.2 L170.4,1062.2 L172.4,1064.2 L174.4,1066.2 L176.4,1068.2 L178.4,1070.1 L180.4,1072.1 L182.4,1074.0 L184.4,1076.0 L186.4,1077.9 L188.4,1079.8 L190.4,1081.8 L192.4,1083.7 L194.4,1085.6 L196.4,1087.4 L198.4,1089.3 L200.4,1091.2 L202.4,1093.1 L204.4,1094.9 L206.5,1096.8 L208.5,1098.6 L210.5,1100.4 L212.5,1102.3 L214.5,1104.1 L216.5,1105.9 L218.5,1107.7 L220.5,1109.5 L222.5,1111.3 L224.5,1113.1 L226.5,1114.8 L228.5,1116.6 L230.5,1118.4 L232.5,1120.1 L234.5,1121.9 L236.5,1123.6 L238.5,1125.4 L240.5,1127.1 L242.5,1128.8 L244.5,1130.6 L246.5,1132.3 L248.5,1134.0 L250.5,1135.7 L252.5,1137.4 L254.5,1139.1 L256.5,1140.8 L258.6,1142.5 L260.6,1144.2 L262.6,1145.9 L264.6,1147.6 L266.6,1149.3 L268.6,1150.9 L270.6,1152.6 L272.6,1154.3 L274.6,1156.0 L276.6,1157.6 L278.6,1159.3 L280.6,1161.0 L282.6,1162.6 L284.6,1164.3 L286.6,1165.9 L288.6,1167.6 L290.6,1169.3 L292.6,1170.9 L294.6,1172.6 L296.6,1174.2 L298.6,1175.9 L300.6,1177.5 L302.6,1179.2 L304.6,1180.8 L306.6,1182.4 L308.6,1184.1 L310.6,1185.7 L312.7,1187.4 L314.7,1189.0 L316.7,1190.6 L318.7,1192.3 L320.7,1193.9 L322.7,1195.5 L324.7,1197.2 L326.7,1198.8 L328.7,1200.4 L330.7,1202.1 L332.7,1203.7 L334.7,1205.3 L336.7,1206.9 L338.7,1208.5 L340.7,1210.2 L342.7,1211.8 L344.7,1213.4 L346.7,1215.0 L348.7,1216.6 L350.7,1218.2 L352.7,1219.8 L354.7,1221.5 L356.7,1223.1 L358.7,1224.7 L360.7,1226.3 L362.8,1227.9 L364.8,1229.5 L366.8,1231.1 L368.8,1232.7 L370.8,1234.3 L372.8,1235.9 L374.8,1237.5 L376.8,1239.1 L378.8,1240.7 L380.8,1242.2 L382.8,1243.8 L384.8,1245.4 L386.8,1247.0 L388.8,1248.6 L390.8,1250.2 L392.8,1251.7 L394.8,1253.3 L396.8,1254.9 L398.8,1256.5 L400.8,1258.1 L402.8,1259.6 L404.8,1261.2 L406.8,1262.8 L408.8,1264.3 L410.8,1265.9 L412.8,1267.5 L414.9,1269.0 L416.9,1270.6 L418.9,1272.2 L420.9,1273.7 L422.9,1275.3 L424.9,1276.8 L426.9,1278.4 L428.9,1279.9 L430.9,1281.5 L432.9,1283.0 L434.9,1284.6 L436.9,1286.1 L438.9,1287.7 L440.9,1289.2 L442.9,1290.8 L444.9,1292.3 L446.9,1293.8 L448.9,1295.4 L450.9,1296.9 L452.9,1298.4 L454.9,1300.0 L456.9,1301.5 L458.9,1303.0 L460.9,1304.6 L462.9,1306.1 L464.9,1307.6 L466.9,1309.1 L469.0,1310.6 L471.0,1312.2 L473.0,1313.7 L475.0,1315.2 L477.0,1316.7 L479.0,1318.2 L481.0,1319.7 L483.0,1321.2 L485.0,1322.7 L487.0,1324.2 L489.0,1325.7 L491.0,1327.2 L493.0,1328.7 L495.0,1330.2 L497.0,1331.7 L499.0,1333.2 L501.0,1334.7 L503.0,1336.1 L505.0,1337.6 L507.0,1339.1 L509.0,1340.5 L511.0,1342.0 L513.0,1343.5 L515.0,1344.9 L517.0,1346.4 L519.0,1347.8 L521.1,1349.3 L523.1,1350.7 L525.1,1352.2 L527.1,1353.6 L529.1,1355.0 L531.1,1356.4 L533.1,1357.9 L535.1,1359.3 L537.1,1360.7 L539.1,1362.1 L541.1,1363.5 L543.1,1364.9 L545.1,1366.3 L547.1,1367.7 L549.1,1369.1 L551.1,1370.4 L553.1,1371.8 L555.1,1373.2 L557.1,1374.5 L559.1,1375.9 L561.1,1377.2 L563.1,1378.6 L565.1,1379.9 L567.1,1381.3 L569.1,1382.6 L571.2,1383.9 L573.2,1385.2 L575.2,1386.5 L577.2,1387.8 L579.2,1389.1 L581.2,1390.4 L583.2,1391.7 L585.2,1393.0 L587.2,1394.2 L589.2,1395.5 L591.2,1396.8 L593.2,1398.0 L595.2,1399.3 L597.2,1400.5 L599.2,1401.7 L601.2,1402.9 L603.2,1404.2 L605.2,1405.4 L607.2,1406.6 L609.2,1407.8 L611.2,1408.9 L613.2,1410.1 L615.2,1411.3 L617.2,1412.4 L619.2,1413.6 L621.2,1414.7 L623.2,1415.9 L625.3,1417.0 L627.3,1418.1 L629.3,1419.2 L631.3,1420.3 L633.3,1421.4 L635.3,1422.5 L637.3,1423.6 L639.3,1424.6 L641.3,1425.7 L643.3,1426.8 L645.3,1427.8 L647.3,1428.8 L649.3,1429.8 L651.3,1430.9 L653.3,1431.9 L655.3,1432.8 L657.3,1433.8 L659.3,1434.8 L661.3,1435.8 L663.3,1436.7 L665.3,1437.7 L667.3,1438.6 L669.3,1439.5 L671.3,1440.5 L673.3,1441.4 L675.3,1442.3 L677.4,1443.2 L679.4,1444.0 L681.4,1444.9 L683.4,1445.8 L685.4,1446.6 L687.4,1447.5 L689.4,1448.3 L691.4,1449.1 L693.4,1450.0 L695.4,1450.8 L697.4,1451.6 L699.4,1452.4 L701.4,1453.2 L703.4,1454.0 L705.4,1454.7 L707.4,1455.5 L709.4,1456.2 L711.4,1457.0 L713.4,1457.7 L715.4,1458.5 L717.4,1459.2 L719.4,1459.9 L721.4,1460.6 L723.4,1461.3 L725.4,1462.0 L727.5,1462.7 L729.5,1463.3 L731.5,1464.0 L733.5,1464.7 L735.5,1465.3 L737.5,1466.0 L739.5,1466.6 L741.5,1467.2 L743.5,1467.8 L745.5,1468.5 L747.5,1469.1 L749.5,1469.7 L751.5,1470.2 L753.5,1470.8 L755.5,1471.4 L757.5,1472.0 L759.5,1472.5 L761.5,1473.1 L763.5,1473.6 L765.5,1474.2 L767.5,1474.7 L769.5,1475.2 L771.5,1475.8 L773.5,1476.3 L775.5,1476.8 L777.5,1477.3 L779.5,1477.8 L781.6,1478.3 L783.6,1478.7 L785.6,1479.2 L787.6,1479.7 L789.6,1480.1 L791.6,1480.6 L793.6,1481.0 L795.6,1481.5 L797.6,1481.9 L799.6,1482.4 L801.6,1482.8 L803.6,1483.2 L805.6,1483.6 L807.6,1484.0 L809.6,1484.4 L811.6,1484.8 L813.6,1485.2 L815.6,1485.6 L817.6,1485.9 L819.6,1486.3 L821.6,1486.7 L823.6,1487.0 L825.6,1487.4 L827.6,1487.7 L829.6,1488.1 L831.7,1488.4 L833.7,1488.7 L835.7,1489.1 L837.7,1489.4 L839.7,1489.7 L841.7,1490.0 L843.7,1490.3 L845.7,1490.6 L847.7,1490.9 L849.7,1491.2 L851.7,1491.5 L853.7,1491.7 L855.7,1492.0 L857.7,1492.3 L859.7,1492.5 L861.7,1492.8 L863.7,1493.0 L865.7,1493.3 L867.7,1493.5 L869.7,1493.8 L871.7,1494.0 L873.7,1494.2 L875.7,1494.5 L877.7,1494.7 L879.7,1494.9 L881.7,1495.1 L883.8,1495.3 L885.8,1495.5 L887.8,1495.7 L889.8,1495.9 L891.8,1496.1 L893.8,1496.3 L895.8,1496.5 L897.8,1496.6 L899.8,1496.8 L901.8,1497.0 L903.8,1497.1 L905.8,1497.3 L907.8,1497.5 L909.8,1497.6 L911.8,1497.8 L913.8,1497.9 L915.8,1498.1 L917.8,1498.2 L919.8,1498.3 L921.8,1498.5 L923.8,1498.6 L925.8,1498.7 L927.8,1498.8 L929.8,1498.9 L931.8,1499.1 L933.8,1499.2 L935.8,1499.3 L937.9,1499.4 L939.9,1499.5 L941.9,1499.6 L943.9,1499.7 L945.9,1499.8 L947.9,1499.9 L949.9,1500.0 L951.9,1500.0 L953.9,1500.1 L955.9,1500.2 L957.9,1500.3 L959.9,1500.3 L961.9,1500.4 L963.9,1500.5 L965.9,1500.5 L967.9,1500.6 L969.9,1500.7 L971.9,1500.7 L973.9,1500.8 L975.9,1500.8 L977.9,1500.9 L979.9,1500.9 L981.9,1501.0 L983.9,1501.0 L985.9,1501.1 L988.0,1501.1 L990.0,1501.1 L992.0,1501.2 L994.0,1501.2 L996.0,1501.2 L998.0,1501.3 L1000.0,1501.3 L1002.0,1501.3 L1004.0,1501.4 L1006.0,1501.4 L1008.0,1501.4 L1010.0,1501.4 L1012.0,1501.4 L1014.0,1501.4" fill="none" stroke="#b2b2b2" stroke-width="5.3" stroke-linecap="round" stroke-linejoin="round" stroke-dasharray="0 11.35" stroke-dashoffset="5.13"/>
</g>
<text x="155.0" y="238.0" font-size="27" text-anchor="start" font-weight="bold" font-family='"Liberation Sans", Arial, sans-serif'>2</text>
<text x="178.0" y="597.5" font-size="27" text-anchor="start" font-weight="bold" font-family='"Liberation Sans", Arial, sans-serif'>1</text>
<text x="172.5" y="1173.8" font-size="29" text-anchor="start" font-weight="bold" font-family='"Liberation Sans", Arial, sans-serif'>2</text>
<text x="168.0" y="1454.9" font-size="29" text-anchor="start" font-weight="bold" font-family='"Liberation Sans", Arial, sans-serif'>1</text>
<text x="234.0" y="61.0" font-size="31.8" text-anchor="start" font-weight="bold" font-family='"Liberation Sans", Arial, sans-serif' textLength="258" lengthAdjust="spacingAndGlyphs" stroke="#000" stroke-width="0.6">Constant hMGS</text>
<text x="197.5" y="858.0" font-size="36" text-anchor="start" font-weight="bold" font-family='"Liberation Sans", Arial, sans-serif' textLength="354.5" lengthAdjust="spacingAndGlyphs" stroke="#000" stroke-width="0.6">Constant&#160; total lipid</text>
<text x="379.5" y="743.1" font-size="33.5" text-anchor="start" font-weight="bold" font-family='"Liberation Sans", Arial, sans-serif' textLength="275.5" lengthAdjust="spacingAndGlyphs">Surface area, cm</text>
<text x="655.0" y="732.8" font-size="22" text-anchor="start" font-weight="bold" font-family='"Liberation Sans", Arial, sans-serif'>2</text>
<text x="452.8" y="1613.7" font-size="38" text-anchor="start" font-weight="bold" font-family='"Liberation Sans", Arial, sans-serif' textLength="298.5" lengthAdjust="spacingAndGlyphs">Surface area, cm</text>
<text x="750.5" y="1602.7" font-size="24.4" text-anchor="start" font-weight="bold" font-family='"Liberation Sans", Arial, sans-serif'>2</text>
<text transform="translate(43,406.5) rotate(-90)" font-size="51" stroke="#000" stroke-width="1.6" font-family='"Liberation Serif", serif'>π</text>
<text transform="translate(42.3,379) rotate(-90)" font-size="34" font-weight="bold" font-family='"Liberation Sans", Arial, sans-serif'>,</text>
<text transform="translate(42.3,360.5) rotate(-90)" font-size="34" font-weight="bold" font-family='"Liberation Sans", Arial, sans-serif' textLength="95" lengthAdjust="spacingAndGlyphs">mN/m</text>
<text transform="translate(46.5,1228) rotate(-90) scale(1.13,1)" font-size="51" stroke="#000" stroke-width="1.5" font-family='"Liberation Serif", serif'>π</text>
<text transform="translate(46.5,1198) rotate(-90)" font-size="34" font-weight="bold" font-family='"Liberation Sans", Arial, sans-serif'>,</text>
<text transform="translate(46.5,1182) rotate(-90)" font-size="34" font-weight="bold" font-family='"Liberation Sans", Arial, sans-serif' textLength="100" lengthAdjust="spacingAndGlyphs">mN/m</text>
<path d="M615.4,33.0 L686.6,33.0" fill="none" stroke="#000" stroke-width="4.8" stroke-linecap="round" stroke-linejoin="round" stroke-dasharray="34.2 22.9"/>
<text x="694.5" y="41.6" font-size="25.8" text-anchor="start" font-weight="bold" font-family='"Liberation Sans", Arial, sans-serif' textLength="204.0" lengthAdjust="spacingAndGlyphs" stroke="#000" stroke-width="0.35">Squalene (50 µg)</text>
<path d="M615.4,73.8 L686.6,73.8" fill="none" stroke="#d9d9d9" stroke-width="4.8" stroke-linecap="round" stroke-linejoin="round" stroke-dasharray="32.2 22.1 0 22.1 0 22.1"/>
<text x="694.5" y="82.4" font-size="25.8" text-anchor="start" font-weight="bold" font-family='"Liberation Sans", Arial, sans-serif' textLength="220.0" lengthAdjust="spacingAndGlyphs" stroke="#000" stroke-width="0.35">Squalene (300 µg)</text>
<path d="M615.4,114.6 L686.6,114.6" fill="none" stroke="#000" stroke-width="4.8" stroke-linecap="round" stroke-linejoin="round"/>
<text x="694.5" y="123.2" font-size="25.8" text-anchor="start" font-weight="bold" font-family='"Liberation Sans", Arial, sans-serif' textLength="165.0" lengthAdjust="spacingAndGlyphs" stroke="#000" stroke-width="0.35">hMGS (30 µg)</text>
<path d="M615.4,155.3 L686.6,155.3" fill="none" stroke="#000" stroke-width="4.8" stroke-linecap="round" stroke-linejoin="round" stroke-dasharray="8.2 12.7"/>
<text x="694.5" y="163.9" font-size="25.8" text-anchor="start" font-weight="bold" font-family='"Liberation Sans", Arial, sans-serif' textLength="257.6" lengthAdjust="spacingAndGlyphs" stroke="#000" stroke-width="0.35">hMGS (30 µg) +1%SQ</text>
<path d="M615.4,196.1 L686.6,196.1" fill="none" stroke="#000" stroke-width="4.8" stroke-linecap="round" stroke-linejoin="round" stroke-dasharray="0 10.45"/>
<text x="694.5" y="204.7" font-size="25.8" text-anchor="start" font-weight="bold" font-family='"Liberation Sans", Arial, sans-serif' textLength="263.0" lengthAdjust="spacingAndGlyphs" stroke="#000" stroke-width="0.35">hMGS (30 µg) + 5%SQ</text>
<path d="M615.4,236.9 L686.6,236.9" fill="none" stroke="#a6a6a6" stroke-width="4.8" stroke-linecap="round" stroke-linejoin="round"/>
<text x="694.5" y="245.5" font-size="25.8" text-anchor="start" font-weight="bold" font-family='"Liberation Sans", Arial, sans-serif' textLength="263.0" lengthAdjust="spacingAndGlyphs" stroke="#000" stroke-width="0.35">hMGS (30 µg) + 7%SQ</text>
<path d="M615.4,277.7 L686.6,277.7" fill="none" stroke="#a6a6a6" stroke-width="4.8" stroke-linecap="round" stroke-linejoin="round" stroke-dasharray="7.7 12.9"/>
<text x="694.5" y="286.3" font-size="25.8" text-anchor="start" font-weight="bold" font-family='"Liberation Sans", Arial, sans-serif' textLength="278.0" lengthAdjust="spacingAndGlyphs" stroke="#000" stroke-width="0.35">hMGS (30 µg) + 10%SQ</text>
<path d="M615.4,318.5 L686.6,318.5" fill="none" stroke="#b2b2b2" stroke-width="4.8" stroke-linecap="round" stroke-linejoin="round" stroke-dasharray="0 10.4"/>
<text x="694.5" y="327.1" font-size="25.8" text-anchor="start" font-weight="bold" font-family='"Liberation Sans", Arial, sans-serif' textLength="278.0" lengthAdjust="spacingAndGlyphs" stroke="#000" stroke-width="0.35">hMGS (30 µg) + 30%SQ</text>
<path d="M615.4,359.2 L686.6,359.2" fill="none" stroke="#9bbb59" stroke-width="4.8" stroke-linecap="round" stroke-linejoin="round" stroke-dasharray="13.2 22 0 22"/>
<text x="694.5" y="367.8" font-size="25.8" text-anchor="start" font-weight="bold" font-family='"Liberation Sans", Arial, sans-serif' textLength="278.0" lengthAdjust="spacingAndGlyphs" stroke="#000" stroke-width="0.35">hMGS (30 µg) + 50%SQ</text>
<path d="M637.9,827.8 L714.5,827.8" fill="none" stroke="#000" stroke-width="5.3" stroke-linecap="round" stroke-linejoin="round" stroke-dasharray="36.7 25"/>
<text x="726.5" y="838.0" font-size="28.5" text-anchor="start" font-weight="bold" font-family='"Liberation Sans", Arial, sans-serif' textLength="220.6" lengthAdjust="spacingAndGlyphs" stroke="#000" stroke-width="0.35">Squalene (50 µg)</text>
<path d="M637.9,874.5 L714.5,874.5" fill="none" stroke="#d9d9d9" stroke-width="5.3" stroke-linecap="round" stroke-linejoin="round" stroke-dasharray="35.7 24.3 0 24.3"/>
<text x="726.5" y="884.7" font-size="28.5" text-anchor="start" font-weight="bold" font-family='"Liberation Sans", Arial, sans-serif' textLength="237.0" lengthAdjust="spacingAndGlyphs" stroke="#000" stroke-width="0.35">Squalene (300 µg)</text>
<path d="M637.9,921.2 L714.5,921.2" fill="none" stroke="#000" stroke-width="5.3" stroke-linecap="round" stroke-linejoin="round"/>
<text x="726.5" y="931.4" font-size="28.5" text-anchor="start" font-weight="bold" font-family='"Liberation Sans", Arial, sans-serif' textLength="178.7" lengthAdjust="spacingAndGlyphs" stroke="#000" stroke-width="0.35">hMGS (30 µg)</text>
<path d="M637.9,967.9 L714.5,967.9" fill="none" stroke="#000" stroke-width="5.3" stroke-linecap="round" stroke-linejoin="round" stroke-dasharray="10.1 12.4"/>
<text x="726.5" y="978.1" font-size="28.5" text-anchor="start" font-weight="bold" font-family='"Liberation Sans", Arial, sans-serif' textLength="253.0" lengthAdjust="spacingAndGlyphs" stroke="#000" stroke-width="0.35">99% hMGS + 1% SQ</text>
<path d="M637.9,1014.6 L714.5,1014.6" fill="none" stroke="#000" stroke-width="5.3" stroke-linecap="round" stroke-linejoin="round" stroke-dasharray="0 11.25"/>
<text x="726.5" y="1024.8" font-size="28.5" text-anchor="start" font-weight="bold" font-family='"Liberation Sans", Arial, sans-serif' textLength="253.0" lengthAdjust="spacingAndGlyphs" stroke="#000" stroke-width="0.35">95% hMGS + 5% SQ</text>
<path d="M637.9,1061.3 L714.5,1061.3" fill="none" stroke="#a6a6a6" stroke-width="5.3" stroke-linecap="round" stroke-linejoin="round"/>
<text x="726.5" y="1071.5" font-size="28.5" text-anchor="start" font-weight="bold" font-family='"Liberation Sans", Arial, sans-serif' textLength="253.0" lengthAdjust="spacingAndGlyphs" stroke="#000" stroke-width="0.35">93% hMGS + 7% SQ</text>
<path d="M637.9,1108.0 L714.5,1108.0" fill="none" stroke="#a6a6a6" stroke-width="5.3" stroke-linecap="round" stroke-linejoin="round" stroke-dasharray="9.1 13.5"/>
<text x="726.5" y="1118.2" font-size="28.5" text-anchor="start" font-weight="bold" font-family='"Liberation Sans", Arial, sans-serif' textLength="270.0" lengthAdjust="spacingAndGlyphs" stroke="#000" stroke-width="0.35">90% hMGS + 10% SQ</text>
<path d="M637.9,1154.7 L714.5,1154.7" fill="none" stroke="#a6a6a6" stroke-width="5.3" stroke-linecap="round" stroke-linejoin="round" stroke-dasharray="14.1 23.65 0 23.65"/>
<text x="726.5" y="1164.9" font-size="28.5" text-anchor="start" font-weight="bold" font-family='"Liberation Sans", Arial, sans-serif' textLength="270.0" lengthAdjust="spacingAndGlyphs" stroke="#000" stroke-width="0.35">70% hMGS + 30% SQ</text>
<path d="M637.9,1201.4 L714.5,1201.4" fill="none" stroke="#b2b2b2" stroke-width="5.3" stroke-linecap="round" stroke-linejoin="round" stroke-dasharray="0 11.35"/>
<text x="726.5" y="1211.6" font-size="28.5" text-anchor="start" font-weight="bold" font-family='"Liberation Sans", Arial, sans-serif' textLength="270.0" lengthAdjust="spacingAndGlyphs" stroke="#000" stroke-width="0.35">50% hMGS + 50% SQ</text>
</svg>
</body></html>
